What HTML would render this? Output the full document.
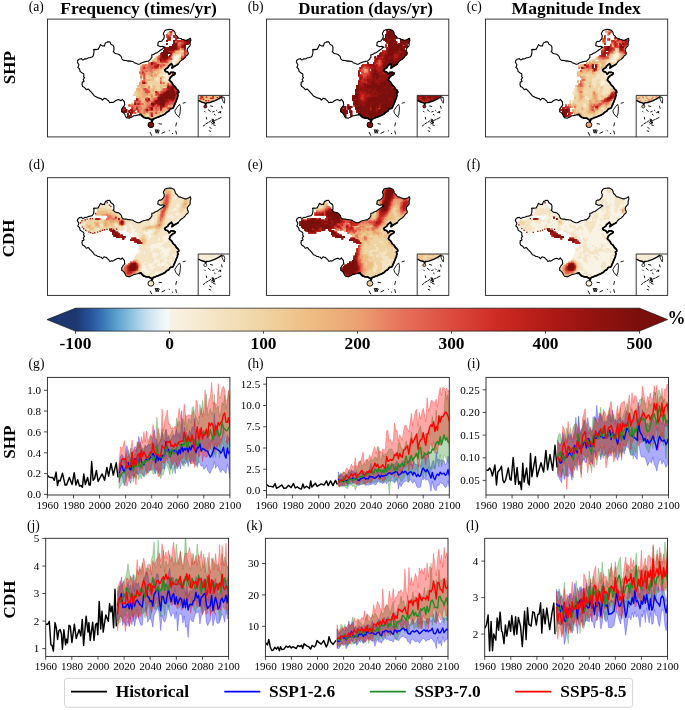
<!DOCTYPE html>
<html lang="en"><head><meta charset="utf-8"><title>Figure</title>
<style>
html,body{margin:0;padding:0;background:#fff;}
body{width:685px;height:710px;overflow:hidden;}
svg{display:block;}
text{font-family:"Liberation Serif", serif;fill:#000;}
.b{font-weight:bold;}
.pl{font-size:13.6px;}
.tt{font-size:17px;font-weight:bold;}
.tk{font-size:11.1px;}
.fr{fill:none;stroke:#222;stroke-width:0.9;}
.tm{stroke:#222;stroke-width:0.8;fill:none;}
</style></head><body>
<svg width="685" height="710" viewBox="0 0 685 710">
<rect x="0" y="0" width="685" height="710" fill="#ffffff"/>
<defs>
<linearGradient id="cb" x1="0" y1="0" x2="1" y2="0">
<stop offset="0.0000" stop-color="#1d3770"/>
<stop offset="0.0250" stop-color="#27509a"/>
<stop offset="0.0500" stop-color="#3b78b8"/>
<stop offset="0.0750" stop-color="#5fa3cf"/>
<stop offset="0.1000" stop-color="#8fc4df"/>
<stop offset="0.1250" stop-color="#c3deed"/>
<stop offset="0.1500" stop-color="#e9f2f7"/>
<stop offset="0.1658" stop-color="#f7fafb"/>
<stop offset="0.1675" stop-color="#f9f3e6"/>
<stop offset="0.2500" stop-color="#f4e4c4"/>
<stop offset="0.3333" stop-color="#efd4a3"/>
<stop offset="0.4167" stop-color="#eebd83"/>
<stop offset="0.5000" stop-color="#eba273"/>
<stop offset="0.5833" stop-color="#e5705a"/>
<stop offset="0.6667" stop-color="#dc4b3f"/>
<stop offset="0.7500" stop-color="#cd2a22"/>
<stop offset="0.8333" stop-color="#b31b17"/>
<stop offset="0.9167" stop-color="#941310"/>
<stop offset="1.0000" stop-color="#7b0f0c"/>
</linearGradient>
</defs>
<text class="tt" x="60.3" y="13.8" textLength="156.6" lengthAdjust="spacingAndGlyphs">Frequency (times/yr)</text>
<text class="tt" x="298.2" y="13.8" textLength="134.8" lengthAdjust="spacingAndGlyphs">Duration (days/yr)</text>
<text class="tt" x="511.6" y="13.8" textLength="129.2" lengthAdjust="spacingAndGlyphs">Magnitude Index</text>
<text class="pl" x="28.7" y="10.5">(a)</text>
<text class="pl" x="247.7" y="10.5">(b)</text>
<text class="pl" x="466.7" y="10.5">(c)</text>
<text class="pl" x="28.7" y="169.2">(d)</text>
<text class="pl" x="247.7" y="169.2">(e)</text>
<text class="pl" x="466.7" y="169.2">(f)</text>
<text class="pl" x="28.6" y="367.9">(g)</text>
<text class="pl" x="247.7" y="367.9">(h)</text>
<text class="pl" x="467.2" y="367.9">(i)</text>
<text class="pl" x="26.9" y="530.0">(j)</text>
<text class="pl" x="246.6" y="530.0">(k)</text>
<text class="pl" x="465.9" y="530.0">(l)</text>
<text class="tt" transform="translate(14.6 67.7) rotate(-90)" text-anchor="middle">SHP</text>
<text class="tt" transform="translate(13.6 238.3) rotate(-90)" text-anchor="middle">CDH</text>
<text class="tt" transform="translate(14.6 442.2) rotate(-90)" text-anchor="middle">SHP</text>
<text class="tt" transform="translate(15.2 599.5) rotate(-90)" text-anchor="middle">CDH</text>
<defs><path id="chn" d="M29.8 43.0L30.3 41.2L31.8 39.9L34.0 39.5L35.4 40.8L37.3 39.7L39.8 39.4L42.4 38.6L44.6 37.9L46.0 35.7L46.4 33.2L46.0 30.6L48.6 30.5L50.8 30.2L51.9 28.0L53.0 25.5L55.2 26.9L57.0 26.9L58.1 23.7L60.3 22.6L62.1 22.7L63.2 24.8L65.4 26.2L66.5 28.4L66.5 30.6L65.6 32.7L67.4 34.1L70.3 34.9L72.5 36.3L74.0 38.2L75.1 40.7L78.0 41.4L81.3 41.8L84.9 42.3L87.9 44.0L91.5 45.1L95.2 43.3L98.1 42.5L101.0 42.2L103.2 40.3L104.5 38.2L104.3 35.6L106.5 35.2L109.0 33.8L111.9 31.9L114.5 30.1L116.0 28.5L117.5 28.2L115.3 27.1L112.7 27.5L110.2 26.4L110.5 23.8L112.0 22.3L114.5 21.8L116.0 20.2L116.7 17.6L116.0 13.9L117.1 11.8L119.3 10.7L122.2 10.3L125.1 11.0L127.0 12.5L127.7 14.7L129.5 16.9L130.6 18.7L133.2 19.4L136.1 20.5L139.0 21.2L141.2 20.2L143.0 19.1L143.4 21.2L142.6 24.2L142.3 27.1L140.5 28.9L139.7 30.7L140.8 33.7L140.1 35.8L138.3 37.3L136.8 39.1L135.3 40.5L132.8 42.3L131.0 44.8L128.4 46.3L125.9 47.8L124.4 48.9L125.1 46.3L124.0 44.5L121.8 46.3L119.7 48.9L117.1 50.7L118.2 52.5L120.4 53.2L121.6 55.1L123.3 53.2L125.9 53.2L127.7 54.0L127.0 55.4L124.8 56.5L122.9 58.3L121.8 60.9L123.3 62.4L124.8 64.2L126.2 66.4L128.0 68.2L129.5 70.4L131.0 71.8L131.3 73.3L129.9 74.0L130.6 76.2L129.9 78.8L128.8 81.3L127.7 83.9L126.6 86.4L125.5 89.0L123.2 89.6L121.0 92.2L118.0 94.4L115.1 96.2L112.2 97.3L109.3 98.4L107.1 99.5L105.3 100.2L104.5 102.4L103.4 100.2L101.3 99.1L98.3 99.1L96.1 98.4L93.5 95.2L91.3 95.6L88.7 96.3L86.2 96.7L84.0 98.1L81.8 99.2L79.3 98.8L77.8 96.7L76.3 94.1L74.1 92.6L74.1 90.1L75.6 87.9L77.3 85.7L76.7 82.4L74.9 80.2L73.4 81.7L70.9 80.5L67.9 81.7L65.4 83.4L62.1 83.5L61.0 81.7L59.2 79.9L56.6 79.1L54.8 81.0L53.7 79.5L50.4 78.8L47.5 77.3L46.0 75.7L44.1 73.5L42.3 71.7L40.5 69.8L38.7 70.6L37.2 68.7L35.0 67.3L34.4 65.1L34.7 62.9L36.6 62.2L35.7 60.3L37.1 58.5L36.1 57.1L36.3 55.2L35.0 54.1L32.5 52.3L32.1 50.1L30.3 48.3L31.4 45.4L29.9 42.8z"/><path id="chj" d="M29.8 43.0L30.1 42.1L30.3 41.2L31.2 40.7L31.8 39.9L32.9 39.9L34.0 39.5L34.5 40.4L35.4 40.8L36.4 40.4L37.3 39.7L38.6 39.8L39.8 39.4L41.0 38.7L42.4 38.6L43.5 38.2L44.6 37.9L45.5 37.0L46.0 35.7L46.3 34.4L46.4 33.2L46.5 31.8L46.0 30.6L47.3 30.3L48.6 30.5L49.7 30.3L50.8 30.2L51.2 29.1L51.9 28.0L52.4 26.8L53.0 25.5L54.0 26.3L55.2 26.9L56.1 26.6L57.0 26.9L57.2 25.8L57.6 24.7L58.1 23.7L59.3 23.4L60.3 22.6L61.2 22.8L62.1 22.7L62.8 23.6L63.2 24.8L64.2 25.6L65.4 26.2L66.1 27.2L66.5 28.4L66.4 29.5L66.5 30.6L66.3 31.7L65.6 32.7L66.7 33.2L67.4 34.1L68.8 34.7L70.3 34.9L71.5 35.4L72.5 36.3L73.4 37.1L74.0 38.2L74.3 39.6L75.1 40.7L76.5 41.3L78.0 41.4L79.1 41.4L80.2 42.0L81.3 41.8L82.5 42.0L83.7 42.3L84.9 42.3L86.0 42.7L86.7 43.7L87.9 44.0L89.0 44.5L90.2 45.0L91.5 45.1L92.8 44.7L93.9 43.8L95.2 43.3L96.6 42.8L98.1 42.5L99.5 42.1L101.0 42.2L101.9 41.1L103.2 40.3L103.6 39.1L104.5 38.2L104.3 36.9L104.3 35.6L105.4 35.5L106.5 35.2L107.6 34.2L109.0 33.8L110.1 33.3L110.9 32.5L111.9 31.9L113.2 30.9L114.5 30.1L115.4 29.5L116.0 28.5L117.5 28.2L116.4 27.6L115.3 27.1L114.0 27.4L112.7 27.5L111.4 26.9L110.2 26.4L110.5 25.1L110.5 23.8L111.1 22.9L112.0 22.3L113.3 22.4L114.5 21.8L115.0 20.8L116.0 20.2L116.5 18.9L116.7 17.6L116.7 16.3L115.9 15.2L116.0 13.9L116.7 12.9L117.1 11.8L118.2 11.1L119.3 10.7L120.8 10.5L122.2 10.3L123.7 10.4L125.1 11.0L126.2 11.5L127.0 12.5L127.5 13.5L127.7 14.7L128.4 16.0L129.5 16.9L130.2 17.7L130.6 18.7L131.8 19.2L133.2 19.4L134.5 20.2L136.1 20.5L137.5 21.2L139.0 21.2L140.0 20.6L141.2 20.2L142.1 19.5L143.0 19.1L143.2 20.2L143.4 21.2L142.8 22.7L142.6 24.2L142.7 25.7L142.3 27.1L141.3 27.9L140.5 28.9L139.9 29.8L139.7 30.7L140.1 32.3L140.8 33.7L140.7 34.8L140.1 35.8L139.0 36.4L138.3 37.3L137.7 38.4L136.8 39.1L136.1 39.9L135.3 40.5L134.0 41.3L132.8 42.3L131.7 43.4L131.0 44.8L129.7 45.7L128.4 46.3L127.0 46.8L125.9 47.8L125.1 48.3L124.4 48.9L124.6 47.5L125.1 46.3L124.5 45.4L124.0 44.5L123.1 45.5L121.8 46.3L121.3 47.3L120.6 48.1L119.7 48.9L118.3 49.7L117.1 50.7L117.4 51.8L118.2 52.5L119.4 52.7L120.4 53.2L121.2 54.0L121.6 55.1L122.7 54.4L123.3 53.2L124.6 53.3L125.9 53.2L126.8 53.5L127.7 54.0L127.5 54.8L127.0 55.4L125.8 55.9L124.8 56.5L123.7 57.3L122.9 58.3L122.4 59.6L121.8 60.9L122.6 61.6L123.3 62.4L124.3 63.1L124.8 64.2L125.3 65.4L126.2 66.4L127.3 67.1L128.0 68.2L128.8 69.3L129.5 70.4L130.1 71.3L131.0 71.8L131.3 73.3L130.7 73.9L129.9 74.0L130.1 75.2L130.6 76.2L130.0 77.4L129.9 78.8L129.2 80.0L128.8 81.3L128.1 82.5L127.7 83.9L127.4 85.3L126.6 86.4L126.1 87.7L125.5 89.0L124.4 89.5L123.2 89.6L122.3 90.3L121.8 91.4L121.0 92.2L120.0 92.9L118.8 93.4L118.0 94.4L117.0 94.8L115.9 95.3L115.1 96.2L113.7 96.8L112.2 97.3L110.8 97.8L109.3 98.4L108.1 98.8L107.1 99.5L106.2 99.8L105.3 100.2L105.0 101.3L104.5 102.4L103.9 101.3L103.4 100.2L102.3 99.9L101.3 99.1L99.8 99.2L98.3 99.1L97.3 98.4L96.1 98.4L95.5 97.1L94.4 96.2L93.5 95.2L92.4 95.4L91.3 95.6L90.0 96.0L88.7 96.3L87.5 96.7L86.2 96.7L85.2 97.5L84.0 98.1L82.8 98.5L81.8 99.2L80.6 98.8L79.3 98.8L78.4 97.8L77.8 96.7L77.2 95.3L76.3 94.1L75.3 93.2L74.1 92.6L74.3 91.4L74.1 90.1L75.0 89.1L75.6 87.9L76.6 86.9L77.3 85.7L77.0 84.6L77.0 83.5L76.7 82.4L75.7 81.4L74.9 80.2L74.1 81.0L73.4 81.7L72.2 80.9L70.9 80.5L69.4 81.0L67.9 81.7L66.7 82.6L65.4 83.4L64.3 83.1L63.2 83.4L62.1 83.5L61.6 82.6L61.0 81.7L59.9 81.0L59.2 79.9L57.9 79.5L56.6 79.1L55.8 80.2L54.8 81.0L54.3 80.2L53.7 79.5L52.6 79.3L51.6 78.8L50.4 78.8L49.5 78.2L48.6 77.6L47.5 77.3L46.7 76.6L46.0 75.7L45.1 74.5L44.1 73.5L43.3 72.5L42.3 71.7L41.6 70.6L40.5 69.8L39.6 70.3L38.7 70.6L38.1 69.5L37.2 68.7L36.2 67.8L35.0 67.3L34.8 66.2L34.4 65.1L34.8 64.0L34.7 62.9L35.7 62.8L36.6 62.2L36.2 61.3L35.7 60.3L36.4 59.4L37.1 58.5L36.4 57.9L36.1 57.1L36.4 56.2L36.3 55.2L35.9 54.5L35.0 54.1L33.7 53.2L32.5 52.3L32.4 51.2L32.1 50.1L31.3 49.1L30.3 48.3L31.0 46.9L31.4 45.4L30.5 44.2L29.9 42.8z"/><path id="cst" d="M131.0 44.8L129.7 45.6L128.4 46.3L127.2 47.1L125.9 47.8L125.3 48.5L124.4 48.9L125.0 47.6L125.1 46.3L124.3 45.5L124.0 44.5L122.9 45.4L121.8 46.3L120.9 47.0L120.6 48.2L119.7 48.9L118.4 49.7L117.1 50.7L117.6 51.6L118.2 52.5L119.4 52.6L120.4 53.2L121.1 54.1L121.6 55.1L122.6 54.2L123.3 53.2L124.6 53.2L125.9 53.2L126.7 53.7L127.7 54.0L127.5 54.8L127.0 55.4L125.9 56.1L124.8 56.5L124.0 57.6L122.9 58.3L122.4 59.6L121.8 60.9L122.4 61.8L123.3 62.4L124.0 63.3L124.8 64.2L125.3 65.4L126.2 66.4L127.2 67.2L128.0 68.2L128.6 69.4L129.5 70.4L130.4 70.9L131.0 71.8L131.3 73.3L130.7 73.8L129.9 74.0L130.1 75.2L130.6 76.2L130.1 77.5L129.9 78.8L129.4 80.1L128.8 81.3L128.5 82.7L127.7 83.9L127.3 85.2L126.6 86.4L126.2 87.8L125.5 89.0L124.4 89.4L123.2 89.6L122.3 90.3L121.8 91.4L121.0 92.2L119.8 92.7L118.9 93.4L118.0 94.4L117.2 95.2L116.1 95.6L115.1 96.2L113.7 96.7L112.2 97.3L110.9 98.1L109.3 98.4L108.2 99.0L107.1 99.5L106.1 99.6L105.3 100.2L105.1 101.4L104.5 102.4L104.1 101.3L103.4 100.2L102.2 99.9L101.3 99.1L99.8 99.1L98.3 99.1L97.3 98.5L96.1 98.4L95.1 97.4L94.1 96.5L93.5 95.2L92.4 95.6L91.3 95.6"/>
<clipPath id="chc"><use href="#chn"/><ellipse cx="103.4" cy="105.7" rx="2.9" ry="2.8"/></clipPath>
<g id="sea"><path d="M132.1 85.2L129.7 88.0L127.3 91.8L128.1 94.4L131.1 97.8L132.4 95.0L132.8 91.0L132.9 87.5z" fill="#fff" stroke="#000" stroke-width="0.9" stroke-linejoin="round"/>
<path d="M135.6 84.1L137.8 83.4M111.5 104.6L114.0 105.0M129.0 103.8L128.3 106.8M107.8 111.0L108.7 113.7M108.7 113.7L109.7 111.3M109.7 111.3L110.6 113.9M110.6 113.9L111.6 111.6M114.4 114.2L117.3 112.8M121.6 111.4L122.0 111.7M124.8 114.3L125.3 114.6M128.3 111.9L129.0 114.8M102.7 113.3L104.2 116.3M131.4 97.9L131.9 98.4M108.2 110.8L111.3 111.0" stroke="#000" stroke-width="0.9" fill="none" stroke-linecap="round"/></g>
</defs>
<g transform="translate(47.5 19.1)">
<g clip-path="url(#chc)"><g transform="scale(1.50)">
<path fill="#f9f3e6" d="M83 7h1.1v1.2h-1.1zM81 8h2.1v1.2h-2.1zM80 9h3.1v1.2h-3.1zM79 10h4.1v1.2h-4.1zM79 11h3.1v1.2h-3.1zM84 11h2.1v1.2h-2.1zM80 12h2.1v1.2h-2.1zM85 12h2.1v1.2h-2.1zM80 13h2.1v1.2h-2.1zM85 13h1.1v1.2h-1.1zM89 13h1.1v1.2h-1.1zM94 13h1.1v1.2h-1.1zM79 14h1.1v1.2h-1.1zM84 14h1.1v1.2h-1.1zM86 14h9.1v1.2h-9.1zM84 15h1.1v1.2h-1.1zM86 15h9.1v1.2h-9.1zM79 16h1.1v1.2h-1.1zM84 16h10.1v1.2h-10.1zM83 17h9.1v1.2h-9.1zM81 18h11.1v1.2h-11.1zM78 19h14.1v1.2h-14.1zM78 20h14.1v1.2h-14.1zM77 21h16.1v1.2h-16.1zM76 22h18.1v1.2h-18.1zM75 23h5.1v1.2h-5.1zM82 23h12.1v1.2h-12.1zM74 24h6.1v1.2h-6.1zM81 24h12.1v1.2h-12.1zM72 25h20.1v1.2h-20.1zM71 26h20.1v1.2h-20.1zM70 27h19.1v1.2h-19.1zM70 28h18.1v1.2h-18.1zM67 29h21.1v1.2h-21.1zM63 30h19.1v1.2h-19.1zM83 30h3.1v1.2h-3.1zM62 31h19.1v1.2h-19.1zM83 31h1.1v1.2h-1.1zM62 32h18.1v1.2h-18.1zM62 33h16.1v1.2h-16.1zM62 34h16.1v1.2h-16.1zM61 35h19.1v1.2h-19.1zM82 35h2.1v1.2h-2.1zM62 36h7.1v1.2h-7.1zM71 36h14.1v1.2h-14.1zM62 37h22.1v1.2h-22.1zM62 38h1.1v1.2h-1.1zM64 38h18.1v1.2h-18.1zM62 39h1.1v1.2h-1.1zM64 39h18.1v1.2h-18.1zM64 40h17.1v1.2h-17.1zM62 41h20.1v1.2h-20.1zM61 42h22.1v1.2h-22.1zM61 43h23.1v1.2h-23.1zM60 44h24.1v1.2h-24.1zM60 45h25.1v1.2h-25.1zM59 46h27.1v1.2h-27.1zM59 47h28.1v1.2h-28.1zM58 48h29.1v1.2h-29.1zM58 49h29.1v1.2h-29.1zM57 50h30.1v1.2h-30.1zM59 51h28.1v1.2h-28.1zM59 52h28.1v1.2h-28.1zM59 53h27.1v1.2h-27.1zM58 54h28.1v1.2h-28.1zM58 55h27.1v1.2h-27.1zM56 56h1.1v1.2h-1.1zM58 56h27.1v1.2h-27.1zM54 57h30.1v1.2h-30.1zM50 58h1.1v1.2h-1.1zM56 58h28.1v1.2h-28.1zM50 59h2.1v1.2h-2.1zM56 59h27.1v1.2h-27.1zM49 60h1.1v1.2h-1.1zM52 60h1.1v1.2h-1.1zM55 60h2.1v1.2h-2.1zM58 60h1.1v1.2h-1.1zM60 60h21.1v1.2h-21.1zM50 61h3.1v1.2h-3.1zM54 61h1.1v1.2h-1.1zM56 61h2.1v1.2h-2.1zM60 61h21.1v1.2h-21.1zM55 62h2.1v1.2h-2.1zM58 62h1.1v1.2h-1.1zM61 62h18.1v1.2h-18.1zM53 63h1.1v1.2h-1.1zM55 63h1.1v1.2h-1.1zM61 63h17.1v1.2h-17.1zM53 64h3.1v1.2h-3.1zM63 64h13.1v1.2h-13.1zM54 65h1.1v1.2h-1.1zM64 65h9.1v1.2h-9.1zM68 66h3.1v1.2h-3.1zM69 67h1.1v1.2h-1.1zM67 69h4.1v1.2h-4.1zM67 70h4.1v1.2h-4.1zM67 71h4.1v1.2h-4.1z"/>
<path fill="#f4e4c4" d="M83 7h1.1v1.2h-1.1zM81 8h2.1v1.2h-2.1zM80 9h3.1v1.2h-3.1zM79 10h4.1v1.2h-4.1zM79 11h3.1v1.2h-3.1zM84 11h2.1v1.2h-2.1zM80 12h2.1v1.2h-2.1zM85 12h2.1v1.2h-2.1zM80 13h2.1v1.2h-2.1zM85 13h1.1v1.2h-1.1zM89 13h1.1v1.2h-1.1zM94 13h1.1v1.2h-1.1zM79 14h1.1v1.2h-1.1zM84 14h1.1v1.2h-1.1zM86 14h9.1v1.2h-9.1zM84 15h1.1v1.2h-1.1zM86 15h9.1v1.2h-9.1zM79 16h1.1v1.2h-1.1zM84 16h10.1v1.2h-10.1zM83 17h9.1v1.2h-9.1zM81 18h11.1v1.2h-11.1zM78 19h14.1v1.2h-14.1zM78 20h14.1v1.2h-14.1zM77 21h16.1v1.2h-16.1zM76 22h18.1v1.2h-18.1zM75 23h5.1v1.2h-5.1zM82 23h12.1v1.2h-12.1zM74 24h6.1v1.2h-6.1zM81 24h3.1v1.2h-3.1zM88 24h5.1v1.2h-5.1zM72 25h12.1v1.2h-12.1zM88 25h4.1v1.2h-4.1zM71 26h13.1v1.2h-13.1zM87 26h4.1v1.2h-4.1zM70 27h13.1v1.2h-13.1zM87 27h2.1v1.2h-2.1zM70 28h13.1v1.2h-13.1zM85 28h3.1v1.2h-3.1zM67 29h16.1v1.2h-16.1zM85 29h3.1v1.2h-3.1zM63 30h19.1v1.2h-19.1zM62 31h19.1v1.2h-19.1zM62 32h18.1v1.2h-18.1zM62 33h16.1v1.2h-16.1zM62 34h16.1v1.2h-16.1zM61 35h19.1v1.2h-19.1zM82 35h2.1v1.2h-2.1zM62 36h7.1v1.2h-7.1zM71 36h8.1v1.2h-8.1zM80 36h5.1v1.2h-5.1zM62 37h15.1v1.2h-15.1zM80 37h4.1v1.2h-4.1zM62 38h1.1v1.2h-1.1zM64 38h15.1v1.2h-15.1zM80 38h2.1v1.2h-2.1zM62 39h1.1v1.2h-1.1zM64 39h15.1v1.2h-15.1zM80 39h2.1v1.2h-2.1zM64 40h13.1v1.2h-13.1zM78 40h3.1v1.2h-3.1zM62 41h20.1v1.2h-20.1zM61 42h22.1v1.2h-22.1zM61 43h23.1v1.2h-23.1zM60 44h24.1v1.2h-24.1zM60 45h25.1v1.2h-25.1zM59 46h27.1v1.2h-27.1zM59 47h28.1v1.2h-28.1zM58 48h29.1v1.2h-29.1zM58 49h29.1v1.2h-29.1zM57 50h30.1v1.2h-30.1zM59 51h28.1v1.2h-28.1zM59 52h28.1v1.2h-28.1zM59 53h27.1v1.2h-27.1zM58 54h28.1v1.2h-28.1zM58 55h27.1v1.2h-27.1zM56 56h1.1v1.2h-1.1zM58 56h27.1v1.2h-27.1zM54 57h30.1v1.2h-30.1zM50 58h1.1v1.2h-1.1zM56 58h28.1v1.2h-28.1zM50 59h2.1v1.2h-2.1zM56 59h27.1v1.2h-27.1zM49 60h1.1v1.2h-1.1zM52 60h1.1v1.2h-1.1zM55 60h2.1v1.2h-2.1zM58 60h1.1v1.2h-1.1zM60 60h21.1v1.2h-21.1zM50 61h3.1v1.2h-3.1zM54 61h1.1v1.2h-1.1zM56 61h2.1v1.2h-2.1zM60 61h21.1v1.2h-21.1zM55 62h2.1v1.2h-2.1zM58 62h1.1v1.2h-1.1zM61 62h18.1v1.2h-18.1zM53 63h1.1v1.2h-1.1zM55 63h1.1v1.2h-1.1zM61 63h17.1v1.2h-17.1zM53 64h3.1v1.2h-3.1zM63 64h13.1v1.2h-13.1zM54 65h1.1v1.2h-1.1zM64 65h9.1v1.2h-9.1zM68 66h3.1v1.2h-3.1zM69 67h1.1v1.2h-1.1zM67 69h4.1v1.2h-4.1zM67 70h4.1v1.2h-4.1zM67 71h4.1v1.2h-4.1z"/>
<path fill="#efd4a3" d="M83 7h1.1v1.2h-1.1zM81 8h2.1v1.2h-2.1zM80 9h3.1v1.2h-3.1zM79 10h4.1v1.2h-4.1zM79 11h3.1v1.2h-3.1zM84 11h2.1v1.2h-2.1zM80 12h2.1v1.2h-2.1zM85 12h2.1v1.2h-2.1zM80 13h2.1v1.2h-2.1zM85 13h1.1v1.2h-1.1zM89 13h1.1v1.2h-1.1zM94 13h1.1v1.2h-1.1zM79 14h1.1v1.2h-1.1zM84 14h1.1v1.2h-1.1zM86 14h9.1v1.2h-9.1zM84 15h1.1v1.2h-1.1zM86 15h9.1v1.2h-9.1zM79 16h1.1v1.2h-1.1zM84 16h10.1v1.2h-10.1zM83 17h9.1v1.2h-9.1zM81 18h11.1v1.2h-11.1zM78 19h14.1v1.2h-14.1zM78 20h14.1v1.2h-14.1zM77 21h12.1v1.2h-12.1zM90 21h3.1v1.2h-3.1zM76 22h18.1v1.2h-18.1zM75 23h5.1v1.2h-5.1zM82 23h4.1v1.2h-4.1zM89 23h5.1v1.2h-5.1zM74 24h6.1v1.2h-6.1zM81 24h3.1v1.2h-3.1zM89 24h4.1v1.2h-4.1zM72 25h11.1v1.2h-11.1zM88 25h4.1v1.2h-4.1zM71 26h12.1v1.2h-12.1zM88 26h3.1v1.2h-3.1zM70 27h13.1v1.2h-13.1zM88 27h1.1v1.2h-1.1zM70 28h13.1v1.2h-13.1zM87 28h1.1v1.2h-1.1zM67 29h15.1v1.2h-15.1zM86 29h2.1v1.2h-2.1zM63 30h18.1v1.2h-18.1zM62 31h18.1v1.2h-18.1zM62 32h15.1v1.2h-15.1zM62 33h16.1v1.2h-16.1zM62 34h14.1v1.2h-14.1zM61 35h16.1v1.2h-16.1zM82 35h2.1v1.2h-2.1zM62 36h7.1v1.2h-7.1zM71 36h3.1v1.2h-3.1zM82 36h3.1v1.2h-3.1zM62 37h12.1v1.2h-12.1zM81 37h3.1v1.2h-3.1zM62 38h1.1v1.2h-1.1zM64 38h9.1v1.2h-9.1zM74 38h4.1v1.2h-4.1zM62 39h1.1v1.2h-1.1zM64 39h8.1v1.2h-8.1zM75 39h2.1v1.2h-2.1zM81 39h1.1v1.2h-1.1zM64 40h7.1v1.2h-7.1zM74 40h3.1v1.2h-3.1zM80 40h1.1v1.2h-1.1zM62 41h11.1v1.2h-11.1zM74 41h4.1v1.2h-4.1zM81 41h1.1v1.2h-1.1zM61 42h22.1v1.2h-22.1zM61 43h8.1v1.2h-8.1zM70 43h14.1v1.2h-14.1zM60 44h9.1v1.2h-9.1zM70 44h14.1v1.2h-14.1zM60 45h9.1v1.2h-9.1zM70 45h7.1v1.2h-7.1zM78 45h7.1v1.2h-7.1zM59 46h27.1v1.2h-27.1zM59 47h28.1v1.2h-28.1zM58 48h29.1v1.2h-29.1zM58 49h29.1v1.2h-29.1zM57 50h30.1v1.2h-30.1zM59 51h28.1v1.2h-28.1zM59 52h28.1v1.2h-28.1zM59 53h27.1v1.2h-27.1zM58 54h28.1v1.2h-28.1zM58 55h27.1v1.2h-27.1zM56 56h1.1v1.2h-1.1zM58 56h27.1v1.2h-27.1zM54 57h30.1v1.2h-30.1zM50 58h1.1v1.2h-1.1zM56 58h28.1v1.2h-28.1zM50 59h2.1v1.2h-2.1zM56 59h27.1v1.2h-27.1zM49 60h1.1v1.2h-1.1zM52 60h1.1v1.2h-1.1zM55 60h2.1v1.2h-2.1zM58 60h1.1v1.2h-1.1zM60 60h21.1v1.2h-21.1zM50 61h3.1v1.2h-3.1zM54 61h1.1v1.2h-1.1zM56 61h2.1v1.2h-2.1zM60 61h21.1v1.2h-21.1zM55 62h2.1v1.2h-2.1zM58 62h1.1v1.2h-1.1zM61 62h14.1v1.2h-14.1zM76 62h1.1v1.2h-1.1zM78 62h1.1v1.2h-1.1zM53 63h1.1v1.2h-1.1zM55 63h1.1v1.2h-1.1zM61 63h15.1v1.2h-15.1zM53 64h3.1v1.2h-3.1zM63 64h13.1v1.2h-13.1zM54 65h1.1v1.2h-1.1zM64 65h2.1v1.2h-2.1zM67 65h6.1v1.2h-6.1zM68 66h3.1v1.2h-3.1zM69 67h1.1v1.2h-1.1zM67 69h4.1v1.2h-4.1zM67 70h4.1v1.2h-4.1zM67 71h4.1v1.2h-4.1z"/>
<path fill="#eebd83" d="M83 7h1.1v1.2h-1.1zM81 8h2.1v1.2h-2.1zM80 9h3.1v1.2h-3.1zM79 10h4.1v1.2h-4.1zM79 11h3.1v1.2h-3.1zM84 11h2.1v1.2h-2.1zM80 12h2.1v1.2h-2.1zM85 12h2.1v1.2h-2.1zM80 13h2.1v1.2h-2.1zM85 13h1.1v1.2h-1.1zM89 13h1.1v1.2h-1.1zM94 13h1.1v1.2h-1.1zM79 14h1.1v1.2h-1.1zM84 14h1.1v1.2h-1.1zM86 14h9.1v1.2h-9.1zM84 15h1.1v1.2h-1.1zM86 15h9.1v1.2h-9.1zM79 16h1.1v1.2h-1.1zM84 16h10.1v1.2h-10.1zM83 17h9.1v1.2h-9.1zM81 18h11.1v1.2h-11.1zM78 19h14.1v1.2h-14.1zM78 20h11.1v1.2h-11.1zM90 20h2.1v1.2h-2.1zM77 21h9.1v1.2h-9.1zM87 21h1.1v1.2h-1.1zM91 21h2.1v1.2h-2.1zM76 22h12.1v1.2h-12.1zM89 22h5.1v1.2h-5.1zM75 23h5.1v1.2h-5.1zM82 23h2.1v1.2h-2.1zM89 23h5.1v1.2h-5.1zM74 24h6.1v1.2h-6.1zM81 24h3.1v1.2h-3.1zM89 24h4.1v1.2h-4.1zM72 25h11.1v1.2h-11.1zM89 25h3.1v1.2h-3.1zM71 26h12.1v1.2h-12.1zM88 26h3.1v1.2h-3.1zM70 27h12.1v1.2h-12.1zM88 27h1.1v1.2h-1.1zM70 28h12.1v1.2h-12.1zM67 29h15.1v1.2h-15.1zM86 29h2.1v1.2h-2.1zM63 30h17.1v1.2h-17.1zM62 31h17.1v1.2h-17.1zM62 32h15.1v1.2h-15.1zM62 33h14.1v1.2h-14.1zM62 34h12.1v1.2h-12.1zM61 35h11.1v1.2h-11.1zM73 35h2.1v1.2h-2.1zM82 35h2.1v1.2h-2.1zM62 36h7.1v1.2h-7.1zM71 36h3.1v1.2h-3.1zM82 36h3.1v1.2h-3.1zM62 37h4.1v1.2h-4.1zM67 37h6.1v1.2h-6.1zM83 37h1.1v1.2h-1.1zM62 38h1.1v1.2h-1.1zM64 38h2.1v1.2h-2.1zM67 38h1.1v1.2h-1.1zM70 38h1.1v1.2h-1.1zM76 38h1.1v1.2h-1.1zM62 39h1.1v1.2h-1.1zM64 39h2.1v1.2h-2.1zM69 39h2.1v1.2h-2.1zM75 39h1.1v1.2h-1.1zM64 40h7.1v1.2h-7.1zM75 40h1.1v1.2h-1.1zM62 41h5.1v1.2h-5.1zM75 41h1.1v1.2h-1.1zM61 42h6.1v1.2h-6.1zM75 42h3.1v1.2h-3.1zM80 42h1.1v1.2h-1.1zM61 43h6.1v1.2h-6.1zM76 43h1.1v1.2h-1.1zM79 43h5.1v1.2h-5.1zM60 44h6.1v1.2h-6.1zM67 44h1.1v1.2h-1.1zM70 44h2.1v1.2h-2.1zM75 44h1.1v1.2h-1.1zM77 44h7.1v1.2h-7.1zM61 45h7.1v1.2h-7.1zM70 45h2.1v1.2h-2.1zM75 45h2.1v1.2h-2.1zM79 45h6.1v1.2h-6.1zM59 46h9.1v1.2h-9.1zM69 46h3.1v1.2h-3.1zM76 46h10.1v1.2h-10.1zM59 47h12.1v1.2h-12.1zM72 47h1.1v1.2h-1.1zM75 47h12.1v1.2h-12.1zM60 48h10.1v1.2h-10.1zM71 48h16.1v1.2h-16.1zM60 49h27.1v1.2h-27.1zM61 50h26.1v1.2h-26.1zM59 51h8.1v1.2h-8.1zM68 51h19.1v1.2h-19.1zM59 52h28.1v1.2h-28.1zM59 53h27.1v1.2h-27.1zM58 54h28.1v1.2h-28.1zM58 55h27.1v1.2h-27.1zM56 56h1.1v1.2h-1.1zM58 56h27.1v1.2h-27.1zM54 57h30.1v1.2h-30.1zM50 58h1.1v1.2h-1.1zM56 58h28.1v1.2h-28.1zM50 59h2.1v1.2h-2.1zM56 59h27.1v1.2h-27.1zM49 60h1.1v1.2h-1.1zM52 60h1.1v1.2h-1.1zM55 60h2.1v1.2h-2.1zM58 60h1.1v1.2h-1.1zM60 60h21.1v1.2h-21.1zM50 61h3.1v1.2h-3.1zM54 61h1.1v1.2h-1.1zM56 61h2.1v1.2h-2.1zM60 61h18.1v1.2h-18.1zM55 62h2.1v1.2h-2.1zM58 62h1.1v1.2h-1.1zM61 62h5.1v1.2h-5.1zM67 62h8.1v1.2h-8.1zM53 63h1.1v1.2h-1.1zM55 63h1.1v1.2h-1.1zM61 63h4.1v1.2h-4.1zM68 63h7.1v1.2h-7.1zM53 64h3.1v1.2h-3.1zM64 64h1.1v1.2h-1.1zM68 64h3.1v1.2h-3.1zM75 64h1.1v1.2h-1.1zM54 65h1.1v1.2h-1.1zM64 65h1.1v1.2h-1.1zM68 65h2.1v1.2h-2.1zM68 66h3.1v1.2h-3.1zM69 67h1.1v1.2h-1.1zM67 69h4.1v1.2h-4.1zM67 70h4.1v1.2h-4.1zM67 71h4.1v1.2h-4.1z"/>
<path fill="#eba273" d="M83 7h1.1v1.2h-1.1zM81 8h2.1v1.2h-2.1zM80 9h1.1v1.2h-1.1zM82 9h1.1v1.2h-1.1zM79 10h1.1v1.2h-1.1zM81 10h2.1v1.2h-2.1zM79 11h3.1v1.2h-3.1zM84 11h2.1v1.2h-2.1zM80 12h2.1v1.2h-2.1zM85 12h2.1v1.2h-2.1zM80 13h2.1v1.2h-2.1zM85 13h1.1v1.2h-1.1zM89 13h1.1v1.2h-1.1zM94 13h1.1v1.2h-1.1zM79 14h1.1v1.2h-1.1zM84 14h1.1v1.2h-1.1zM86 14h9.1v1.2h-9.1zM84 15h1.1v1.2h-1.1zM86 15h9.1v1.2h-9.1zM79 16h1.1v1.2h-1.1zM84 16h10.1v1.2h-10.1zM83 17h9.1v1.2h-9.1zM81 18h11.1v1.2h-11.1zM78 19h14.1v1.2h-14.1zM78 20h10.1v1.2h-10.1zM90 20h2.1v1.2h-2.1zM77 21h8.1v1.2h-8.1zM91 21h2.1v1.2h-2.1zM76 22h9.1v1.2h-9.1zM90 22h4.1v1.2h-4.1zM75 23h5.1v1.2h-5.1zM82 23h1.1v1.2h-1.1zM90 23h3.1v1.2h-3.1zM74 24h6.1v1.2h-6.1zM81 24h2.1v1.2h-2.1zM89 24h4.1v1.2h-4.1zM73 25h10.1v1.2h-10.1zM89 25h3.1v1.2h-3.1zM73 26h10.1v1.2h-10.1zM89 26h2.1v1.2h-2.1zM73 27h9.1v1.2h-9.1zM70 28h11.1v1.2h-11.1zM67 29h13.1v1.2h-13.1zM63 30h16.1v1.2h-16.1zM62 31h16.1v1.2h-16.1zM62 32h14.1v1.2h-14.1zM62 33h12.1v1.2h-12.1zM62 34h9.1v1.2h-9.1zM61 35h10.1v1.2h-10.1zM83 35h1.1v1.2h-1.1zM62 36h4.1v1.2h-4.1zM67 36h2.1v1.2h-2.1zM71 36h1.1v1.2h-1.1zM83 36h2.1v1.2h-2.1zM62 37h3.1v1.2h-3.1zM69 37h1.1v1.2h-1.1zM71 37h2.1v1.2h-2.1zM83 37h1.1v1.2h-1.1zM62 38h1.1v1.2h-1.1zM64 38h1.1v1.2h-1.1zM62 39h1.1v1.2h-1.1zM64 39h1.1v1.2h-1.1zM75 39h1.1v1.2h-1.1zM64 40h2.1v1.2h-2.1zM67 40h1.1v1.2h-1.1zM75 40h1.1v1.2h-1.1zM62 41h4.1v1.2h-4.1zM75 41h1.1v1.2h-1.1zM61 42h5.1v1.2h-5.1zM75 42h3.1v1.2h-3.1zM61 43h3.1v1.2h-3.1zM80 43h4.1v1.2h-4.1zM62 44h3.1v1.2h-3.1zM79 44h5.1v1.2h-5.1zM62 45h2.1v1.2h-2.1zM67 45h1.1v1.2h-1.1zM79 45h6.1v1.2h-6.1zM60 46h1.1v1.2h-1.1zM63 46h4.1v1.2h-4.1zM76 46h10.1v1.2h-10.1zM61 47h1.1v1.2h-1.1zM63 47h5.1v1.2h-5.1zM70 47h1.1v1.2h-1.1zM76 47h11.1v1.2h-11.1zM64 48h5.1v1.2h-5.1zM72 48h15.1v1.2h-15.1zM63 49h4.1v1.2h-4.1zM72 49h15.1v1.2h-15.1zM64 50h3.1v1.2h-3.1zM68 50h2.1v1.2h-2.1zM72 50h15.1v1.2h-15.1zM63 51h2.1v1.2h-2.1zM69 51h1.1v1.2h-1.1zM73 51h14.1v1.2h-14.1zM61 52h1.1v1.2h-1.1zM65 52h3.1v1.2h-3.1zM69 52h18.1v1.2h-18.1zM59 53h3.1v1.2h-3.1zM65 53h21.1v1.2h-21.1zM58 54h5.1v1.2h-5.1zM65 54h4.1v1.2h-4.1zM70 54h16.1v1.2h-16.1zM58 55h5.1v1.2h-5.1zM64 55h21.1v1.2h-21.1zM58 56h6.1v1.2h-6.1zM65 56h20.1v1.2h-20.1zM54 57h29.1v1.2h-29.1zM50 58h1.1v1.2h-1.1zM56 58h24.1v1.2h-24.1zM82 58h1.1v1.2h-1.1zM50 59h2.1v1.2h-2.1zM56 59h27.1v1.2h-27.1zM49 60h1.1v1.2h-1.1zM52 60h1.1v1.2h-1.1zM55 60h2.1v1.2h-2.1zM58 60h1.1v1.2h-1.1zM60 60h18.1v1.2h-18.1zM80 60h1.1v1.2h-1.1zM50 61h3.1v1.2h-3.1zM54 61h1.1v1.2h-1.1zM56 61h2.1v1.2h-2.1zM60 61h14.1v1.2h-14.1zM75 61h2.1v1.2h-2.1zM55 62h2.1v1.2h-2.1zM58 62h1.1v1.2h-1.1zM61 62h4.1v1.2h-4.1zM68 62h5.1v1.2h-5.1zM74 62h1.1v1.2h-1.1zM53 63h1.1v1.2h-1.1zM55 63h1.1v1.2h-1.1zM61 63h1.1v1.2h-1.1zM68 63h2.1v1.2h-2.1zM53 64h3.1v1.2h-3.1zM64 64h1.1v1.2h-1.1zM68 64h2.1v1.2h-2.1zM54 65h1.1v1.2h-1.1zM64 65h1.1v1.2h-1.1zM68 66h2.1v1.2h-2.1zM69 67h1.1v1.2h-1.1zM67 69h4.1v1.2h-4.1zM67 70h4.1v1.2h-4.1zM67 71h4.1v1.2h-4.1z"/>
<path fill="#e5705a" d="M83 7h1.1v1.2h-1.1zM81 8h2.1v1.2h-2.1zM82 9h1.1v1.2h-1.1zM79 10h1.1v1.2h-1.1zM81 10h2.1v1.2h-2.1zM79 11h3.1v1.2h-3.1zM84 11h2.1v1.2h-2.1zM80 12h2.1v1.2h-2.1zM85 12h2.1v1.2h-2.1zM80 13h2.1v1.2h-2.1zM85 13h1.1v1.2h-1.1zM89 13h1.1v1.2h-1.1zM94 13h1.1v1.2h-1.1zM79 14h1.1v1.2h-1.1zM84 14h1.1v1.2h-1.1zM86 14h9.1v1.2h-9.1zM84 15h1.1v1.2h-1.1zM86 15h9.1v1.2h-9.1zM79 16h1.1v1.2h-1.1zM84 16h3.1v1.2h-3.1zM88 16h6.1v1.2h-6.1zM83 17h9.1v1.2h-9.1zM81 18h11.1v1.2h-11.1zM78 19h10.1v1.2h-10.1zM89 19h3.1v1.2h-3.1zM78 20h9.1v1.2h-9.1zM91 20h1.1v1.2h-1.1zM77 21h8.1v1.2h-8.1zM91 21h2.1v1.2h-2.1zM76 22h7.1v1.2h-7.1zM91 22h2.1v1.2h-2.1zM75 23h5.1v1.2h-5.1zM82 23h1.1v1.2h-1.1zM91 23h1.1v1.2h-1.1zM74 24h6.1v1.2h-6.1zM81 24h2.1v1.2h-2.1zM91 24h1.1v1.2h-1.1zM73 25h10.1v1.2h-10.1zM89 25h3.1v1.2h-3.1zM73 26h10.1v1.2h-10.1zM89 26h2.1v1.2h-2.1zM73 27h8.1v1.2h-8.1zM70 28h1.1v1.2h-1.1zM74 28h6.1v1.2h-6.1zM67 29h7.1v1.2h-7.1zM76 29h1.1v1.2h-1.1zM65 30h1.1v1.2h-1.1zM67 30h11.1v1.2h-11.1zM63 31h2.1v1.2h-2.1zM66 31h8.1v1.2h-8.1zM75 31h2.1v1.2h-2.1zM63 32h11.1v1.2h-11.1zM62 33h4.1v1.2h-4.1zM67 33h3.1v1.2h-3.1zM71 33h1.1v1.2h-1.1zM63 34h1.1v1.2h-1.1zM65 34h2.1v1.2h-2.1zM68 34h2.1v1.2h-2.1zM61 35h4.1v1.2h-4.1zM69 35h1.1v1.2h-1.1zM62 36h3.1v1.2h-3.1zM83 36h2.1v1.2h-2.1zM64 37h1.1v1.2h-1.1zM69 37h1.1v1.2h-1.1zM62 38h1.1v1.2h-1.1zM64 38h1.1v1.2h-1.1zM64 39h1.1v1.2h-1.1zM75 39h1.1v1.2h-1.1zM63 41h2.1v1.2h-2.1zM75 41h1.1v1.2h-1.1zM63 42h3.1v1.2h-3.1zM75 42h1.1v1.2h-1.1zM77 42h1.1v1.2h-1.1zM80 43h1.1v1.2h-1.1zM82 43h1.1v1.2h-1.1zM80 44h4.1v1.2h-4.1zM67 45h1.1v1.2h-1.1zM80 45h5.1v1.2h-5.1zM64 46h2.1v1.2h-2.1zM77 46h9.1v1.2h-9.1zM64 47h4.1v1.2h-4.1zM76 47h11.1v1.2h-11.1zM65 48h3.1v1.2h-3.1zM72 48h1.1v1.2h-1.1zM75 48h12.1v1.2h-12.1zM66 49h1.1v1.2h-1.1zM72 49h15.1v1.2h-15.1zM72 50h15.1v1.2h-15.1zM69 51h1.1v1.2h-1.1zM73 51h13.1v1.2h-13.1zM66 52h1.1v1.2h-1.1zM72 52h15.1v1.2h-15.1zM59 53h2.1v1.2h-2.1zM65 53h3.1v1.2h-3.1zM70 53h16.1v1.2h-16.1zM58 54h4.1v1.2h-4.1zM66 54h3.1v1.2h-3.1zM70 54h15.1v1.2h-15.1zM58 55h4.1v1.2h-4.1zM66 55h2.1v1.2h-2.1zM69 55h16.1v1.2h-16.1zM58 56h6.1v1.2h-6.1zM68 56h17.1v1.2h-17.1zM54 57h8.1v1.2h-8.1zM66 57h14.1v1.2h-14.1zM50 58h1.1v1.2h-1.1zM56 58h2.1v1.2h-2.1zM59 58h3.1v1.2h-3.1zM66 58h14.1v1.2h-14.1zM50 59h2.1v1.2h-2.1zM56 59h5.1v1.2h-5.1zM62 59h1.1v1.2h-1.1zM65 59h2.1v1.2h-2.1zM68 59h9.1v1.2h-9.1zM80 59h3.1v1.2h-3.1zM49 60h1.1v1.2h-1.1zM52 60h1.1v1.2h-1.1zM55 60h2.1v1.2h-2.1zM58 60h1.1v1.2h-1.1zM60 60h2.1v1.2h-2.1zM64 60h7.1v1.2h-7.1zM72 60h2.1v1.2h-2.1zM75 60h1.1v1.2h-1.1zM50 61h3.1v1.2h-3.1zM54 61h1.1v1.2h-1.1zM56 61h2.1v1.2h-2.1zM60 61h2.1v1.2h-2.1zM64 61h3.1v1.2h-3.1zM72 61h1.1v1.2h-1.1zM55 62h2.1v1.2h-2.1zM58 62h1.1v1.2h-1.1zM61 62h1.1v1.2h-1.1zM64 62h1.1v1.2h-1.1zM68 62h2.1v1.2h-2.1zM72 62h1.1v1.2h-1.1zM53 63h1.1v1.2h-1.1zM55 63h1.1v1.2h-1.1zM68 63h2.1v1.2h-2.1zM53 64h3.1v1.2h-3.1zM69 64h1.1v1.2h-1.1zM54 65h1.1v1.2h-1.1zM69 67h1.1v1.2h-1.1zM67 69h4.1v1.2h-4.1zM67 70h4.1v1.2h-4.1zM67 71h4.1v1.2h-4.1z"/>
<path fill="#dc4b3f" d="M83 7h1.1v1.2h-1.1zM82 8h1.1v1.2h-1.1zM82 9h1.1v1.2h-1.1zM79 10h1.1v1.2h-1.1zM79 11h3.1v1.2h-3.1zM84 11h2.1v1.2h-2.1zM80 12h2.1v1.2h-2.1zM85 12h2.1v1.2h-2.1zM80 13h2.1v1.2h-2.1zM85 13h1.1v1.2h-1.1zM89 13h1.1v1.2h-1.1zM94 13h1.1v1.2h-1.1zM79 14h1.1v1.2h-1.1zM84 14h1.1v1.2h-1.1zM86 14h9.1v1.2h-9.1zM84 15h1.1v1.2h-1.1zM86 15h1.1v1.2h-1.1zM89 15h6.1v1.2h-6.1zM79 16h1.1v1.2h-1.1zM84 16h3.1v1.2h-3.1zM89 16h5.1v1.2h-5.1zM83 17h4.1v1.2h-4.1zM88 17h4.1v1.2h-4.1zM81 18h11.1v1.2h-11.1zM78 19h10.1v1.2h-10.1zM90 19h2.1v1.2h-2.1zM78 20h8.1v1.2h-8.1zM91 20h1.1v1.2h-1.1zM77 21h8.1v1.2h-8.1zM91 21h2.1v1.2h-2.1zM76 22h7.1v1.2h-7.1zM75 23h5.1v1.2h-5.1zM82 23h1.1v1.2h-1.1zM91 23h1.1v1.2h-1.1zM75 24h5.1v1.2h-5.1zM81 24h1.1v1.2h-1.1zM91 24h1.1v1.2h-1.1zM74 25h8.1v1.2h-8.1zM89 25h3.1v1.2h-3.1zM74 26h9.1v1.2h-9.1zM89 26h2.1v1.2h-2.1zM75 27h5.1v1.2h-5.1zM75 28h5.1v1.2h-5.1zM68 29h5.1v1.2h-5.1zM68 30h2.1v1.2h-2.1zM72 30h3.1v1.2h-3.1zM77 30h1.1v1.2h-1.1zM64 31h1.1v1.2h-1.1zM68 31h6.1v1.2h-6.1zM75 31h1.1v1.2h-1.1zM64 32h1.1v1.2h-1.1zM69 32h2.1v1.2h-2.1zM72 32h1.1v1.2h-1.1zM63 35h1.1v1.2h-1.1zM64 36h1.1v1.2h-1.1zM83 36h1.1v1.2h-1.1zM64 37h1.1v1.2h-1.1zM64 38h1.1v1.2h-1.1zM64 39h1.1v1.2h-1.1zM63 41h2.1v1.2h-2.1zM63 42h2.1v1.2h-2.1zM75 42h1.1v1.2h-1.1zM80 43h1.1v1.2h-1.1zM80 44h4.1v1.2h-4.1zM80 45h5.1v1.2h-5.1zM64 46h2.1v1.2h-2.1zM78 46h8.1v1.2h-8.1zM65 47h2.1v1.2h-2.1zM77 47h10.1v1.2h-10.1zM65 48h3.1v1.2h-3.1zM72 48h1.1v1.2h-1.1zM76 48h11.1v1.2h-11.1zM72 49h2.1v1.2h-2.1zM75 49h11.1v1.2h-11.1zM72 50h1.1v1.2h-1.1zM74 50h12.1v1.2h-12.1zM74 51h12.1v1.2h-12.1zM73 52h13.1v1.2h-13.1zM59 53h2.1v1.2h-2.1zM65 53h3.1v1.2h-3.1zM71 53h15.1v1.2h-15.1zM58 54h1.1v1.2h-1.1zM60 54h1.1v1.2h-1.1zM66 54h1.1v1.2h-1.1zM71 54h14.1v1.2h-14.1zM58 55h1.1v1.2h-1.1zM61 55h1.1v1.2h-1.1zM69 55h15.1v1.2h-15.1zM58 56h1.1v1.2h-1.1zM60 56h2.1v1.2h-2.1zM69 56h13.1v1.2h-13.1zM54 57h1.1v1.2h-1.1zM68 57h12.1v1.2h-12.1zM50 58h1.1v1.2h-1.1zM56 58h1.1v1.2h-1.1zM59 58h1.1v1.2h-1.1zM67 58h1.1v1.2h-1.1zM69 58h1.1v1.2h-1.1zM72 58h1.1v1.2h-1.1zM75 58h3.1v1.2h-3.1zM50 59h2.1v1.2h-2.1zM56 59h1.1v1.2h-1.1zM59 59h1.1v1.2h-1.1zM66 59h1.1v1.2h-1.1zM68 59h2.1v1.2h-2.1zM72 59h1.1v1.2h-1.1zM75 59h1.1v1.2h-1.1zM80 59h2.1v1.2h-2.1zM49 60h1.1v1.2h-1.1zM52 60h1.1v1.2h-1.1zM55 60h2.1v1.2h-2.1zM58 60h1.1v1.2h-1.1zM60 60h1.1v1.2h-1.1zM65 60h2.1v1.2h-2.1zM68 60h2.1v1.2h-2.1zM75 60h1.1v1.2h-1.1zM50 61h3.1v1.2h-3.1zM54 61h1.1v1.2h-1.1zM56 61h2.1v1.2h-2.1zM60 61h1.1v1.2h-1.1zM66 61h1.1v1.2h-1.1zM55 62h2.1v1.2h-2.1zM58 62h1.1v1.2h-1.1zM69 62h1.1v1.2h-1.1zM72 62h1.1v1.2h-1.1zM53 63h1.1v1.2h-1.1zM55 63h1.1v1.2h-1.1zM69 63h1.1v1.2h-1.1zM53 64h3.1v1.2h-3.1zM69 64h1.1v1.2h-1.1zM54 65h1.1v1.2h-1.1zM67 69h4.1v1.2h-4.1zM67 70h4.1v1.2h-4.1zM67 71h4.1v1.2h-4.1z"/>
<path fill="#cd2a22" d="M82 8h1.1v1.2h-1.1zM80 11h1.1v1.2h-1.1zM84 11h1.1v1.2h-1.1zM80 12h2.1v1.2h-2.1zM86 12h1.1v1.2h-1.1zM80 13h2.1v1.2h-2.1zM85 13h1.1v1.2h-1.1zM89 13h1.1v1.2h-1.1zM94 13h1.1v1.2h-1.1zM79 14h1.1v1.2h-1.1zM84 14h1.1v1.2h-1.1zM86 14h9.1v1.2h-9.1zM84 15h1.1v1.2h-1.1zM86 15h1.1v1.2h-1.1zM90 15h5.1v1.2h-5.1zM79 16h1.1v1.2h-1.1zM84 16h2.1v1.2h-2.1zM91 16h3.1v1.2h-3.1zM83 17h4.1v1.2h-4.1zM89 17h3.1v1.2h-3.1zM81 18h6.1v1.2h-6.1zM89 18h3.1v1.2h-3.1zM78 19h10.1v1.2h-10.1zM91 19h1.1v1.2h-1.1zM78 20h7.1v1.2h-7.1zM91 20h1.1v1.2h-1.1zM77 21h7.1v1.2h-7.1zM91 21h1.1v1.2h-1.1zM76 22h7.1v1.2h-7.1zM75 23h5.1v1.2h-5.1zM82 23h1.1v1.2h-1.1zM91 23h1.1v1.2h-1.1zM75 24h5.1v1.2h-5.1zM81 24h1.1v1.2h-1.1zM75 25h7.1v1.2h-7.1zM91 25h1.1v1.2h-1.1zM74 26h6.1v1.2h-6.1zM89 26h2.1v1.2h-2.1zM75 27h4.1v1.2h-4.1zM69 29h3.1v1.2h-3.1zM72 30h2.1v1.2h-2.1zM71 31h3.1v1.2h-3.1zM64 32h1.1v1.2h-1.1zM72 32h1.1v1.2h-1.1zM63 35h1.1v1.2h-1.1zM83 36h1.1v1.2h-1.1zM63 42h2.1v1.2h-2.1zM80 44h1.1v1.2h-1.1zM83 44h1.1v1.2h-1.1zM80 45h5.1v1.2h-5.1zM80 46h6.1v1.2h-6.1zM79 47h6.1v1.2h-6.1zM72 48h1.1v1.2h-1.1zM78 48h9.1v1.2h-9.1zM73 49h1.1v1.2h-1.1zM76 49h10.1v1.2h-10.1zM74 50h12.1v1.2h-12.1zM74 51h12.1v1.2h-12.1zM73 52h12.1v1.2h-12.1zM59 53h1.1v1.2h-1.1zM65 53h3.1v1.2h-3.1zM73 53h12.1v1.2h-12.1zM66 54h1.1v1.2h-1.1zM71 54h11.1v1.2h-11.1zM83 54h1.1v1.2h-1.1zM58 55h1.1v1.2h-1.1zM70 55h11.1v1.2h-11.1zM58 56h1.1v1.2h-1.1zM60 56h1.1v1.2h-1.1zM69 56h3.1v1.2h-3.1zM73 56h5.1v1.2h-5.1zM79 56h1.1v1.2h-1.1zM69 57h2.1v1.2h-2.1zM73 57h6.1v1.2h-6.1zM75 58h2.1v1.2h-2.1zM50 59h2.1v1.2h-2.1zM56 59h1.1v1.2h-1.1zM59 59h1.1v1.2h-1.1zM68 59h2.1v1.2h-2.1zM75 59h1.1v1.2h-1.1zM81 59h1.1v1.2h-1.1zM49 60h1.1v1.2h-1.1zM52 60h1.1v1.2h-1.1zM55 60h2.1v1.2h-2.1zM66 60h1.1v1.2h-1.1zM69 60h1.1v1.2h-1.1zM75 60h1.1v1.2h-1.1zM50 61h3.1v1.2h-3.1zM54 61h1.1v1.2h-1.1zM56 61h2.1v1.2h-2.1zM60 61h1.1v1.2h-1.1zM55 62h2.1v1.2h-2.1zM53 63h1.1v1.2h-1.1zM55 63h1.1v1.2h-1.1zM69 63h1.1v1.2h-1.1zM53 64h3.1v1.2h-3.1zM69 64h1.1v1.2h-1.1zM54 65h1.1v1.2h-1.1zM67 69h4.1v1.2h-4.1zM67 70h4.1v1.2h-4.1zM67 71h4.1v1.2h-4.1z"/>
<path fill="#b31b17" d="M84 11h1.1v1.2h-1.1zM81 12h1.1v1.2h-1.1zM86 12h1.1v1.2h-1.1zM80 13h2.1v1.2h-2.1zM85 13h1.1v1.2h-1.1zM79 14h1.1v1.2h-1.1zM84 14h1.1v1.2h-1.1zM91 14h4.1v1.2h-4.1zM84 15h1.1v1.2h-1.1zM91 15h4.1v1.2h-4.1zM79 16h1.1v1.2h-1.1zM84 16h2.1v1.2h-2.1zM91 16h3.1v1.2h-3.1zM83 17h3.1v1.2h-3.1zM90 17h2.1v1.2h-2.1zM81 18h5.1v1.2h-5.1zM89 18h3.1v1.2h-3.1zM78 19h9.1v1.2h-9.1zM91 19h1.1v1.2h-1.1zM78 20h6.1v1.2h-6.1zM77 21h4.1v1.2h-4.1zM76 22h7.1v1.2h-7.1zM75 23h5.1v1.2h-5.1zM82 23h1.1v1.2h-1.1zM76 24h4.1v1.2h-4.1zM81 24h1.1v1.2h-1.1zM75 25h6.1v1.2h-6.1zM91 25h1.1v1.2h-1.1zM75 26h5.1v1.2h-5.1zM90 26h1.1v1.2h-1.1zM75 27h4.1v1.2h-4.1zM69 29h1.1v1.2h-1.1zM73 30h1.1v1.2h-1.1zM71 31h3.1v1.2h-3.1zM83 36h1.1v1.2h-1.1zM64 42h1.1v1.2h-1.1zM80 45h5.1v1.2h-5.1zM81 46h3.1v1.2h-3.1zM80 47h5.1v1.2h-5.1zM72 48h1.1v1.2h-1.1zM79 48h6.1v1.2h-6.1zM86 48h1.1v1.2h-1.1zM77 49h9.1v1.2h-9.1zM75 50h11.1v1.2h-11.1zM74 51h11.1v1.2h-11.1zM74 52h11.1v1.2h-11.1zM59 53h1.1v1.2h-1.1zM67 53h1.1v1.2h-1.1zM73 53h11.1v1.2h-11.1zM72 54h9.1v1.2h-9.1zM71 55h8.1v1.2h-8.1zM58 56h1.1v1.2h-1.1zM60 56h1.1v1.2h-1.1zM69 56h3.1v1.2h-3.1zM73 56h5.1v1.2h-5.1zM70 57h1.1v1.2h-1.1zM75 57h3.1v1.2h-3.1zM75 58h1.1v1.2h-1.1zM50 59h2.1v1.2h-2.1zM59 59h1.1v1.2h-1.1zM68 59h2.1v1.2h-2.1zM75 59h1.1v1.2h-1.1zM52 60h1.1v1.2h-1.1zM55 60h2.1v1.2h-2.1zM66 60h1.1v1.2h-1.1zM50 61h3.1v1.2h-3.1zM54 61h1.1v1.2h-1.1zM56 61h1.1v1.2h-1.1zM55 62h2.1v1.2h-2.1zM53 63h1.1v1.2h-1.1zM55 63h1.1v1.2h-1.1zM69 63h1.1v1.2h-1.1zM53 64h3.1v1.2h-3.1zM69 64h1.1v1.2h-1.1zM67 69h4.1v1.2h-4.1zM67 70h4.1v1.2h-4.1zM67 71h4.1v1.2h-4.1z"/>
<path fill="#941310" d="M84 11h1.1v1.2h-1.1zM86 12h1.1v1.2h-1.1zM79 14h1.1v1.2h-1.1zM84 14h1.1v1.2h-1.1zM92 14h3.1v1.2h-3.1zM84 15h1.1v1.2h-1.1zM92 15h3.1v1.2h-3.1zM79 16h1.1v1.2h-1.1zM84 16h2.1v1.2h-2.1zM92 16h2.1v1.2h-2.1zM83 17h3.1v1.2h-3.1zM90 17h2.1v1.2h-2.1zM81 18h5.1v1.2h-5.1zM90 18h2.1v1.2h-2.1zM78 19h8.1v1.2h-8.1zM91 19h1.1v1.2h-1.1zM78 20h6.1v1.2h-6.1zM77 21h3.1v1.2h-3.1zM76 22h7.1v1.2h-7.1zM76 23h4.1v1.2h-4.1zM76 24h4.1v1.2h-4.1zM81 24h1.1v1.2h-1.1zM76 25h4.1v1.2h-4.1zM75 26h1.1v1.2h-1.1zM77 26h2.1v1.2h-2.1zM75 27h1.1v1.2h-1.1zM69 29h1.1v1.2h-1.1zM64 42h1.1v1.2h-1.1zM80 45h1.1v1.2h-1.1zM82 45h2.1v1.2h-2.1zM82 46h2.1v1.2h-2.1zM80 47h4.1v1.2h-4.1zM79 48h6.1v1.2h-6.1zM86 48h1.1v1.2h-1.1zM77 49h8.1v1.2h-8.1zM75 50h10.1v1.2h-10.1zM75 51h10.1v1.2h-10.1zM74 52h11.1v1.2h-11.1zM59 53h1.1v1.2h-1.1zM67 53h1.1v1.2h-1.1zM74 53h6.1v1.2h-6.1zM82 53h2.1v1.2h-2.1zM72 54h8.1v1.2h-8.1zM72 55h6.1v1.2h-6.1zM58 56h1.1v1.2h-1.1zM69 56h2.1v1.2h-2.1zM74 56h4.1v1.2h-4.1zM70 57h1.1v1.2h-1.1zM75 57h3.1v1.2h-3.1zM75 58h1.1v1.2h-1.1zM51 59h1.1v1.2h-1.1zM69 59h1.1v1.2h-1.1zM75 59h1.1v1.2h-1.1zM52 60h1.1v1.2h-1.1zM55 60h1.1v1.2h-1.1zM66 60h1.1v1.2h-1.1zM50 61h3.1v1.2h-3.1zM54 61h1.1v1.2h-1.1zM56 61h1.1v1.2h-1.1zM55 62h1.1v1.2h-1.1zM53 63h1.1v1.2h-1.1zM55 63h1.1v1.2h-1.1zM53 64h1.1v1.2h-1.1zM67 69h4.1v1.2h-4.1zM67 70h4.1v1.2h-4.1zM68 71h2.1v1.2h-2.1z"/>
<path fill="#7b0f0c" d="M79 14h1.1v1.2h-1.1zM84 14h1.1v1.2h-1.1zM92 14h3.1v1.2h-3.1zM84 15h1.1v1.2h-1.1zM93 15h2.1v1.2h-2.1zM84 16h2.1v1.2h-2.1zM83 17h3.1v1.2h-3.1zM91 17h1.1v1.2h-1.1zM81 18h5.1v1.2h-5.1zM91 18h1.1v1.2h-1.1zM78 19h1.1v1.2h-1.1zM80 19h6.1v1.2h-6.1zM78 20h4.1v1.2h-4.1zM83 20h1.1v1.2h-1.1zM77 21h3.1v1.2h-3.1zM76 22h6.1v1.2h-6.1zM76 23h4.1v1.2h-4.1zM76 24h4.1v1.2h-4.1zM77 25h3.1v1.2h-3.1zM69 29h1.1v1.2h-1.1zM80 45h1.1v1.2h-1.1zM83 45h1.1v1.2h-1.1zM83 46h1.1v1.2h-1.1zM82 47h2.1v1.2h-2.1zM79 48h5.1v1.2h-5.1zM78 49h6.1v1.2h-6.1zM77 50h8.1v1.2h-8.1zM76 51h1.1v1.2h-1.1zM78 51h7.1v1.2h-7.1zM74 52h10.1v1.2h-10.1zM74 53h4.1v1.2h-4.1zM75 54h3.1v1.2h-3.1zM72 55h1.1v1.2h-1.1zM75 55h3.1v1.2h-3.1zM69 56h2.1v1.2h-2.1zM75 56h3.1v1.2h-3.1zM76 57h1.1v1.2h-1.1zM69 59h1.1v1.2h-1.1zM52 60h1.1v1.2h-1.1zM50 61h3.1v1.2h-3.1zM54 61h1.1v1.2h-1.1zM55 62h1.1v1.2h-1.1zM53 63h1.1v1.2h-1.1zM53 64h1.1v1.2h-1.1zM68 69h2.1v1.2h-2.1zM67 70h3.1v1.2h-3.1zM68 71h2.1v1.2h-2.1z"/>
</g>
</g>
<use href="#chj" fill="none" stroke="#000" stroke-width="1.1" stroke-linejoin="round"/>
<use href="#cst" fill="none" stroke="#000" stroke-width="1.7" stroke-linejoin="round"/>
<ellipse cx="103.4" cy="105.7" rx="2.9" ry="2.8" fill="none" stroke="#000" stroke-width="0.9"/>
<use href="#sea"/>
</g>
<rect x="198.2" y="95.4" width="31.3" height="41.7" fill="#fff"/>
<path d="M198.3 95.5L198.3 100.4L201.8 102.2L204.8 102.9L205.8 104.7L206.4 102.9L209.7 102.5L214.6 100.8L218.6 98.8L222.5 96.3L222.5 95.5z" fill="#eebd83"/>
<path d="M205.6 96.5h1.6v1.4h-1.6zM212.3 96.0h1.6v1.4h-1.6zM210.0 97.6h1.6v1.4h-1.6zM200.1 98.1h1.6v1.4h-1.6zM199.6 97.7h1.6v1.4h-1.6zM200.3 96.1h1.6v1.4h-1.6zM207.7 100.2h1.6v1.4h-1.6zM201.4 96.8h1.6v1.4h-1.6zM211.8 100.4h1.6v1.4h-1.6zM210.8 97.7h1.6v1.4h-1.6zM219.1 95.9h1.6v1.4h-1.6zM216.6 96.9h1.6v1.4h-1.6zM201.9 96.3h1.6v1.4h-1.6zM205.2 100.1h1.6v1.4h-1.6zM202.6 98.6h1.6v1.4h-1.6zM212.1 97.5h1.6v1.4h-1.6z" fill="#c0221c"/>
<path d="M198.3 100.4L201.8 102.2L204.8 102.9L205.8 104.7L206.4 102.9L209.7 102.5L214.6 100.8L218.6 98.8L222.5 96.3" fill="none" stroke="#000" stroke-width="1.4" stroke-linejoin="round"/>
<ellipse cx="205.3" cy="106.5" rx="1.5" ry="1.5" fill="#a41714" stroke="#000" stroke-width="0.7"/>
<path d="M221.7 98.0L224.0 97.0L224.7 99.8L224.3 103.3L223.0 101.3z" fill="#fff" stroke="#000" stroke-width="0.8" stroke-linejoin="round"/>
<path d="M210.5 105.9L212.7 106.5M221.5 106.2L222.1 108.3M204.6 111.4L205.2 112.0M208.2 109.7L210.3 111.4M212.7 111.9L214.2 111.4M216.4 110.2L217.0 110.8M218.6 112.6L220.9 111.8M214.4 114.4L215.2 115.0M206.3 117.3L206.7 119.1M220.1 111.4L220.7 113.0M203.3 126.0L204.8 124.9M205.8 123.9L208.2 122.5M209.2 122.0L211.2 120.5M214.6 120.5L217.1 119.5M218.1 119.0L221.0 117.5M209.7 127.4L211.2 128.4M209.2 130.8L210.7 131.4M213.6 124.9L215.2 125.4M212.2 119.0L212.9 121.5M212.9 121.5L213.8 123.4M213.3 119.3L214.4 122.7M211.2 122.5L213.6 121.0M211.9 123.9L214.6 122.7" stroke="#000" stroke-width="0.9" fill="none" stroke-linecap="round"/>
<path class="fr" d="M198.2 137.1V95.4H229.5"/>
<rect class="fr" x="47.5" y="19.1" width="182.2" height="117.8"/>
<g transform="translate(266.5 19.1)">
<g clip-path="url(#chc)"><g transform="scale(1.50)">
<path fill="#eba273" d="M80 7h1.1v1.2h-1.1zM82 7h2.1v1.2h-2.1zM81 8h4.1v1.2h-4.1zM80 9h5.1v1.2h-5.1zM79 10h7.1v1.2h-7.1zM79 11h7.1v1.2h-7.1zM79 12h1.1v1.2h-1.1zM81 12h6.1v1.2h-6.1zM78 13h8.1v1.2h-8.1zM89 13h1.1v1.2h-1.1zM94 13h1.1v1.2h-1.1zM79 14h7.1v1.2h-7.1zM89 14h6.1v1.2h-6.1zM80 15h7.1v1.2h-7.1zM89 15h6.1v1.2h-6.1zM81 16h6.1v1.2h-6.1zM88 16h2.1v1.2h-2.1zM91 16h1.1v1.2h-1.1zM79 17h1.1v1.2h-1.1zM81 17h10.1v1.2h-10.1zM92 17h2.1v1.2h-2.1zM79 18h1.1v1.2h-1.1zM81 18h13.1v1.2h-13.1zM80 19h12.1v1.2h-12.1zM80 20h12.1v1.2h-12.1zM77 21h16.1v1.2h-16.1zM76 22h18.1v1.2h-18.1zM75 23h19.1v1.2h-19.1zM74 24h19.1v1.2h-19.1zM72 25h1.1v1.2h-1.1zM74 25h18.1v1.2h-18.1zM73 26h18.1v1.2h-18.1zM72 27h17.1v1.2h-17.1zM72 28h16.1v1.2h-16.1zM67 29h1.1v1.2h-1.1zM71 29h17.1v1.2h-17.1zM64 30h8.1v1.2h-8.1zM73 30h9.1v1.2h-9.1zM83 30h3.1v1.2h-3.1zM63 31h18.1v1.2h-18.1zM83 31h1.1v1.2h-1.1zM62 32h8.1v1.2h-8.1zM71 32h9.1v1.2h-9.1zM62 33h7.1v1.2h-7.1zM70 33h8.1v1.2h-8.1zM61 34h8.1v1.2h-8.1zM70 34h8.1v1.2h-8.1zM61 35h1.1v1.2h-1.1zM63 35h17.1v1.2h-17.1zM82 35h2.1v1.2h-2.1zM61 36h1.1v1.2h-1.1zM64 36h11.1v1.2h-11.1zM76 36h9.1v1.2h-9.1zM61 37h23.1v1.2h-23.1zM62 38h20.1v1.2h-20.1zM62 39h20.1v1.2h-20.1zM62 40h19.1v1.2h-19.1zM61 41h21.1v1.2h-21.1zM61 42h22.1v1.2h-22.1zM61 43h23.1v1.2h-23.1zM60 44h24.1v1.2h-24.1zM60 45h25.1v1.2h-25.1zM60 46h26.1v1.2h-26.1zM59 47h28.1v1.2h-28.1zM59 48h28.1v1.2h-28.1zM59 49h28.1v1.2h-28.1zM59 50h28.1v1.2h-28.1zM57 51h30.1v1.2h-30.1zM57 52h30.1v1.2h-30.1zM57 53h29.1v1.2h-29.1zM58 54h28.1v1.2h-28.1zM58 55h27.1v1.2h-27.1zM58 56h27.1v1.2h-27.1zM54 57h1.1v1.2h-1.1zM58 57h26.1v1.2h-26.1zM50 58h3.1v1.2h-3.1zM54 58h3.1v1.2h-3.1zM59 58h25.1v1.2h-25.1zM50 59h1.1v1.2h-1.1zM52 59h1.1v1.2h-1.1zM54 59h2.1v1.2h-2.1zM59 59h24.1v1.2h-24.1zM50 60h3.1v1.2h-3.1zM60 60h21.1v1.2h-21.1zM49 61h5.1v1.2h-5.1zM55 61h2.1v1.2h-2.1zM60 61h21.1v1.2h-21.1zM51 62h3.1v1.2h-3.1zM56 62h1.1v1.2h-1.1zM61 62h18.1v1.2h-18.1zM51 63h2.1v1.2h-2.1zM56 63h1.1v1.2h-1.1zM61 63h17.1v1.2h-17.1zM52 64h1.1v1.2h-1.1zM56 64h1.1v1.2h-1.1zM63 64h13.1v1.2h-13.1zM64 65h9.1v1.2h-9.1zM68 66h3.1v1.2h-3.1zM69 67h1.1v1.2h-1.1zM67 69h4.1v1.2h-4.1zM67 70h4.1v1.2h-4.1zM67 71h4.1v1.2h-4.1z"/>
<path fill="#e5705a" d="M80 7h1.1v1.2h-1.1zM82 7h2.1v1.2h-2.1zM81 8h4.1v1.2h-4.1zM80 9h5.1v1.2h-5.1zM79 10h7.1v1.2h-7.1zM79 11h7.1v1.2h-7.1zM79 12h1.1v1.2h-1.1zM81 12h6.1v1.2h-6.1zM78 13h8.1v1.2h-8.1zM89 13h1.1v1.2h-1.1zM94 13h1.1v1.2h-1.1zM79 14h7.1v1.2h-7.1zM89 14h6.1v1.2h-6.1zM80 15h7.1v1.2h-7.1zM89 15h6.1v1.2h-6.1zM81 16h6.1v1.2h-6.1zM88 16h2.1v1.2h-2.1zM91 16h1.1v1.2h-1.1zM79 17h1.1v1.2h-1.1zM81 17h10.1v1.2h-10.1zM92 17h2.1v1.2h-2.1zM79 18h1.1v1.2h-1.1zM81 18h13.1v1.2h-13.1zM80 19h12.1v1.2h-12.1zM80 20h12.1v1.2h-12.1zM77 21h16.1v1.2h-16.1zM76 22h18.1v1.2h-18.1zM75 23h19.1v1.2h-19.1zM74 24h19.1v1.2h-19.1zM72 25h1.1v1.2h-1.1zM74 25h18.1v1.2h-18.1zM73 26h18.1v1.2h-18.1zM72 27h17.1v1.2h-17.1zM72 28h16.1v1.2h-16.1zM67 29h1.1v1.2h-1.1zM71 29h17.1v1.2h-17.1zM64 30h8.1v1.2h-8.1zM73 30h9.1v1.2h-9.1zM83 30h3.1v1.2h-3.1zM63 31h18.1v1.2h-18.1zM83 31h1.1v1.2h-1.1zM62 32h8.1v1.2h-8.1zM71 32h9.1v1.2h-9.1zM62 33h3.1v1.2h-3.1zM67 33h2.1v1.2h-2.1zM70 33h8.1v1.2h-8.1zM61 34h4.1v1.2h-4.1zM68 34h1.1v1.2h-1.1zM70 34h8.1v1.2h-8.1zM61 35h1.1v1.2h-1.1zM63 35h2.1v1.2h-2.1zM66 35h14.1v1.2h-14.1zM82 35h2.1v1.2h-2.1zM61 36h1.1v1.2h-1.1zM64 36h11.1v1.2h-11.1zM76 36h9.1v1.2h-9.1zM61 37h23.1v1.2h-23.1zM62 38h20.1v1.2h-20.1zM62 39h20.1v1.2h-20.1zM62 40h19.1v1.2h-19.1zM61 41h21.1v1.2h-21.1zM61 42h4.1v1.2h-4.1zM66 42h17.1v1.2h-17.1zM61 43h23.1v1.2h-23.1zM60 44h24.1v1.2h-24.1zM60 45h25.1v1.2h-25.1zM60 46h26.1v1.2h-26.1zM59 47h28.1v1.2h-28.1zM59 48h28.1v1.2h-28.1zM59 49h28.1v1.2h-28.1zM59 50h28.1v1.2h-28.1zM57 51h30.1v1.2h-30.1zM57 52h30.1v1.2h-30.1zM57 53h29.1v1.2h-29.1zM58 54h28.1v1.2h-28.1zM58 55h27.1v1.2h-27.1zM58 56h27.1v1.2h-27.1zM54 57h1.1v1.2h-1.1zM58 57h26.1v1.2h-26.1zM50 58h3.1v1.2h-3.1zM54 58h3.1v1.2h-3.1zM59 58h25.1v1.2h-25.1zM50 59h1.1v1.2h-1.1zM52 59h1.1v1.2h-1.1zM54 59h2.1v1.2h-2.1zM59 59h24.1v1.2h-24.1zM50 60h3.1v1.2h-3.1zM60 60h21.1v1.2h-21.1zM49 61h5.1v1.2h-5.1zM55 61h2.1v1.2h-2.1zM60 61h21.1v1.2h-21.1zM51 62h3.1v1.2h-3.1zM56 62h1.1v1.2h-1.1zM61 62h18.1v1.2h-18.1zM51 63h2.1v1.2h-2.1zM56 63h1.1v1.2h-1.1zM61 63h17.1v1.2h-17.1zM52 64h1.1v1.2h-1.1zM56 64h1.1v1.2h-1.1zM63 64h13.1v1.2h-13.1zM64 65h9.1v1.2h-9.1zM68 66h3.1v1.2h-3.1zM69 67h1.1v1.2h-1.1zM67 69h4.1v1.2h-4.1zM67 70h4.1v1.2h-4.1zM67 71h4.1v1.2h-4.1z"/>
<path fill="#dc4b3f" d="M80 7h1.1v1.2h-1.1zM82 7h2.1v1.2h-2.1zM81 8h4.1v1.2h-4.1zM80 9h5.1v1.2h-5.1zM79 10h7.1v1.2h-7.1zM79 11h7.1v1.2h-7.1zM79 12h1.1v1.2h-1.1zM81 12h6.1v1.2h-6.1zM78 13h8.1v1.2h-8.1zM89 13h1.1v1.2h-1.1zM94 13h1.1v1.2h-1.1zM79 14h7.1v1.2h-7.1zM89 14h6.1v1.2h-6.1zM80 15h7.1v1.2h-7.1zM89 15h6.1v1.2h-6.1zM81 16h6.1v1.2h-6.1zM88 16h2.1v1.2h-2.1zM91 16h1.1v1.2h-1.1zM79 17h1.1v1.2h-1.1zM81 17h10.1v1.2h-10.1zM92 17h2.1v1.2h-2.1zM79 18h1.1v1.2h-1.1zM81 18h13.1v1.2h-13.1zM80 19h12.1v1.2h-12.1zM80 20h12.1v1.2h-12.1zM77 21h16.1v1.2h-16.1zM76 22h18.1v1.2h-18.1zM75 23h19.1v1.2h-19.1zM74 24h19.1v1.2h-19.1zM72 25h1.1v1.2h-1.1zM74 25h18.1v1.2h-18.1zM73 26h18.1v1.2h-18.1zM72 27h17.1v1.2h-17.1zM72 28h3.1v1.2h-3.1zM76 28h12.1v1.2h-12.1zM67 29h1.1v1.2h-1.1zM71 29h4.1v1.2h-4.1zM76 29h12.1v1.2h-12.1zM64 30h8.1v1.2h-8.1zM73 30h9.1v1.2h-9.1zM83 30h3.1v1.2h-3.1zM63 31h18.1v1.2h-18.1zM83 31h1.1v1.2h-1.1zM62 32h2.1v1.2h-2.1zM66 32h4.1v1.2h-4.1zM71 32h9.1v1.2h-9.1zM62 33h2.1v1.2h-2.1zM68 33h1.1v1.2h-1.1zM70 33h8.1v1.2h-8.1zM61 34h3.1v1.2h-3.1zM68 34h1.1v1.2h-1.1zM70 34h8.1v1.2h-8.1zM61 35h1.1v1.2h-1.1zM63 35h2.1v1.2h-2.1zM68 35h12.1v1.2h-12.1zM82 35h2.1v1.2h-2.1zM61 36h1.1v1.2h-1.1zM64 36h11.1v1.2h-11.1zM76 36h9.1v1.2h-9.1zM61 37h23.1v1.2h-23.1zM62 38h20.1v1.2h-20.1zM62 39h20.1v1.2h-20.1zM62 40h19.1v1.2h-19.1zM61 41h21.1v1.2h-21.1zM61 42h4.1v1.2h-4.1zM66 42h17.1v1.2h-17.1zM61 43h23.1v1.2h-23.1zM60 44h24.1v1.2h-24.1zM60 45h25.1v1.2h-25.1zM60 46h26.1v1.2h-26.1zM59 47h28.1v1.2h-28.1zM59 48h28.1v1.2h-28.1zM59 49h28.1v1.2h-28.1zM59 50h28.1v1.2h-28.1zM57 51h30.1v1.2h-30.1zM57 52h30.1v1.2h-30.1zM57 53h29.1v1.2h-29.1zM58 54h28.1v1.2h-28.1zM58 55h27.1v1.2h-27.1zM58 56h27.1v1.2h-27.1zM54 57h1.1v1.2h-1.1zM58 57h26.1v1.2h-26.1zM50 58h3.1v1.2h-3.1zM54 58h3.1v1.2h-3.1zM59 58h25.1v1.2h-25.1zM50 59h1.1v1.2h-1.1zM52 59h1.1v1.2h-1.1zM54 59h2.1v1.2h-2.1zM59 59h24.1v1.2h-24.1zM50 60h3.1v1.2h-3.1zM60 60h21.1v1.2h-21.1zM49 61h5.1v1.2h-5.1zM55 61h2.1v1.2h-2.1zM60 61h21.1v1.2h-21.1zM51 62h3.1v1.2h-3.1zM56 62h1.1v1.2h-1.1zM61 62h18.1v1.2h-18.1zM51 63h2.1v1.2h-2.1zM56 63h1.1v1.2h-1.1zM61 63h17.1v1.2h-17.1zM52 64h1.1v1.2h-1.1zM56 64h1.1v1.2h-1.1zM63 64h13.1v1.2h-13.1zM64 65h9.1v1.2h-9.1zM68 66h3.1v1.2h-3.1zM69 67h1.1v1.2h-1.1zM67 69h4.1v1.2h-4.1zM67 70h4.1v1.2h-4.1zM67 71h4.1v1.2h-4.1z"/>
<path fill="#cd2a22" d="M80 7h1.1v1.2h-1.1zM82 7h2.1v1.2h-2.1zM81 8h4.1v1.2h-4.1zM80 9h5.1v1.2h-5.1zM79 10h7.1v1.2h-7.1zM79 11h7.1v1.2h-7.1zM79 12h1.1v1.2h-1.1zM81 12h6.1v1.2h-6.1zM78 13h8.1v1.2h-8.1zM89 13h1.1v1.2h-1.1zM94 13h1.1v1.2h-1.1zM79 14h7.1v1.2h-7.1zM89 14h6.1v1.2h-6.1zM80 15h7.1v1.2h-7.1zM89 15h6.1v1.2h-6.1zM81 16h6.1v1.2h-6.1zM88 16h2.1v1.2h-2.1zM91 16h1.1v1.2h-1.1zM79 17h1.1v1.2h-1.1zM81 17h10.1v1.2h-10.1zM92 17h2.1v1.2h-2.1zM79 18h1.1v1.2h-1.1zM81 18h13.1v1.2h-13.1zM80 19h12.1v1.2h-12.1zM80 20h12.1v1.2h-12.1zM77 21h16.1v1.2h-16.1zM76 22h18.1v1.2h-18.1zM75 23h19.1v1.2h-19.1zM74 24h19.1v1.2h-19.1zM72 25h1.1v1.2h-1.1zM74 25h3.1v1.2h-3.1zM78 25h14.1v1.2h-14.1zM73 26h18.1v1.2h-18.1zM72 27h2.1v1.2h-2.1zM76 27h13.1v1.2h-13.1zM72 28h2.1v1.2h-2.1zM76 28h12.1v1.2h-12.1zM67 29h1.1v1.2h-1.1zM71 29h2.1v1.2h-2.1zM76 29h12.1v1.2h-12.1zM64 30h8.1v1.2h-8.1zM73 30h1.1v1.2h-1.1zM76 30h6.1v1.2h-6.1zM83 30h3.1v1.2h-3.1zM63 31h2.1v1.2h-2.1zM66 31h15.1v1.2h-15.1zM83 31h1.1v1.2h-1.1zM62 32h2.1v1.2h-2.1zM68 32h2.1v1.2h-2.1zM71 32h9.1v1.2h-9.1zM62 33h1.1v1.2h-1.1zM68 33h1.1v1.2h-1.1zM70 33h8.1v1.2h-8.1zM61 34h2.1v1.2h-2.1zM68 34h1.1v1.2h-1.1zM70 34h8.1v1.2h-8.1zM61 35h1.1v1.2h-1.1zM68 35h12.1v1.2h-12.1zM82 35h2.1v1.2h-2.1zM61 36h1.1v1.2h-1.1zM68 36h7.1v1.2h-7.1zM76 36h9.1v1.2h-9.1zM61 37h3.1v1.2h-3.1zM67 37h17.1v1.2h-17.1zM62 38h2.1v1.2h-2.1zM66 38h16.1v1.2h-16.1zM62 39h20.1v1.2h-20.1zM62 40h19.1v1.2h-19.1zM61 41h21.1v1.2h-21.1zM61 42h4.1v1.2h-4.1zM66 42h17.1v1.2h-17.1zM61 43h23.1v1.2h-23.1zM60 44h24.1v1.2h-24.1zM60 45h25.1v1.2h-25.1zM60 46h26.1v1.2h-26.1zM59 47h28.1v1.2h-28.1zM59 48h28.1v1.2h-28.1zM59 49h28.1v1.2h-28.1zM59 50h28.1v1.2h-28.1zM57 51h30.1v1.2h-30.1zM57 52h6.1v1.2h-6.1zM64 52h23.1v1.2h-23.1zM57 53h29.1v1.2h-29.1zM58 54h28.1v1.2h-28.1zM58 55h27.1v1.2h-27.1zM58 56h27.1v1.2h-27.1zM54 57h1.1v1.2h-1.1zM58 57h26.1v1.2h-26.1zM50 58h3.1v1.2h-3.1zM54 58h3.1v1.2h-3.1zM59 58h25.1v1.2h-25.1zM50 59h1.1v1.2h-1.1zM52 59h1.1v1.2h-1.1zM54 59h2.1v1.2h-2.1zM59 59h10.1v1.2h-10.1zM70 59h5.1v1.2h-5.1zM76 59h7.1v1.2h-7.1zM50 60h3.1v1.2h-3.1zM60 60h9.1v1.2h-9.1zM70 60h11.1v1.2h-11.1zM49 61h5.1v1.2h-5.1zM55 61h2.1v1.2h-2.1zM60 61h21.1v1.2h-21.1zM51 62h3.1v1.2h-3.1zM56 62h1.1v1.2h-1.1zM61 62h18.1v1.2h-18.1zM51 63h2.1v1.2h-2.1zM56 63h1.1v1.2h-1.1zM61 63h17.1v1.2h-17.1zM52 64h1.1v1.2h-1.1zM56 64h1.1v1.2h-1.1zM63 64h13.1v1.2h-13.1zM64 65h9.1v1.2h-9.1zM68 66h3.1v1.2h-3.1zM69 67h1.1v1.2h-1.1zM67 69h4.1v1.2h-4.1zM67 70h4.1v1.2h-4.1zM67 71h4.1v1.2h-4.1z"/>
<path fill="#b31b17" d="M80 7h1.1v1.2h-1.1zM82 7h2.1v1.2h-2.1zM81 8h4.1v1.2h-4.1zM80 9h5.1v1.2h-5.1zM79 10h7.1v1.2h-7.1zM79 11h7.1v1.2h-7.1zM79 12h1.1v1.2h-1.1zM81 12h6.1v1.2h-6.1zM78 13h8.1v1.2h-8.1zM89 13h1.1v1.2h-1.1zM94 13h1.1v1.2h-1.1zM79 14h7.1v1.2h-7.1zM89 14h6.1v1.2h-6.1zM80 15h7.1v1.2h-7.1zM89 15h6.1v1.2h-6.1zM81 16h6.1v1.2h-6.1zM88 16h2.1v1.2h-2.1zM91 16h1.1v1.2h-1.1zM79 17h1.1v1.2h-1.1zM81 17h10.1v1.2h-10.1zM92 17h2.1v1.2h-2.1zM81 18h9.1v1.2h-9.1zM91 18h3.1v1.2h-3.1zM80 19h12.1v1.2h-12.1zM80 20h12.1v1.2h-12.1zM77 21h1.1v1.2h-1.1zM79 21h14.1v1.2h-14.1zM76 22h18.1v1.2h-18.1zM75 23h19.1v1.2h-19.1zM74 24h3.1v1.2h-3.1zM78 24h7.1v1.2h-7.1zM86 24h4.1v1.2h-4.1zM92 24h1.1v1.2h-1.1zM72 25h1.1v1.2h-1.1zM74 25h3.1v1.2h-3.1zM78 25h14.1v1.2h-14.1zM73 26h2.1v1.2h-2.1zM76 26h15.1v1.2h-15.1zM72 27h2.1v1.2h-2.1zM77 27h12.1v1.2h-12.1zM72 28h1.1v1.2h-1.1zM77 28h11.1v1.2h-11.1zM67 29h1.1v1.2h-1.1zM71 29h2.1v1.2h-2.1zM78 29h10.1v1.2h-10.1zM64 30h1.1v1.2h-1.1zM66 30h6.1v1.2h-6.1zM73 30h1.1v1.2h-1.1zM77 30h5.1v1.2h-5.1zM83 30h3.1v1.2h-3.1zM63 31h1.1v1.2h-1.1zM68 31h6.1v1.2h-6.1zM76 31h5.1v1.2h-5.1zM83 31h1.1v1.2h-1.1zM62 32h1.1v1.2h-1.1zM69 32h1.1v1.2h-1.1zM71 32h9.1v1.2h-9.1zM70 33h8.1v1.2h-8.1zM61 34h1.1v1.2h-1.1zM70 34h8.1v1.2h-8.1zM61 35h1.1v1.2h-1.1zM69 35h11.1v1.2h-11.1zM82 35h2.1v1.2h-2.1zM61 36h1.1v1.2h-1.1zM69 36h6.1v1.2h-6.1zM76 36h9.1v1.2h-9.1zM61 37h2.1v1.2h-2.1zM69 37h15.1v1.2h-15.1zM62 38h2.1v1.2h-2.1zM67 38h15.1v1.2h-15.1zM62 39h2.1v1.2h-2.1zM67 39h15.1v1.2h-15.1zM62 40h1.1v1.2h-1.1zM65 40h16.1v1.2h-16.1zM61 41h2.1v1.2h-2.1zM65 41h1.1v1.2h-1.1zM67 41h15.1v1.2h-15.1zM61 42h4.1v1.2h-4.1zM67 42h16.1v1.2h-16.1zM61 43h23.1v1.2h-23.1zM60 44h24.1v1.2h-24.1zM60 45h24.1v1.2h-24.1zM60 46h26.1v1.2h-26.1zM59 47h28.1v1.2h-28.1zM59 48h21.1v1.2h-21.1zM81 48h6.1v1.2h-6.1zM59 49h28.1v1.2h-28.1zM59 50h4.1v1.2h-4.1zM65 50h22.1v1.2h-22.1zM57 51h6.1v1.2h-6.1zM65 51h22.1v1.2h-22.1zM57 52h5.1v1.2h-5.1zM65 52h22.1v1.2h-22.1zM57 53h2.1v1.2h-2.1zM60 53h3.1v1.2h-3.1zM65 53h21.1v1.2h-21.1zM58 54h28.1v1.2h-28.1zM58 55h27.1v1.2h-27.1zM58 56h27.1v1.2h-27.1zM54 57h1.1v1.2h-1.1zM59 57h25.1v1.2h-25.1zM50 58h3.1v1.2h-3.1zM54 58h3.1v1.2h-3.1zM59 58h16.1v1.2h-16.1zM76 58h8.1v1.2h-8.1zM50 59h1.1v1.2h-1.1zM52 59h1.1v1.2h-1.1zM54 59h2.1v1.2h-2.1zM59 59h10.1v1.2h-10.1zM70 59h4.1v1.2h-4.1zM76 59h7.1v1.2h-7.1zM50 60h3.1v1.2h-3.1zM60 60h9.1v1.2h-9.1zM70 60h3.1v1.2h-3.1zM74 60h7.1v1.2h-7.1zM49 61h5.1v1.2h-5.1zM55 61h2.1v1.2h-2.1zM60 61h21.1v1.2h-21.1zM51 62h3.1v1.2h-3.1zM56 62h1.1v1.2h-1.1zM61 62h18.1v1.2h-18.1zM51 63h2.1v1.2h-2.1zM56 63h1.1v1.2h-1.1zM61 63h17.1v1.2h-17.1zM52 64h1.1v1.2h-1.1zM56 64h1.1v1.2h-1.1zM63 64h13.1v1.2h-13.1zM64 65h9.1v1.2h-9.1zM68 66h3.1v1.2h-3.1zM69 67h1.1v1.2h-1.1zM67 69h4.1v1.2h-4.1zM67 70h4.1v1.2h-4.1zM67 71h4.1v1.2h-4.1z"/>
<path fill="#941310" d="M80 7h1.1v1.2h-1.1zM82 7h2.1v1.2h-2.1zM81 8h4.1v1.2h-4.1zM80 9h5.1v1.2h-5.1zM79 10h7.1v1.2h-7.1zM79 11h7.1v1.2h-7.1zM79 12h1.1v1.2h-1.1zM81 12h6.1v1.2h-6.1zM78 13h7.1v1.2h-7.1zM89 13h1.1v1.2h-1.1zM94 13h1.1v1.2h-1.1zM79 14h7.1v1.2h-7.1zM89 14h6.1v1.2h-6.1zM80 15h7.1v1.2h-7.1zM89 15h6.1v1.2h-6.1zM81 16h6.1v1.2h-6.1zM88 16h2.1v1.2h-2.1zM91 16h1.1v1.2h-1.1zM81 17h10.1v1.2h-10.1zM92 17h2.1v1.2h-2.1zM81 18h9.1v1.2h-9.1zM91 18h3.1v1.2h-3.1zM80 19h12.1v1.2h-12.1zM81 20h11.1v1.2h-11.1zM80 21h8.1v1.2h-8.1zM90 21h3.1v1.2h-3.1zM76 22h1.1v1.2h-1.1zM81 22h13.1v1.2h-13.1zM75 23h2.1v1.2h-2.1zM79 23h6.1v1.2h-6.1zM88 23h6.1v1.2h-6.1zM74 24h3.1v1.2h-3.1zM78 24h7.1v1.2h-7.1zM88 24h2.1v1.2h-2.1zM72 25h1.1v1.2h-1.1zM74 25h1.1v1.2h-1.1zM78 25h7.1v1.2h-7.1zM87 25h5.1v1.2h-5.1zM73 26h1.1v1.2h-1.1zM77 26h14.1v1.2h-14.1zM72 27h1.1v1.2h-1.1zM78 27h7.1v1.2h-7.1zM86 27h3.1v1.2h-3.1zM77 28h11.1v1.2h-11.1zM67 29h1.1v1.2h-1.1zM71 29h1.1v1.2h-1.1zM78 29h10.1v1.2h-10.1zM68 30h4.1v1.2h-4.1zM78 30h4.1v1.2h-4.1zM83 30h3.1v1.2h-3.1zM70 31h3.1v1.2h-3.1zM77 31h4.1v1.2h-4.1zM83 31h1.1v1.2h-1.1zM71 32h1.1v1.2h-1.1zM78 32h2.1v1.2h-2.1zM70 33h3.1v1.2h-3.1zM77 33h1.1v1.2h-1.1zM70 34h4.1v1.2h-4.1zM77 34h1.1v1.2h-1.1zM61 35h1.1v1.2h-1.1zM70 35h7.1v1.2h-7.1zM82 35h2.1v1.2h-2.1zM61 36h1.1v1.2h-1.1zM70 36h5.1v1.2h-5.1zM76 36h1.1v1.2h-1.1zM80 36h5.1v1.2h-5.1zM70 37h14.1v1.2h-14.1zM70 38h12.1v1.2h-12.1zM62 39h1.1v1.2h-1.1zM70 39h5.1v1.2h-5.1zM76 39h6.1v1.2h-6.1zM67 40h14.1v1.2h-14.1zM61 41h1.1v1.2h-1.1zM67 41h6.1v1.2h-6.1zM74 41h8.1v1.2h-8.1zM61 42h1.1v1.2h-1.1zM68 42h15.1v1.2h-15.1zM61 43h1.1v1.2h-1.1zM64 43h10.1v1.2h-10.1zM75 43h9.1v1.2h-9.1zM60 44h3.1v1.2h-3.1zM65 44h19.1v1.2h-19.1zM60 45h23.1v1.2h-23.1zM60 46h23.1v1.2h-23.1zM84 46h2.1v1.2h-2.1zM59 47h28.1v1.2h-28.1zM59 48h3.1v1.2h-3.1zM64 48h1.1v1.2h-1.1zM67 48h10.1v1.2h-10.1zM78 48h2.1v1.2h-2.1zM81 48h6.1v1.2h-6.1zM59 49h3.1v1.2h-3.1zM66 49h21.1v1.2h-21.1zM59 50h3.1v1.2h-3.1zM69 50h18.1v1.2h-18.1zM57 51h4.1v1.2h-4.1zM69 51h18.1v1.2h-18.1zM57 52h5.1v1.2h-5.1zM66 52h21.1v1.2h-21.1zM57 53h2.1v1.2h-2.1zM60 53h2.1v1.2h-2.1zM66 53h20.1v1.2h-20.1zM58 54h5.1v1.2h-5.1zM66 54h20.1v1.2h-20.1zM58 55h27.1v1.2h-27.1zM58 56h18.1v1.2h-18.1zM77 56h6.1v1.2h-6.1zM84 56h1.1v1.2h-1.1zM54 57h1.1v1.2h-1.1zM59 57h16.1v1.2h-16.1zM76 57h8.1v1.2h-8.1zM50 58h3.1v1.2h-3.1zM54 58h3.1v1.2h-3.1zM59 58h10.1v1.2h-10.1zM70 58h5.1v1.2h-5.1zM76 58h8.1v1.2h-8.1zM50 59h1.1v1.2h-1.1zM52 59h1.1v1.2h-1.1zM54 59h2.1v1.2h-2.1zM59 59h10.1v1.2h-10.1zM70 59h4.1v1.2h-4.1zM76 59h7.1v1.2h-7.1zM50 60h3.1v1.2h-3.1zM60 60h9.1v1.2h-9.1zM70 60h3.1v1.2h-3.1zM74 60h7.1v1.2h-7.1zM49 61h5.1v1.2h-5.1zM55 61h2.1v1.2h-2.1zM60 61h21.1v1.2h-21.1zM51 62h3.1v1.2h-3.1zM56 62h1.1v1.2h-1.1zM61 62h18.1v1.2h-18.1zM51 63h2.1v1.2h-2.1zM56 63h1.1v1.2h-1.1zM61 63h5.1v1.2h-5.1zM67 63h11.1v1.2h-11.1zM52 64h1.1v1.2h-1.1zM56 64h1.1v1.2h-1.1zM63 64h13.1v1.2h-13.1zM64 65h9.1v1.2h-9.1zM68 66h3.1v1.2h-3.1zM69 67h1.1v1.2h-1.1zM67 69h4.1v1.2h-4.1zM67 70h4.1v1.2h-4.1zM67 71h4.1v1.2h-4.1z"/>
<path fill="#7b0f0c" d="M80 7h1.1v1.2h-1.1zM82 7h2.1v1.2h-2.1zM81 8h4.1v1.2h-4.1zM80 9h5.1v1.2h-5.1zM79 10h6.1v1.2h-6.1zM79 11h7.1v1.2h-7.1zM79 12h1.1v1.2h-1.1zM81 12h6.1v1.2h-6.1zM78 13h3.1v1.2h-3.1zM83 13h2.1v1.2h-2.1zM94 13h1.1v1.2h-1.1zM79 14h1.1v1.2h-1.1zM82 14h4.1v1.2h-4.1zM89 14h2.1v1.2h-2.1zM92 14h1.1v1.2h-1.1zM94 14h1.1v1.2h-1.1zM82 15h2.1v1.2h-2.1zM85 15h2.1v1.2h-2.1zM89 15h6.1v1.2h-6.1zM81 16h6.1v1.2h-6.1zM88 16h2.1v1.2h-2.1zM91 16h1.1v1.2h-1.1zM81 17h10.1v1.2h-10.1zM92 17h2.1v1.2h-2.1zM82 18h8.1v1.2h-8.1zM91 18h3.1v1.2h-3.1zM82 19h6.1v1.2h-6.1zM89 19h3.1v1.2h-3.1zM81 20h7.1v1.2h-7.1zM89 20h3.1v1.2h-3.1zM81 21h4.1v1.2h-4.1zM86 21h1.1v1.2h-1.1zM91 21h2.1v1.2h-2.1zM81 22h4.1v1.2h-4.1zM91 22h3.1v1.2h-3.1zM81 23h3.1v1.2h-3.1zM89 23h5.1v1.2h-5.1zM74 24h1.1v1.2h-1.1zM80 24h1.1v1.2h-1.1zM83 24h1.1v1.2h-1.1zM89 24h1.1v1.2h-1.1zM72 25h1.1v1.2h-1.1zM79 25h2.1v1.2h-2.1zM83 25h1.1v1.2h-1.1zM89 25h3.1v1.2h-3.1zM79 26h2.1v1.2h-2.1zM83 26h1.1v1.2h-1.1zM88 26h3.1v1.2h-3.1zM79 27h1.1v1.2h-1.1zM81 27h4.1v1.2h-4.1zM88 27h1.1v1.2h-1.1zM80 28h8.1v1.2h-8.1zM78 29h2.1v1.2h-2.1zM81 29h7.1v1.2h-7.1zM78 30h4.1v1.2h-4.1zM83 30h3.1v1.2h-3.1zM78 31h3.1v1.2h-3.1zM83 31h1.1v1.2h-1.1zM78 32h2.1v1.2h-2.1zM72 34h1.1v1.2h-1.1zM72 35h1.1v1.2h-1.1zM71 36h4.1v1.2h-4.1zM81 36h4.1v1.2h-4.1zM71 37h1.1v1.2h-1.1zM73 37h2.1v1.2h-2.1zM82 37h2.1v1.2h-2.1zM71 38h1.1v1.2h-1.1zM73 38h2.1v1.2h-2.1zM81 38h1.1v1.2h-1.1zM73 39h1.1v1.2h-1.1zM79 40h2.1v1.2h-2.1zM71 41h1.1v1.2h-1.1zM78 41h2.1v1.2h-2.1zM81 41h1.1v1.2h-1.1zM70 42h2.1v1.2h-2.1zM76 42h4.1v1.2h-4.1zM81 42h2.1v1.2h-2.1zM65 43h1.1v1.2h-1.1zM70 43h4.1v1.2h-4.1zM75 43h9.1v1.2h-9.1zM60 44h1.1v1.2h-1.1zM67 44h17.1v1.2h-17.1zM60 45h1.1v1.2h-1.1zM66 45h12.1v1.2h-12.1zM80 45h3.1v1.2h-3.1zM60 46h1.1v1.2h-1.1zM62 46h1.1v1.2h-1.1zM70 46h2.1v1.2h-2.1zM73 46h10.1v1.2h-10.1zM84 46h2.1v1.2h-2.1zM59 47h2.1v1.2h-2.1zM66 47h1.1v1.2h-1.1zM71 47h1.1v1.2h-1.1zM73 47h14.1v1.2h-14.1zM69 48h1.1v1.2h-1.1zM74 48h3.1v1.2h-3.1zM78 48h2.1v1.2h-2.1zM81 48h6.1v1.2h-6.1zM59 49h1.1v1.2h-1.1zM72 49h1.1v1.2h-1.1zM77 49h2.1v1.2h-2.1zM80 49h7.1v1.2h-7.1zM59 50h2.1v1.2h-2.1zM74 50h1.1v1.2h-1.1zM76 50h11.1v1.2h-11.1zM57 51h4.1v1.2h-4.1zM74 51h13.1v1.2h-13.1zM57 52h2.1v1.2h-2.1zM60 52h1.1v1.2h-1.1zM68 52h1.1v1.2h-1.1zM70 52h12.1v1.2h-12.1zM83 52h4.1v1.2h-4.1zM57 53h2.1v1.2h-2.1zM60 53h1.1v1.2h-1.1zM68 53h13.1v1.2h-13.1zM83 53h3.1v1.2h-3.1zM58 54h3.1v1.2h-3.1zM67 54h15.1v1.2h-15.1zM83 54h3.1v1.2h-3.1zM59 55h2.1v1.2h-2.1zM66 55h1.1v1.2h-1.1zM68 55h2.1v1.2h-2.1zM71 55h7.1v1.2h-7.1zM79 55h6.1v1.2h-6.1zM58 56h1.1v1.2h-1.1zM60 56h1.1v1.2h-1.1zM67 56h2.1v1.2h-2.1zM70 56h1.1v1.2h-1.1zM72 56h3.1v1.2h-3.1zM77 56h3.1v1.2h-3.1zM81 56h2.1v1.2h-2.1zM84 56h1.1v1.2h-1.1zM54 57h1.1v1.2h-1.1zM59 57h2.1v1.2h-2.1zM62 57h1.1v1.2h-1.1zM66 57h3.1v1.2h-3.1zM70 57h3.1v1.2h-3.1zM74 57h1.1v1.2h-1.1zM76 57h8.1v1.2h-8.1zM50 58h3.1v1.2h-3.1zM54 58h3.1v1.2h-3.1zM59 58h5.1v1.2h-5.1zM65 58h1.1v1.2h-1.1zM67 58h2.1v1.2h-2.1zM70 58h3.1v1.2h-3.1zM74 58h1.1v1.2h-1.1zM76 58h8.1v1.2h-8.1zM50 59h1.1v1.2h-1.1zM52 59h1.1v1.2h-1.1zM54 59h2.1v1.2h-2.1zM59 59h8.1v1.2h-8.1zM68 59h1.1v1.2h-1.1zM70 59h3.1v1.2h-3.1zM76 59h7.1v1.2h-7.1zM50 60h3.1v1.2h-3.1zM60 60h9.1v1.2h-9.1zM70 60h2.1v1.2h-2.1zM75 60h6.1v1.2h-6.1zM49 61h5.1v1.2h-5.1zM55 61h2.1v1.2h-2.1zM60 61h13.1v1.2h-13.1zM74 61h7.1v1.2h-7.1zM51 62h3.1v1.2h-3.1zM56 62h1.1v1.2h-1.1zM61 62h2.1v1.2h-2.1zM64 62h15.1v1.2h-15.1zM51 63h2.1v1.2h-2.1zM56 63h1.1v1.2h-1.1zM61 63h5.1v1.2h-5.1zM67 63h8.1v1.2h-8.1zM76 63h2.1v1.2h-2.1zM52 64h1.1v1.2h-1.1zM56 64h1.1v1.2h-1.1zM63 64h11.1v1.2h-11.1zM75 64h1.1v1.2h-1.1zM64 65h9.1v1.2h-9.1zM68 66h3.1v1.2h-3.1zM69 67h1.1v1.2h-1.1zM67 69h4.1v1.2h-4.1zM68 70h3.1v1.2h-3.1zM67 71h1.1v1.2h-1.1zM70 71h1.1v1.2h-1.1z"/>
</g>
</g>
<use href="#chj" fill="none" stroke="#000" stroke-width="1.1" stroke-linejoin="round"/>
<use href="#cst" fill="none" stroke="#000" stroke-width="1.7" stroke-linejoin="round"/>
<ellipse cx="103.4" cy="105.7" rx="2.9" ry="2.8" fill="none" stroke="#000" stroke-width="0.9"/>
<use href="#sea"/>
</g>
<rect x="417.2" y="95.4" width="31.3" height="41.7" fill="#fff"/>
<path d="M417.3 95.5L417.3 100.4L420.8 102.2L423.8 102.9L424.8 104.7L425.4 102.9L428.7 102.5L433.6 100.8L437.6 98.8L441.5 96.3L441.5 95.5z" fill="#88110e"/>
<path d="M422.6 100.7h1.6v1.4h-1.6zM420.5 99.2h1.6v1.4h-1.6zM419.6 96.9h1.6v1.4h-1.6zM438.5 96.5h1.6v1.4h-1.6zM431.1 97.9h1.6v1.4h-1.6zM427.2 98.4h1.6v1.4h-1.6zM421.8 99.9h1.6v1.4h-1.6zM419.7 96.8h1.6v1.4h-1.6zM418.3 96.9h1.6v1.4h-1.6zM426.3 100.7h1.6v1.4h-1.6zM425.7 96.3h1.6v1.4h-1.6zM423.2 100.9h1.6v1.4h-1.6zM419.2 98.7h1.6v1.4h-1.6zM425.7 99.4h1.6v1.4h-1.6zM424.9 99.5h1.6v1.4h-1.6zM428.2 99.1h1.6v1.4h-1.6z" fill="#cd2a22"/>
<path d="M417.3 100.4L420.8 102.2L423.8 102.9L424.8 104.7L425.4 102.9L428.7 102.5L433.6 100.8L437.6 98.8L441.5 96.3" fill="none" stroke="#000" stroke-width="1.4" stroke-linejoin="round"/>
<ellipse cx="424.3" cy="106.5" rx="1.5" ry="1.5" fill="#b31b17" stroke="#000" stroke-width="0.7"/>
<path d="M440.7 98.0L443.0 97.0L443.7 99.8L443.3 103.3L442.0 101.3z" fill="#fff" stroke="#000" stroke-width="0.8" stroke-linejoin="round"/>
<path d="M429.5 105.9L431.7 106.5M440.5 106.2L441.1 108.3M423.6 111.4L424.2 112.0M427.2 109.7L429.3 111.4M431.7 111.9L433.2 111.4M435.4 110.2L436.0 110.8M437.6 112.6L439.9 111.8M433.4 114.4L434.2 115.0M425.3 117.3L425.7 119.1M439.1 111.4L439.7 113.0M422.3 126.0L423.8 124.9M424.8 123.9L427.2 122.5M428.2 122.0L430.2 120.5M433.6 120.5L436.1 119.5M437.1 119.0L440.0 117.5M428.7 127.4L430.2 128.4M428.2 130.8L429.7 131.4M432.6 124.9L434.2 125.4M431.2 119.0L431.9 121.5M431.9 121.5L432.8 123.4M432.3 119.3L433.4 122.7M430.2 122.5L432.6 121.0M430.9 123.9L433.6 122.7" stroke="#000" stroke-width="0.9" fill="none" stroke-linecap="round"/>
<path class="fr" d="M417.2 137.1V95.4H448.5"/>
<rect class="fr" x="266.5" y="19.1" width="182.3" height="117.8"/>
<g transform="translate(485.5 19.1)">
<g clip-path="url(#chc)"><g transform="scale(1.50)">
<path fill="#f9f3e6" d="M82 7h2.1v1.2h-2.1zM80 8h4.1v1.2h-4.1zM81 9h2.1v1.2h-2.1zM81 10h1.1v1.2h-1.1zM79 11h1.1v1.2h-1.1zM79 12h1.1v1.2h-1.1zM86 12h1.1v1.2h-1.1zM78 13h2.1v1.2h-2.1zM81 13h2.1v1.2h-2.1zM86 13h4.1v1.2h-4.1zM94 13h1.1v1.2h-1.1zM78 14h2.1v1.2h-2.1zM84 14h2.1v1.2h-2.1zM87 14h9.1v1.2h-9.1zM78 15h2.1v1.2h-2.1zM84 15h11.1v1.2h-11.1zM79 16h1.1v1.2h-1.1zM83 16h7.1v1.2h-7.1zM91 16h4.1v1.2h-4.1zM83 17h8.1v1.2h-8.1zM92 17h2.1v1.2h-2.1zM79 18h15.1v1.2h-15.1zM78 19h16.1v1.2h-16.1zM78 20h14.1v1.2h-14.1zM77 21h3.1v1.2h-3.1zM82 21h11.1v1.2h-11.1zM77 22h17.1v1.2h-17.1zM77 23h3.1v1.2h-3.1zM81 23h13.1v1.2h-13.1zM76 24h4.1v1.2h-4.1zM83 24h10.1v1.2h-10.1zM74 25h18.1v1.2h-18.1zM73 26h18.1v1.2h-18.1zM70 27h3.1v1.2h-3.1zM76 27h13.1v1.2h-13.1zM69 28h19.1v1.2h-19.1zM67 29h21.1v1.2h-21.1zM63 30h4.1v1.2h-4.1zM68 30h4.1v1.2h-4.1zM73 30h9.1v1.2h-9.1zM83 30h3.1v1.2h-3.1zM62 31h10.1v1.2h-10.1zM73 31h8.1v1.2h-8.1zM83 31h1.1v1.2h-1.1zM62 32h1.1v1.2h-1.1zM64 32h8.1v1.2h-8.1zM73 32h7.1v1.2h-7.1zM64 33h14.1v1.2h-14.1zM63 34h15.1v1.2h-15.1zM61 35h19.1v1.2h-19.1zM82 35h2.1v1.2h-2.1zM61 36h24.1v1.2h-24.1zM61 37h23.1v1.2h-23.1zM63 38h19.1v1.2h-19.1zM64 39h18.1v1.2h-18.1zM64 40h17.1v1.2h-17.1zM61 41h1.1v1.2h-1.1zM63 41h19.1v1.2h-19.1zM63 42h20.1v1.2h-20.1zM62 43h22.1v1.2h-22.1zM60 44h24.1v1.2h-24.1zM60 45h25.1v1.2h-25.1zM59 46h27.1v1.2h-27.1zM59 47h28.1v1.2h-28.1zM58 48h29.1v1.2h-29.1zM58 49h29.1v1.2h-29.1zM59 50h28.1v1.2h-28.1zM59 51h28.1v1.2h-28.1zM59 52h28.1v1.2h-28.1zM59 53h27.1v1.2h-27.1zM56 54h1.1v1.2h-1.1zM58 54h28.1v1.2h-28.1zM56 55h1.1v1.2h-1.1zM58 55h27.1v1.2h-27.1zM56 56h1.1v1.2h-1.1zM58 56h27.1v1.2h-27.1zM53 57h1.1v1.2h-1.1zM55 57h29.1v1.2h-29.1zM53 58h5.1v1.2h-5.1zM59 58h25.1v1.2h-25.1zM51 59h2.1v1.2h-2.1zM54 59h2.1v1.2h-2.1zM59 59h24.1v1.2h-24.1zM50 60h2.1v1.2h-2.1zM53 60h3.1v1.2h-3.1zM58 60h23.1v1.2h-23.1zM51 61h5.1v1.2h-5.1zM58 61h23.1v1.2h-23.1zM52 62h2.1v1.2h-2.1zM56 62h2.1v1.2h-2.1zM59 62h20.1v1.2h-20.1zM51 63h3.1v1.2h-3.1zM55 63h2.1v1.2h-2.1zM59 63h19.1v1.2h-19.1zM52 64h5.1v1.2h-5.1zM63 64h13.1v1.2h-13.1zM64 65h9.1v1.2h-9.1zM68 66h3.1v1.2h-3.1zM69 67h1.1v1.2h-1.1zM67 69h4.1v1.2h-4.1zM67 70h4.1v1.2h-4.1zM67 71h4.1v1.2h-4.1z"/>
<path fill="#f4e4c4" d="M82 7h2.1v1.2h-2.1zM80 8h4.1v1.2h-4.1zM81 9h2.1v1.2h-2.1zM81 10h1.1v1.2h-1.1zM79 11h1.1v1.2h-1.1zM79 12h1.1v1.2h-1.1zM86 12h1.1v1.2h-1.1zM78 13h2.1v1.2h-2.1zM81 13h2.1v1.2h-2.1zM86 13h4.1v1.2h-4.1zM94 13h1.1v1.2h-1.1zM78 14h2.1v1.2h-2.1zM84 14h2.1v1.2h-2.1zM87 14h9.1v1.2h-9.1zM78 15h2.1v1.2h-2.1zM84 15h11.1v1.2h-11.1zM79 16h1.1v1.2h-1.1zM83 16h7.1v1.2h-7.1zM91 16h4.1v1.2h-4.1zM83 17h8.1v1.2h-8.1zM92 17h2.1v1.2h-2.1zM79 18h15.1v1.2h-15.1zM78 19h16.1v1.2h-16.1zM78 20h14.1v1.2h-14.1zM77 21h3.1v1.2h-3.1zM82 21h11.1v1.2h-11.1zM77 22h10.1v1.2h-10.1zM88 22h6.1v1.2h-6.1zM77 23h3.1v1.2h-3.1zM81 23h5.1v1.2h-5.1zM88 23h6.1v1.2h-6.1zM76 24h4.1v1.2h-4.1zM83 24h2.1v1.2h-2.1zM89 24h4.1v1.2h-4.1zM74 25h11.1v1.2h-11.1zM88 25h4.1v1.2h-4.1zM73 26h11.1v1.2h-11.1zM85 26h1.1v1.2h-1.1zM87 26h4.1v1.2h-4.1zM70 27h3.1v1.2h-3.1zM76 27h8.1v1.2h-8.1zM87 27h2.1v1.2h-2.1zM69 28h15.1v1.2h-15.1zM87 28h1.1v1.2h-1.1zM67 29h14.1v1.2h-14.1zM83 29h3.1v1.2h-3.1zM87 29h1.1v1.2h-1.1zM63 30h4.1v1.2h-4.1zM68 30h4.1v1.2h-4.1zM73 30h9.1v1.2h-9.1zM84 30h2.1v1.2h-2.1zM62 31h10.1v1.2h-10.1zM73 31h8.1v1.2h-8.1zM83 31h1.1v1.2h-1.1zM62 32h1.1v1.2h-1.1zM64 32h8.1v1.2h-8.1zM73 32h7.1v1.2h-7.1zM64 33h14.1v1.2h-14.1zM63 34h15.1v1.2h-15.1zM61 35h19.1v1.2h-19.1zM82 35h2.1v1.2h-2.1zM61 36h24.1v1.2h-24.1zM61 37h18.1v1.2h-18.1zM81 37h3.1v1.2h-3.1zM63 38h19.1v1.2h-19.1zM64 39h18.1v1.2h-18.1zM64 40h17.1v1.2h-17.1zM61 41h1.1v1.2h-1.1zM63 41h14.1v1.2h-14.1zM79 41h3.1v1.2h-3.1zM63 42h14.1v1.2h-14.1zM80 42h3.1v1.2h-3.1zM62 43h15.1v1.2h-15.1zM79 43h5.1v1.2h-5.1zM60 44h24.1v1.2h-24.1zM60 45h25.1v1.2h-25.1zM59 46h27.1v1.2h-27.1zM59 47h28.1v1.2h-28.1zM58 48h29.1v1.2h-29.1zM58 49h29.1v1.2h-29.1zM59 50h28.1v1.2h-28.1zM59 51h28.1v1.2h-28.1zM59 52h28.1v1.2h-28.1zM59 53h27.1v1.2h-27.1zM56 54h1.1v1.2h-1.1zM58 54h28.1v1.2h-28.1zM56 55h1.1v1.2h-1.1zM58 55h27.1v1.2h-27.1zM56 56h1.1v1.2h-1.1zM58 56h27.1v1.2h-27.1zM53 57h1.1v1.2h-1.1zM55 57h29.1v1.2h-29.1zM53 58h5.1v1.2h-5.1zM59 58h25.1v1.2h-25.1zM51 59h2.1v1.2h-2.1zM54 59h2.1v1.2h-2.1zM59 59h24.1v1.2h-24.1zM50 60h2.1v1.2h-2.1zM53 60h3.1v1.2h-3.1zM58 60h23.1v1.2h-23.1zM51 61h5.1v1.2h-5.1zM58 61h23.1v1.2h-23.1zM52 62h2.1v1.2h-2.1zM56 62h2.1v1.2h-2.1zM59 62h20.1v1.2h-20.1zM51 63h3.1v1.2h-3.1zM55 63h2.1v1.2h-2.1zM59 63h19.1v1.2h-19.1zM52 64h5.1v1.2h-5.1zM63 64h13.1v1.2h-13.1zM64 65h9.1v1.2h-9.1zM68 66h3.1v1.2h-3.1zM69 67h1.1v1.2h-1.1zM67 69h4.1v1.2h-4.1zM67 70h4.1v1.2h-4.1zM67 71h4.1v1.2h-4.1z"/>
<path fill="#efd4a3" d="M82 7h2.1v1.2h-2.1zM80 8h4.1v1.2h-4.1zM81 9h2.1v1.2h-2.1zM81 10h1.1v1.2h-1.1zM79 11h1.1v1.2h-1.1zM79 12h1.1v1.2h-1.1zM86 12h1.1v1.2h-1.1zM78 13h2.1v1.2h-2.1zM81 13h2.1v1.2h-2.1zM86 13h4.1v1.2h-4.1zM94 13h1.1v1.2h-1.1zM78 14h2.1v1.2h-2.1zM84 14h2.1v1.2h-2.1zM87 14h9.1v1.2h-9.1zM78 15h2.1v1.2h-2.1zM84 15h11.1v1.2h-11.1zM79 16h1.1v1.2h-1.1zM83 16h7.1v1.2h-7.1zM91 16h4.1v1.2h-4.1zM83 17h8.1v1.2h-8.1zM92 17h2.1v1.2h-2.1zM79 18h15.1v1.2h-15.1zM78 19h16.1v1.2h-16.1zM78 20h9.1v1.2h-9.1zM88 20h4.1v1.2h-4.1zM77 21h3.1v1.2h-3.1zM82 21h5.1v1.2h-5.1zM88 21h5.1v1.2h-5.1zM77 22h9.1v1.2h-9.1zM89 22h5.1v1.2h-5.1zM77 23h3.1v1.2h-3.1zM81 23h4.1v1.2h-4.1zM89 23h5.1v1.2h-5.1zM76 24h4.1v1.2h-4.1zM83 24h1.1v1.2h-1.1zM89 24h4.1v1.2h-4.1zM74 25h10.1v1.2h-10.1zM89 25h3.1v1.2h-3.1zM73 26h10.1v1.2h-10.1zM89 26h2.1v1.2h-2.1zM70 27h3.1v1.2h-3.1zM76 27h6.1v1.2h-6.1zM88 27h1.1v1.2h-1.1zM69 28h12.1v1.2h-12.1zM67 29h13.1v1.2h-13.1zM83 29h3.1v1.2h-3.1zM63 30h4.1v1.2h-4.1zM68 30h4.1v1.2h-4.1zM73 30h7.1v1.2h-7.1zM62 31h10.1v1.2h-10.1zM73 31h7.1v1.2h-7.1zM62 32h1.1v1.2h-1.1zM64 32h8.1v1.2h-8.1zM73 32h7.1v1.2h-7.1zM64 33h13.1v1.2h-13.1zM63 34h13.1v1.2h-13.1zM61 35h15.1v1.2h-15.1zM79 35h1.1v1.2h-1.1zM61 36h13.1v1.2h-13.1zM61 37h6.1v1.2h-6.1zM69 37h5.1v1.2h-5.1zM63 38h10.1v1.2h-10.1zM64 39h7.1v1.2h-7.1zM64 40h7.1v1.2h-7.1zM75 40h1.1v1.2h-1.1zM61 41h1.1v1.2h-1.1zM63 41h8.1v1.2h-8.1zM74 41h1.1v1.2h-1.1zM81 41h1.1v1.2h-1.1zM63 42h8.1v1.2h-8.1zM74 42h1.1v1.2h-1.1zM82 42h1.1v1.2h-1.1zM62 43h9.1v1.2h-9.1zM74 43h2.1v1.2h-2.1zM83 43h1.1v1.2h-1.1zM60 44h12.1v1.2h-12.1zM74 44h2.1v1.2h-2.1zM60 45h12.1v1.2h-12.1zM73 45h2.1v1.2h-2.1zM76 45h3.1v1.2h-3.1zM60 46h15.1v1.2h-15.1zM76 46h2.1v1.2h-2.1zM83 46h3.1v1.2h-3.1zM60 47h15.1v1.2h-15.1zM76 47h2.1v1.2h-2.1zM83 47h4.1v1.2h-4.1zM60 48h6.1v1.2h-6.1zM68 48h7.1v1.2h-7.1zM76 48h2.1v1.2h-2.1zM83 48h4.1v1.2h-4.1zM61 49h16.1v1.2h-16.1zM82 49h5.1v1.2h-5.1zM59 50h16.1v1.2h-16.1zM76 50h2.1v1.2h-2.1zM80 50h7.1v1.2h-7.1zM59 51h7.1v1.2h-7.1zM68 51h19.1v1.2h-19.1zM59 52h7.1v1.2h-7.1zM69 52h7.1v1.2h-7.1zM77 52h10.1v1.2h-10.1zM59 53h8.1v1.2h-8.1zM69 53h17.1v1.2h-17.1zM56 54h1.1v1.2h-1.1zM58 54h1.1v1.2h-1.1zM60 54h26.1v1.2h-26.1zM56 55h1.1v1.2h-1.1zM58 55h27.1v1.2h-27.1zM56 56h1.1v1.2h-1.1zM58 56h3.1v1.2h-3.1zM62 56h3.1v1.2h-3.1zM67 56h18.1v1.2h-18.1zM53 57h1.1v1.2h-1.1zM55 57h10.1v1.2h-10.1zM68 57h16.1v1.2h-16.1zM53 58h5.1v1.2h-5.1zM59 58h6.1v1.2h-6.1zM67 58h17.1v1.2h-17.1zM51 59h2.1v1.2h-2.1zM54 59h2.1v1.2h-2.1zM59 59h18.1v1.2h-18.1zM79 59h4.1v1.2h-4.1zM50 60h2.1v1.2h-2.1zM53 60h3.1v1.2h-3.1zM58 60h20.1v1.2h-20.1zM80 60h1.1v1.2h-1.1zM51 61h5.1v1.2h-5.1zM58 61h20.1v1.2h-20.1zM80 61h1.1v1.2h-1.1zM52 62h2.1v1.2h-2.1zM56 62h2.1v1.2h-2.1zM59 62h16.1v1.2h-16.1zM77 62h1.1v1.2h-1.1zM51 63h3.1v1.2h-3.1zM55 63h2.1v1.2h-2.1zM59 63h15.1v1.2h-15.1zM77 63h1.1v1.2h-1.1zM52 64h5.1v1.2h-5.1zM63 64h7.1v1.2h-7.1zM71 64h2.1v1.2h-2.1zM64 65h5.1v1.2h-5.1zM68 66h1.1v1.2h-1.1zM70 66h1.1v1.2h-1.1zM69 67h1.1v1.2h-1.1zM67 69h4.1v1.2h-4.1zM67 70h4.1v1.2h-4.1zM67 71h4.1v1.2h-4.1z"/>
<path fill="#eebd83" d="M82 7h2.1v1.2h-2.1zM80 8h4.1v1.2h-4.1zM81 9h2.1v1.2h-2.1zM81 10h1.1v1.2h-1.1zM79 11h1.1v1.2h-1.1zM79 12h1.1v1.2h-1.1zM86 12h1.1v1.2h-1.1zM78 13h2.1v1.2h-2.1zM81 13h2.1v1.2h-2.1zM86 13h4.1v1.2h-4.1zM94 13h1.1v1.2h-1.1zM78 14h2.1v1.2h-2.1zM84 14h2.1v1.2h-2.1zM87 14h9.1v1.2h-9.1zM78 15h2.1v1.2h-2.1zM84 15h11.1v1.2h-11.1zM79 16h1.1v1.2h-1.1zM83 16h7.1v1.2h-7.1zM91 16h4.1v1.2h-4.1zM83 17h8.1v1.2h-8.1zM92 17h2.1v1.2h-2.1zM79 18h15.1v1.2h-15.1zM78 19h9.1v1.2h-9.1zM88 19h6.1v1.2h-6.1zM78 20h8.1v1.2h-8.1zM89 20h3.1v1.2h-3.1zM77 21h3.1v1.2h-3.1zM82 21h4.1v1.2h-4.1zM88 21h5.1v1.2h-5.1zM77 22h9.1v1.2h-9.1zM90 22h4.1v1.2h-4.1zM77 23h3.1v1.2h-3.1zM81 23h3.1v1.2h-3.1zM90 23h3.1v1.2h-3.1zM76 24h4.1v1.2h-4.1zM90 24h2.1v1.2h-2.1zM74 25h9.1v1.2h-9.1zM90 25h2.1v1.2h-2.1zM74 26h8.1v1.2h-8.1zM89 26h2.1v1.2h-2.1zM72 27h1.1v1.2h-1.1zM76 27h4.1v1.2h-4.1zM88 27h1.1v1.2h-1.1zM69 28h1.1v1.2h-1.1zM71 28h9.1v1.2h-9.1zM67 29h8.1v1.2h-8.1zM77 29h3.1v1.2h-3.1zM83 29h1.1v1.2h-1.1zM64 30h3.1v1.2h-3.1zM68 30h4.1v1.2h-4.1zM73 30h3.1v1.2h-3.1zM78 30h1.1v1.2h-1.1zM62 31h10.1v1.2h-10.1zM73 31h3.1v1.2h-3.1zM77 31h2.1v1.2h-2.1zM62 32h1.1v1.2h-1.1zM64 32h8.1v1.2h-8.1zM73 32h2.1v1.2h-2.1zM77 32h2.1v1.2h-2.1zM64 33h12.1v1.2h-12.1zM63 34h11.1v1.2h-11.1zM61 35h7.1v1.2h-7.1zM69 35h4.1v1.2h-4.1zM61 36h3.1v1.2h-3.1zM71 36h2.1v1.2h-2.1zM61 37h3.1v1.2h-3.1zM65 37h1.1v1.2h-1.1zM63 38h4.1v1.2h-4.1zM64 39h3.1v1.2h-3.1zM64 40h3.1v1.2h-3.1zM61 41h1.1v1.2h-1.1zM63 41h3.1v1.2h-3.1zM63 42h3.1v1.2h-3.1zM69 42h1.1v1.2h-1.1zM62 43h5.1v1.2h-5.1zM60 44h6.1v1.2h-6.1zM69 44h1.1v1.2h-1.1zM61 45h5.1v1.2h-5.1zM69 45h1.1v1.2h-1.1zM77 45h1.1v1.2h-1.1zM61 46h4.1v1.2h-4.1zM61 47h4.1v1.2h-4.1zM84 47h3.1v1.2h-3.1zM62 48h3.1v1.2h-3.1zM71 48h2.1v1.2h-2.1zM84 48h3.1v1.2h-3.1zM62 49h3.1v1.2h-3.1zM71 49h4.1v1.2h-4.1zM83 49h4.1v1.2h-4.1zM62 50h3.1v1.2h-3.1zM71 50h4.1v1.2h-4.1zM82 50h5.1v1.2h-5.1zM62 51h4.1v1.2h-4.1zM71 51h4.1v1.2h-4.1zM77 51h1.1v1.2h-1.1zM81 51h6.1v1.2h-6.1zM59 52h1.1v1.2h-1.1zM62 52h3.1v1.2h-3.1zM71 52h4.1v1.2h-4.1zM79 52h7.1v1.2h-7.1zM62 53h3.1v1.2h-3.1zM70 53h5.1v1.2h-5.1zM78 53h7.1v1.2h-7.1zM62 54h1.1v1.2h-1.1zM69 54h15.1v1.2h-15.1zM69 55h14.1v1.2h-14.1zM56 56h1.1v1.2h-1.1zM58 56h1.1v1.2h-1.1zM69 56h14.1v1.2h-14.1zM53 57h1.1v1.2h-1.1zM55 57h6.1v1.2h-6.1zM68 57h10.1v1.2h-10.1zM79 57h3.1v1.2h-3.1zM53 58h5.1v1.2h-5.1zM59 58h2.1v1.2h-2.1zM69 58h8.1v1.2h-8.1zM80 58h1.1v1.2h-1.1zM51 59h2.1v1.2h-2.1zM54 59h2.1v1.2h-2.1zM59 59h1.1v1.2h-1.1zM64 59h1.1v1.2h-1.1zM68 59h8.1v1.2h-8.1zM50 60h2.1v1.2h-2.1zM53 60h3.1v1.2h-3.1zM58 60h2.1v1.2h-2.1zM64 60h1.1v1.2h-1.1zM68 60h7.1v1.2h-7.1zM51 61h5.1v1.2h-5.1zM58 61h2.1v1.2h-2.1zM61 61h1.1v1.2h-1.1zM67 61h6.1v1.2h-6.1zM52 62h2.1v1.2h-2.1zM56 62h2.1v1.2h-2.1zM59 62h2.1v1.2h-2.1zM62 62h2.1v1.2h-2.1zM68 62h4.1v1.2h-4.1zM51 63h3.1v1.2h-3.1zM55 63h2.1v1.2h-2.1zM59 63h2.1v1.2h-2.1zM62 63h2.1v1.2h-2.1zM72 63h1.1v1.2h-1.1zM52 64h5.1v1.2h-5.1zM69 67h1.1v1.2h-1.1zM67 69h4.1v1.2h-4.1zM67 70h4.1v1.2h-4.1zM67 71h4.1v1.2h-4.1z"/>
<path fill="#eba273" d="M82 7h2.1v1.2h-2.1zM80 8h4.1v1.2h-4.1zM82 9h1.1v1.2h-1.1zM81 10h1.1v1.2h-1.1zM79 11h1.1v1.2h-1.1zM79 12h1.1v1.2h-1.1zM86 12h1.1v1.2h-1.1zM78 13h2.1v1.2h-2.1zM81 13h2.1v1.2h-2.1zM86 13h4.1v1.2h-4.1zM94 13h1.1v1.2h-1.1zM78 14h2.1v1.2h-2.1zM84 14h2.1v1.2h-2.1zM87 14h9.1v1.2h-9.1zM78 15h2.1v1.2h-2.1zM84 15h11.1v1.2h-11.1zM79 16h1.1v1.2h-1.1zM85 16h5.1v1.2h-5.1zM91 16h4.1v1.2h-4.1zM83 17h1.1v1.2h-1.1zM85 17h6.1v1.2h-6.1zM92 17h2.1v1.2h-2.1zM79 18h15.1v1.2h-15.1zM78 19h8.1v1.2h-8.1zM88 19h6.1v1.2h-6.1zM78 20h8.1v1.2h-8.1zM89 20h3.1v1.2h-3.1zM77 21h3.1v1.2h-3.1zM82 21h3.1v1.2h-3.1zM89 21h4.1v1.2h-4.1zM77 22h8.1v1.2h-8.1zM90 22h4.1v1.2h-4.1zM77 23h3.1v1.2h-3.1zM81 23h2.1v1.2h-2.1zM91 23h1.1v1.2h-1.1zM76 24h4.1v1.2h-4.1zM91 24h1.1v1.2h-1.1zM75 25h7.1v1.2h-7.1zM91 25h1.1v1.2h-1.1zM75 26h6.1v1.2h-6.1zM76 27h1.1v1.2h-1.1zM88 27h1.1v1.2h-1.1zM67 29h1.1v1.2h-1.1zM69 29h4.1v1.2h-4.1zM78 29h1.1v1.2h-1.1zM65 30h2.1v1.2h-2.1zM68 30h4.1v1.2h-4.1zM73 30h2.1v1.2h-2.1zM64 31h8.1v1.2h-8.1zM73 31h2.1v1.2h-2.1zM62 32h1.1v1.2h-1.1zM64 32h8.1v1.2h-8.1zM73 32h1.1v1.2h-1.1zM77 32h1.1v1.2h-1.1zM64 33h10.1v1.2h-10.1zM63 34h1.1v1.2h-1.1zM67 34h1.1v1.2h-1.1zM71 34h3.1v1.2h-3.1zM64 35h1.1v1.2h-1.1zM71 35h1.1v1.2h-1.1zM63 38h2.1v1.2h-2.1zM64 39h2.1v1.2h-2.1zM64 40h3.1v1.2h-3.1zM61 41h1.1v1.2h-1.1zM63 41h2.1v1.2h-2.1zM63 42h2.1v1.2h-2.1zM62 43h3.1v1.2h-3.1zM61 44h4.1v1.2h-4.1zM69 44h1.1v1.2h-1.1zM62 45h3.1v1.2h-3.1zM62 46h2.1v1.2h-2.1zM62 47h2.1v1.2h-2.1zM86 47h1.1v1.2h-1.1zM62 48h3.1v1.2h-3.1zM72 48h1.1v1.2h-1.1zM84 48h3.1v1.2h-3.1zM63 49h1.1v1.2h-1.1zM72 49h1.1v1.2h-1.1zM83 49h4.1v1.2h-4.1zM63 50h1.1v1.2h-1.1zM72 50h2.1v1.2h-2.1zM83 50h4.1v1.2h-4.1zM63 51h2.1v1.2h-2.1zM72 51h2.1v1.2h-2.1zM82 51h4.1v1.2h-4.1zM63 52h1.1v1.2h-1.1zM72 52h2.1v1.2h-2.1zM80 52h6.1v1.2h-6.1zM73 53h1.1v1.2h-1.1zM78 53h7.1v1.2h-7.1zM69 54h1.1v1.2h-1.1zM73 54h2.1v1.2h-2.1zM76 54h7.1v1.2h-7.1zM70 55h1.1v1.2h-1.1zM73 55h10.1v1.2h-10.1zM69 56h10.1v1.2h-10.1zM80 56h2.1v1.2h-2.1zM53 57h1.1v1.2h-1.1zM55 57h2.1v1.2h-2.1zM59 57h1.1v1.2h-1.1zM69 57h8.1v1.2h-8.1zM80 57h1.1v1.2h-1.1zM53 58h5.1v1.2h-5.1zM59 58h1.1v1.2h-1.1zM69 58h7.1v1.2h-7.1zM51 59h2.1v1.2h-2.1zM54 59h2.1v1.2h-2.1zM64 59h1.1v1.2h-1.1zM69 59h6.1v1.2h-6.1zM50 60h2.1v1.2h-2.1zM53 60h3.1v1.2h-3.1zM58 60h1.1v1.2h-1.1zM69 60h4.1v1.2h-4.1zM51 61h5.1v1.2h-5.1zM58 61h1.1v1.2h-1.1zM69 61h4.1v1.2h-4.1zM52 62h2.1v1.2h-2.1zM56 62h2.1v1.2h-2.1zM51 63h3.1v1.2h-3.1zM55 63h2.1v1.2h-2.1zM63 63h1.1v1.2h-1.1zM52 64h5.1v1.2h-5.1zM68 69h3.1v1.2h-3.1zM67 70h4.1v1.2h-4.1zM67 71h3.1v1.2h-3.1z"/>
<path fill="#e5705a" d="M82 7h2.1v1.2h-2.1zM83 8h1.1v1.2h-1.1zM82 9h1.1v1.2h-1.1zM79 11h1.1v1.2h-1.1zM79 12h1.1v1.2h-1.1zM86 12h1.1v1.2h-1.1zM78 13h2.1v1.2h-2.1zM81 13h2.1v1.2h-2.1zM86 13h1.1v1.2h-1.1zM88 13h2.1v1.2h-2.1zM94 13h1.1v1.2h-1.1zM78 14h2.1v1.2h-2.1zM84 14h2.1v1.2h-2.1zM87 14h9.1v1.2h-9.1zM79 15h1.1v1.2h-1.1zM84 15h11.1v1.2h-11.1zM79 16h1.1v1.2h-1.1zM85 16h3.1v1.2h-3.1zM89 16h1.1v1.2h-1.1zM91 16h4.1v1.2h-4.1zM83 17h1.1v1.2h-1.1zM86 17h5.1v1.2h-5.1zM92 17h2.1v1.2h-2.1zM79 18h5.1v1.2h-5.1zM86 18h8.1v1.2h-8.1zM78 19h8.1v1.2h-8.1zM89 19h5.1v1.2h-5.1zM78 20h8.1v1.2h-8.1zM89 20h3.1v1.2h-3.1zM77 21h3.1v1.2h-3.1zM82 21h3.1v1.2h-3.1zM89 21h4.1v1.2h-4.1zM77 22h6.1v1.2h-6.1zM92 22h2.1v1.2h-2.1zM77 23h3.1v1.2h-3.1zM81 23h2.1v1.2h-2.1zM76 24h4.1v1.2h-4.1zM75 25h7.1v1.2h-7.1zM78 26h1.1v1.2h-1.1zM66 30h1.1v1.2h-1.1zM68 30h1.1v1.2h-1.1zM70 30h2.1v1.2h-2.1zM73 30h2.1v1.2h-2.1zM66 31h6.1v1.2h-6.1zM73 31h2.1v1.2h-2.1zM62 32h1.1v1.2h-1.1zM64 32h8.1v1.2h-8.1zM73 32h1.1v1.2h-1.1zM68 33h1.1v1.2h-1.1zM72 33h2.1v1.2h-2.1zM63 34h1.1v1.2h-1.1zM71 34h2.1v1.2h-2.1zM64 40h2.1v1.2h-2.1zM63 41h1.1v1.2h-1.1zM63 42h1.1v1.2h-1.1zM62 43h3.1v1.2h-3.1zM62 44h3.1v1.2h-3.1zM63 48h1.1v1.2h-1.1zM85 48h2.1v1.2h-2.1zM72 49h1.1v1.2h-1.1zM84 49h3.1v1.2h-3.1zM83 50h3.1v1.2h-3.1zM82 51h4.1v1.2h-4.1zM81 52h4.1v1.2h-4.1zM79 53h5.1v1.2h-5.1zM77 54h6.1v1.2h-6.1zM77 55h5.1v1.2h-5.1zM75 56h3.1v1.2h-3.1zM80 56h1.1v1.2h-1.1zM53 57h1.1v1.2h-1.1zM55 57h1.1v1.2h-1.1zM70 57h1.1v1.2h-1.1zM72 57h5.1v1.2h-5.1zM53 58h4.1v1.2h-4.1zM59 58h1.1v1.2h-1.1zM70 58h2.1v1.2h-2.1zM73 58h2.1v1.2h-2.1zM51 59h2.1v1.2h-2.1zM54 59h2.1v1.2h-2.1zM70 59h2.1v1.2h-2.1zM73 59h2.1v1.2h-2.1zM50 60h2.1v1.2h-2.1zM53 60h3.1v1.2h-3.1zM70 60h2.1v1.2h-2.1zM51 61h5.1v1.2h-5.1zM72 61h1.1v1.2h-1.1zM52 62h2.1v1.2h-2.1zM56 62h2.1v1.2h-2.1zM51 63h3.1v1.2h-3.1zM55 63h2.1v1.2h-2.1zM52 64h5.1v1.2h-5.1zM67 71h1.1v1.2h-1.1z"/>
<path fill="#dc4b3f" d="M83 8h1.1v1.2h-1.1zM82 9h1.1v1.2h-1.1zM79 11h1.1v1.2h-1.1zM79 12h1.1v1.2h-1.1zM86 12h1.1v1.2h-1.1zM78 13h2.1v1.2h-2.1zM81 13h2.1v1.2h-2.1zM88 13h2.1v1.2h-2.1zM78 14h1.1v1.2h-1.1zM84 14h2.1v1.2h-2.1zM87 14h2.1v1.2h-2.1zM90 14h5.1v1.2h-5.1zM79 15h1.1v1.2h-1.1zM84 15h3.1v1.2h-3.1zM90 15h5.1v1.2h-5.1zM79 16h1.1v1.2h-1.1zM85 16h3.1v1.2h-3.1zM89 16h1.1v1.2h-1.1zM91 16h4.1v1.2h-4.1zM83 17h1.1v1.2h-1.1zM86 17h2.1v1.2h-2.1zM89 17h2.1v1.2h-2.1zM92 17h2.1v1.2h-2.1zM79 18h5.1v1.2h-5.1zM86 18h8.1v1.2h-8.1zM79 19h7.1v1.2h-7.1zM89 19h3.1v1.2h-3.1zM78 20h6.1v1.2h-6.1zM85 20h1.1v1.2h-1.1zM89 20h3.1v1.2h-3.1zM77 21h3.1v1.2h-3.1zM82 21h3.1v1.2h-3.1zM90 21h3.1v1.2h-3.1zM77 22h6.1v1.2h-6.1zM92 22h2.1v1.2h-2.1zM77 23h3.1v1.2h-3.1zM81 23h1.1v1.2h-1.1zM76 24h4.1v1.2h-4.1zM77 25h5.1v1.2h-5.1zM66 30h1.1v1.2h-1.1zM68 30h1.1v1.2h-1.1zM71 30h1.1v1.2h-1.1zM73 30h1.1v1.2h-1.1zM67 31h2.1v1.2h-2.1zM70 31h2.1v1.2h-2.1zM73 31h1.1v1.2h-1.1zM64 32h2.1v1.2h-2.1zM71 32h1.1v1.2h-1.1zM73 32h1.1v1.2h-1.1zM72 33h2.1v1.2h-2.1zM63 34h1.1v1.2h-1.1zM72 34h1.1v1.2h-1.1zM63 43h1.1v1.2h-1.1zM86 48h1.1v1.2h-1.1zM84 49h2.1v1.2h-2.1zM83 50h3.1v1.2h-3.1zM82 51h4.1v1.2h-4.1zM81 52h4.1v1.2h-4.1zM79 53h5.1v1.2h-5.1zM78 54h5.1v1.2h-5.1zM78 55h1.1v1.2h-1.1zM76 56h1.1v1.2h-1.1zM53 57h1.1v1.2h-1.1zM72 57h1.1v1.2h-1.1zM74 57h2.1v1.2h-2.1zM53 58h3.1v1.2h-3.1zM71 58h1.1v1.2h-1.1zM73 58h2.1v1.2h-2.1zM51 59h2.1v1.2h-2.1zM54 59h2.1v1.2h-2.1zM74 59h1.1v1.2h-1.1zM50 60h2.1v1.2h-2.1zM53 60h3.1v1.2h-3.1zM71 60h1.1v1.2h-1.1zM51 61h5.1v1.2h-5.1zM52 62h2.1v1.2h-2.1zM56 62h2.1v1.2h-2.1zM51 63h3.1v1.2h-3.1zM55 63h2.1v1.2h-2.1zM52 64h5.1v1.2h-5.1z"/>
<path fill="#cd2a22" d="M82 9h1.1v1.2h-1.1zM79 11h1.1v1.2h-1.1zM79 12h1.1v1.2h-1.1zM86 12h1.1v1.2h-1.1zM82 13h1.1v1.2h-1.1zM88 13h2.1v1.2h-2.1zM84 14h2.1v1.2h-2.1zM91 14h4.1v1.2h-4.1zM86 15h1.1v1.2h-1.1zM91 15h3.1v1.2h-3.1zM79 16h1.1v1.2h-1.1zM86 16h2.1v1.2h-2.1zM89 16h1.1v1.2h-1.1zM91 16h4.1v1.2h-4.1zM83 17h1.1v1.2h-1.1zM86 17h2.1v1.2h-2.1zM89 17h2.1v1.2h-2.1zM92 17h2.1v1.2h-2.1zM79 18h4.1v1.2h-4.1zM89 18h3.1v1.2h-3.1zM79 19h6.1v1.2h-6.1zM89 19h3.1v1.2h-3.1zM79 20h5.1v1.2h-5.1zM90 20h2.1v1.2h-2.1zM77 21h3.1v1.2h-3.1zM82 21h1.1v1.2h-1.1zM92 21h1.1v1.2h-1.1zM77 22h5.1v1.2h-5.1zM93 22h1.1v1.2h-1.1zM77 23h3.1v1.2h-3.1zM81 23h1.1v1.2h-1.1zM76 24h4.1v1.2h-4.1zM66 30h1.1v1.2h-1.1zM71 30h1.1v1.2h-1.1zM73 30h1.1v1.2h-1.1zM67 31h2.1v1.2h-2.1zM71 31h1.1v1.2h-1.1zM73 31h1.1v1.2h-1.1zM64 32h1.1v1.2h-1.1zM71 32h1.1v1.2h-1.1zM73 32h1.1v1.2h-1.1zM72 33h2.1v1.2h-2.1zM84 49h1.1v1.2h-1.1zM84 50h2.1v1.2h-2.1zM83 51h3.1v1.2h-3.1zM81 52h4.1v1.2h-4.1zM80 53h4.1v1.2h-4.1zM79 54h3.1v1.2h-3.1zM53 58h1.1v1.2h-1.1zM73 58h2.1v1.2h-2.1zM51 59h2.1v1.2h-2.1zM54 59h2.1v1.2h-2.1zM50 60h2.1v1.2h-2.1zM53 60h3.1v1.2h-3.1zM51 61h5.1v1.2h-5.1zM52 62h2.1v1.2h-2.1zM56 62h1.1v1.2h-1.1zM51 63h3.1v1.2h-3.1zM55 63h2.1v1.2h-2.1zM52 64h4.1v1.2h-4.1z"/>
<path fill="#b31b17" d="M88 13h1.1v1.2h-1.1zM93 14h1.1v1.2h-1.1zM86 15h1.1v1.2h-1.1zM93 15h1.1v1.2h-1.1zM89 16h1.1v1.2h-1.1zM91 16h3.1v1.2h-3.1zM86 17h1.1v1.2h-1.1zM90 17h1.1v1.2h-1.1zM92 17h1.1v1.2h-1.1zM79 18h4.1v1.2h-4.1zM89 18h3.1v1.2h-3.1zM80 19h3.1v1.2h-3.1zM84 19h1.1v1.2h-1.1zM90 19h2.1v1.2h-2.1zM80 20h4.1v1.2h-4.1zM90 20h2.1v1.2h-2.1zM79 21h1.1v1.2h-1.1zM82 21h1.1v1.2h-1.1zM78 22h4.1v1.2h-4.1zM77 23h3.1v1.2h-3.1zM78 24h2.1v1.2h-2.1zM66 30h1.1v1.2h-1.1zM71 30h1.1v1.2h-1.1zM73 30h1.1v1.2h-1.1zM67 31h1.1v1.2h-1.1zM71 31h1.1v1.2h-1.1zM73 31h1.1v1.2h-1.1zM64 32h1.1v1.2h-1.1zM71 32h1.1v1.2h-1.1zM73 32h1.1v1.2h-1.1zM72 33h2.1v1.2h-2.1zM84 49h1.1v1.2h-1.1zM84 50h2.1v1.2h-2.1zM83 51h3.1v1.2h-3.1zM82 52h2.1v1.2h-2.1zM80 53h3.1v1.2h-3.1zM74 58h1.1v1.2h-1.1zM51 59h2.1v1.2h-2.1zM54 59h1.1v1.2h-1.1zM50 60h2.1v1.2h-2.1zM53 60h3.1v1.2h-3.1zM51 61h5.1v1.2h-5.1zM52 62h2.1v1.2h-2.1zM51 63h3.1v1.2h-3.1zM55 63h1.1v1.2h-1.1zM52 64h3.1v1.2h-3.1z"/>
<path fill="#941310" d="M93 14h1.1v1.2h-1.1zM91 16h1.1v1.2h-1.1zM90 17h1.1v1.2h-1.1zM81 18h2.1v1.2h-2.1zM90 18h2.1v1.2h-2.1zM80 19h3.1v1.2h-3.1zM90 19h1.1v1.2h-1.1zM80 20h2.1v1.2h-2.1zM79 22h1.1v1.2h-1.1zM79 23h1.1v1.2h-1.1zM66 30h1.1v1.2h-1.1zM71 30h1.1v1.2h-1.1zM71 31h1.1v1.2h-1.1zM73 31h1.1v1.2h-1.1zM64 32h1.1v1.2h-1.1zM72 33h1.1v1.2h-1.1zM83 51h2.1v1.2h-2.1zM82 52h2.1v1.2h-2.1zM81 53h1.1v1.2h-1.1zM52 59h1.1v1.2h-1.1zM51 60h1.1v1.2h-1.1zM53 60h2.1v1.2h-2.1zM51 61h5.1v1.2h-5.1zM52 62h2.1v1.2h-2.1zM51 63h3.1v1.2h-3.1zM55 63h1.1v1.2h-1.1zM52 64h2.1v1.2h-2.1z"/>
<path fill="#7b0f0c" d="M90 17h1.1v1.2h-1.1zM81 18h2.1v1.2h-2.1zM90 18h2.1v1.2h-2.1zM81 19h1.1v1.2h-1.1zM80 20h2.1v1.2h-2.1zM71 31h1.1v1.2h-1.1zM73 31h1.1v1.2h-1.1zM83 52h1.1v1.2h-1.1zM51 60h1.1v1.2h-1.1zM53 60h2.1v1.2h-2.1zM51 61h4.1v1.2h-4.1zM52 62h2.1v1.2h-2.1zM51 63h3.1v1.2h-3.1z"/>
</g>
</g>
<use href="#chj" fill="none" stroke="#000" stroke-width="1.1" stroke-linejoin="round"/>
<use href="#cst" fill="none" stroke="#000" stroke-width="1.7" stroke-linejoin="round"/>
<ellipse cx="103.4" cy="105.7" rx="2.9" ry="2.8" fill="none" stroke="#000" stroke-width="0.9"/>
<use href="#sea"/>
</g>
<rect x="636.2" y="95.4" width="31.3" height="41.7" fill="#fff"/>
<path d="M636.3 95.5L636.3 100.4L639.8 102.2L642.8 102.9L643.8 104.7L644.4 102.9L647.7 102.5L652.6 100.8L656.6 98.8L660.5 96.3L660.5 95.5z" fill="#efd4a3"/>
<path d="M646.4 97.7h1.6v1.4h-1.6zM639.7 100.0h1.6v1.4h-1.6zM637.0 98.0h1.6v1.4h-1.6zM655.5 96.0h1.6v1.4h-1.6zM648.3 98.9h1.6v1.4h-1.6zM637.7 97.5h1.6v1.4h-1.6zM651.4 97.8h1.6v1.4h-1.6zM651.9 96.4h1.6v1.4h-1.6zM641.8 96.3h1.6v1.4h-1.6zM647.3 100.6h1.6v1.4h-1.6zM649.1 99.6h1.6v1.4h-1.6zM644.8 99.9h1.6v1.4h-1.6zM639.0 97.1h1.6v1.4h-1.6zM650.8 99.2h1.6v1.4h-1.6zM645.6 96.2h1.6v1.4h-1.6zM642.4 96.8h1.6v1.4h-1.6z" fill="#e88966"/>
<path d="M636.3 100.4L639.8 102.2L642.8 102.9L643.8 104.7L644.4 102.9L647.7 102.5L652.6 100.8L656.6 98.8L660.5 96.3" fill="none" stroke="#000" stroke-width="1.4" stroke-linejoin="round"/>
<ellipse cx="643.3" cy="106.5" rx="1.5" ry="1.5" fill="#ecb07b" stroke="#000" stroke-width="0.7"/>
<path d="M659.7 98.0L662.0 97.0L662.7 99.8L662.3 103.3L661.0 101.3z" fill="#fff" stroke="#000" stroke-width="0.8" stroke-linejoin="round"/>
<path d="M648.5 105.9L650.7 106.5M659.5 106.2L660.1 108.3M642.6 111.4L643.2 112.0M646.2 109.7L648.3 111.4M650.7 111.9L652.2 111.4M654.4 110.2L655.0 110.8M656.6 112.6L658.9 111.8M652.4 114.4L653.2 115.0M644.3 117.3L644.7 119.1M658.1 111.4L658.7 113.0M641.3 126.0L642.8 124.9M643.8 123.9L646.2 122.5M647.2 122.0L649.2 120.5M652.6 120.5L655.1 119.5M656.1 119.0L659.0 117.5M647.7 127.4L649.2 128.4M647.2 130.8L648.7 131.4M651.6 124.9L653.2 125.4M650.2 119.0L650.9 121.5M650.9 121.5L651.8 123.4M651.3 119.3L652.4 122.7M649.2 122.5L651.6 121.0M649.9 123.9L652.6 122.7" stroke="#000" stroke-width="0.9" fill="none" stroke-linecap="round"/>
<path class="fr" d="M636.2 137.1V95.4H667.5"/>
<rect class="fr" x="485.5" y="19.1" width="182.2" height="117.8"/>
<g transform="translate(47.5 177.7)">
<g clip-path="url(#chc)"><g transform="scale(1.50)">
<path fill="#f9f3e6" d="M79 7h5.1v1.2h-5.1zM78 8h7.1v1.2h-7.1zM77 9h8.1v1.2h-8.1zM78 10h8.1v1.2h-8.1zM78 11h8.1v1.2h-8.1zM78 12h9.1v1.2h-9.1zM77 13h13.1v1.2h-13.1zM94 13h1.1v1.2h-1.1zM76 14h20.1v1.2h-20.1zM74 15h21.1v1.2h-21.1zM38 16h2.1v1.2h-2.1zM74 16h21.1v1.2h-21.1zM35 17h1.1v1.2h-1.1zM38 17h3.1v1.2h-3.1zM43 17h1.1v1.2h-1.1zM73 17h22.1v1.2h-22.1zM35 18h6.1v1.2h-6.1zM78 18h16.1v1.2h-16.1zM34 19h8.1v1.2h-8.1zM77 19h17.1v1.2h-17.1zM32 20h11.1v1.2h-11.1zM76 20h17.1v1.2h-17.1zM33 21h11.1v1.2h-11.1zM74 21h20.1v1.2h-20.1zM33 22h12.1v1.2h-12.1zM73 22h21.1v1.2h-21.1zM32 23h15.1v1.2h-15.1zM71 23h23.1v1.2h-23.1zM32 24h17.1v1.2h-17.1zM70 24h23.1v1.2h-23.1zM40 25h9.1v1.2h-9.1zM70 25h22.1v1.2h-22.1zM40 26h10.1v1.2h-10.1zM69 26h22.1v1.2h-22.1zM27 27h9.1v1.2h-9.1zM39 27h13.1v1.2h-13.1zM68 27h21.1v1.2h-21.1zM23 28h34.1v1.2h-34.1zM65 28h23.1v1.2h-23.1zM22 29h37.1v1.2h-37.1zM62 29h26.1v1.2h-26.1zM22 30h60.1v1.2h-60.1zM83 30h3.1v1.2h-3.1zM22 31h59.1v1.2h-59.1zM83 31h1.1v1.2h-1.1zM23 32h57.1v1.2h-57.1zM24 33h54.1v1.2h-54.1zM25 34h14.1v1.2h-14.1zM41 34h2.1v1.2h-2.1zM46 34h32.1v1.2h-32.1zM26 35h10.1v1.2h-10.1zM42 35h3.1v1.2h-3.1zM52 35h28.1v1.2h-28.1zM82 35h2.1v1.2h-2.1zM28 36h5.1v1.2h-5.1zM43 36h4.1v1.2h-4.1zM54 36h31.1v1.2h-31.1zM43 37h5.1v1.2h-5.1zM56 37h28.1v1.2h-28.1zM44 38h6.1v1.2h-6.1zM57 38h25.1v1.2h-25.1zM46 39h6.1v1.2h-6.1zM58 39h24.1v1.2h-24.1zM50 40h1.1v1.2h-1.1zM56 40h25.1v1.2h-25.1zM55 41h27.1v1.2h-27.1zM58 42h25.1v1.2h-25.1zM60 43h24.1v1.2h-24.1zM62 44h22.1v1.2h-22.1zM61 45h24.1v1.2h-24.1zM61 46h25.1v1.2h-25.1zM60 47h27.1v1.2h-27.1zM60 48h27.1v1.2h-27.1zM60 49h27.1v1.2h-27.1zM59 50h28.1v1.2h-28.1zM59 51h28.1v1.2h-28.1zM58 52h29.1v1.2h-29.1zM58 53h28.1v1.2h-28.1zM58 54h28.1v1.2h-28.1zM57 55h28.1v1.2h-28.1zM55 56h30.1v1.2h-30.1zM54 57h30.1v1.2h-30.1zM52 58h32.1v1.2h-32.1zM51 59h32.1v1.2h-32.1zM50 60h31.1v1.2h-31.1zM50 61h31.1v1.2h-31.1zM51 62h28.1v1.2h-28.1zM51 63h27.1v1.2h-27.1zM52 64h5.1v1.2h-5.1zM63 64h13.1v1.2h-13.1zM53 65h3.1v1.2h-3.1zM64 65h9.1v1.2h-9.1zM68 66h3.1v1.2h-3.1zM69 67h1.1v1.2h-1.1zM67 69h4.1v1.2h-4.1zM67 70h4.1v1.2h-4.1zM67 71h4.1v1.2h-4.1z"/>
<path fill="#f4e4c4" d="M79 7h5.1v1.2h-5.1zM78 8h7.1v1.2h-7.1zM77 9h8.1v1.2h-8.1zM78 10h8.1v1.2h-8.1zM78 11h8.1v1.2h-8.1zM78 12h7.1v1.2h-7.1zM86 12h1.1v1.2h-1.1zM77 13h7.1v1.2h-7.1zM86 13h4.1v1.2h-4.1zM94 13h1.1v1.2h-1.1zM76 14h20.1v1.2h-20.1zM74 15h21.1v1.2h-21.1zM38 16h2.1v1.2h-2.1zM74 16h21.1v1.2h-21.1zM35 17h1.1v1.2h-1.1zM38 17h3.1v1.2h-3.1zM43 17h1.1v1.2h-1.1zM73 17h13.1v1.2h-13.1zM87 17h8.1v1.2h-8.1zM35 18h6.1v1.2h-6.1zM78 18h8.1v1.2h-8.1zM88 18h6.1v1.2h-6.1zM34 19h8.1v1.2h-8.1zM77 19h9.1v1.2h-9.1zM87 19h7.1v1.2h-7.1zM32 20h11.1v1.2h-11.1zM76 20h8.1v1.2h-8.1zM86 20h7.1v1.2h-7.1zM33 21h11.1v1.2h-11.1zM74 21h8.1v1.2h-8.1zM86 21h7.1v1.2h-7.1zM33 22h12.1v1.2h-12.1zM73 22h21.1v1.2h-21.1zM32 23h15.1v1.2h-15.1zM71 23h15.1v1.2h-15.1zM87 23h7.1v1.2h-7.1zM32 24h17.1v1.2h-17.1zM70 24h12.1v1.2h-12.1zM83 24h2.1v1.2h-2.1zM88 24h5.1v1.2h-5.1zM40 25h9.1v1.2h-9.1zM70 25h10.1v1.2h-10.1zM84 25h8.1v1.2h-8.1zM40 26h10.1v1.2h-10.1zM69 26h11.1v1.2h-11.1zM85 26h3.1v1.2h-3.1zM89 26h2.1v1.2h-2.1zM27 27h9.1v1.2h-9.1zM39 27h13.1v1.2h-13.1zM68 27h2.1v1.2h-2.1zM71 27h15.1v1.2h-15.1zM23 28h34.1v1.2h-34.1zM65 28h4.1v1.2h-4.1zM71 28h15.1v1.2h-15.1zM22 29h37.1v1.2h-37.1zM62 29h7.1v1.2h-7.1zM70 29h14.1v1.2h-14.1zM22 30h47.1v1.2h-47.1zM70 30h12.1v1.2h-12.1zM83 30h1.1v1.2h-1.1zM22 31h32.1v1.2h-32.1zM56 31h25.1v1.2h-25.1zM83 31h1.1v1.2h-1.1zM23 32h28.1v1.2h-28.1zM53 32h2.1v1.2h-2.1zM57 32h23.1v1.2h-23.1zM24 33h27.1v1.2h-27.1zM53 33h3.1v1.2h-3.1zM57 33h21.1v1.2h-21.1zM25 34h14.1v1.2h-14.1zM41 34h2.1v1.2h-2.1zM46 34h5.1v1.2h-5.1zM53 34h3.1v1.2h-3.1zM59 34h19.1v1.2h-19.1zM26 35h10.1v1.2h-10.1zM42 35h3.1v1.2h-3.1zM53 35h2.1v1.2h-2.1zM58 35h6.1v1.2h-6.1zM65 35h2.1v1.2h-2.1zM70 35h8.1v1.2h-8.1zM28 36h5.1v1.2h-5.1zM43 36h4.1v1.2h-4.1zM54 36h2.1v1.2h-2.1zM60 36h4.1v1.2h-4.1zM70 36h10.1v1.2h-10.1zM83 36h2.1v1.2h-2.1zM43 37h5.1v1.2h-5.1zM61 37h4.1v1.2h-4.1zM69 37h11.1v1.2h-11.1zM83 37h1.1v1.2h-1.1zM44 38h6.1v1.2h-6.1zM60 38h7.1v1.2h-7.1zM70 38h8.1v1.2h-8.1zM46 39h6.1v1.2h-6.1zM61 39h6.1v1.2h-6.1zM69 39h7.1v1.2h-7.1zM81 39h1.1v1.2h-1.1zM50 40h1.1v1.2h-1.1zM56 40h3.1v1.2h-3.1zM61 40h6.1v1.2h-6.1zM68 40h6.1v1.2h-6.1zM75 40h2.1v1.2h-2.1zM55 41h19.1v1.2h-19.1zM75 41h2.1v1.2h-2.1zM80 41h2.1v1.2h-2.1zM58 42h19.1v1.2h-19.1zM80 42h3.1v1.2h-3.1zM60 43h13.1v1.2h-13.1zM78 43h6.1v1.2h-6.1zM62 44h7.1v1.2h-7.1zM77 44h7.1v1.2h-7.1zM61 45h7.1v1.2h-7.1zM76 45h9.1v1.2h-9.1zM61 46h5.1v1.2h-5.1zM67 46h1.1v1.2h-1.1zM78 46h2.1v1.2h-2.1zM82 46h4.1v1.2h-4.1zM61 47h8.1v1.2h-8.1zM71 47h3.1v1.2h-3.1zM82 47h5.1v1.2h-5.1zM62 48h6.1v1.2h-6.1zM70 48h6.1v1.2h-6.1zM82 48h5.1v1.2h-5.1zM62 49h2.1v1.2h-2.1zM65 49h5.1v1.2h-5.1zM71 49h4.1v1.2h-4.1zM81 49h6.1v1.2h-6.1zM61 50h3.1v1.2h-3.1zM65 50h5.1v1.2h-5.1zM74 50h1.1v1.2h-1.1zM76 50h1.1v1.2h-1.1zM81 50h4.1v1.2h-4.1zM86 50h1.1v1.2h-1.1zM59 51h11.1v1.2h-11.1zM74 51h2.1v1.2h-2.1zM81 51h2.1v1.2h-2.1zM85 51h1.1v1.2h-1.1zM58 52h12.1v1.2h-12.1zM73 52h3.1v1.2h-3.1zM80 52h2.1v1.2h-2.1zM83 52h1.1v1.2h-1.1zM58 53h8.1v1.2h-8.1zM67 53h4.1v1.2h-4.1zM72 53h2.1v1.2h-2.1zM77 53h1.1v1.2h-1.1zM79 53h6.1v1.2h-6.1zM58 54h13.1v1.2h-13.1zM74 54h3.1v1.2h-3.1zM80 54h1.1v1.2h-1.1zM83 54h3.1v1.2h-3.1zM57 55h14.1v1.2h-14.1zM75 55h3.1v1.2h-3.1zM80 55h1.1v1.2h-1.1zM83 55h2.1v1.2h-2.1zM55 56h9.1v1.2h-9.1zM66 56h4.1v1.2h-4.1zM73 56h1.1v1.2h-1.1zM75 56h1.1v1.2h-1.1zM79 56h3.1v1.2h-3.1zM83 56h2.1v1.2h-2.1zM54 57h9.1v1.2h-9.1zM64 57h3.1v1.2h-3.1zM71 57h2.1v1.2h-2.1zM80 57h3.1v1.2h-3.1zM52 58h12.1v1.2h-12.1zM65 58h1.1v1.2h-1.1zM70 58h3.1v1.2h-3.1zM80 58h4.1v1.2h-4.1zM51 59h12.1v1.2h-12.1zM66 59h2.1v1.2h-2.1zM72 59h8.1v1.2h-8.1zM50 60h13.1v1.2h-13.1zM66 60h1.1v1.2h-1.1zM71 60h9.1v1.2h-9.1zM50 61h13.1v1.2h-13.1zM67 61h2.1v1.2h-2.1zM70 61h10.1v1.2h-10.1zM51 62h13.1v1.2h-13.1zM69 62h3.1v1.2h-3.1zM73 62h1.1v1.2h-1.1zM75 62h1.1v1.2h-1.1zM77 62h1.1v1.2h-1.1zM51 63h14.1v1.2h-14.1zM68 63h3.1v1.2h-3.1zM77 63h1.1v1.2h-1.1zM52 64h5.1v1.2h-5.1zM63 64h3.1v1.2h-3.1zM67 64h3.1v1.2h-3.1zM75 64h1.1v1.2h-1.1zM53 65h3.1v1.2h-3.1zM64 65h7.1v1.2h-7.1zM68 66h2.1v1.2h-2.1zM67 69h4.1v1.2h-4.1zM67 70h1.1v1.2h-1.1zM69 70h1.1v1.2h-1.1zM68 71h1.1v1.2h-1.1z"/>
<path fill="#efd4a3" d="M79 7h4.1v1.2h-4.1zM78 8h5.1v1.2h-5.1zM77 9h6.1v1.2h-6.1zM78 10h5.1v1.2h-5.1zM78 11h6.1v1.2h-6.1zM78 12h5.1v1.2h-5.1zM77 13h6.1v1.2h-6.1zM94 13h1.1v1.2h-1.1zM76 14h7.1v1.2h-7.1zM91 14h4.1v1.2h-4.1zM75 15h8.1v1.2h-8.1zM90 15h4.1v1.2h-4.1zM76 16h6.1v1.2h-6.1zM90 16h4.1v1.2h-4.1zM75 17h7.1v1.2h-7.1zM89 17h5.1v1.2h-5.1zM78 18h4.1v1.2h-4.1zM89 18h4.1v1.2h-4.1zM77 19h4.1v1.2h-4.1zM89 19h4.1v1.2h-4.1zM32 20h7.1v1.2h-7.1zM76 20h5.1v1.2h-5.1zM88 20h4.1v1.2h-4.1zM33 21h11.1v1.2h-11.1zM75 21h5.1v1.2h-5.1zM88 21h3.1v1.2h-3.1zM33 22h12.1v1.2h-12.1zM74 22h6.1v1.2h-6.1zM88 22h2.1v1.2h-2.1zM32 23h15.1v1.2h-15.1zM74 23h6.1v1.2h-6.1zM32 24h15.1v1.2h-15.1zM74 24h5.1v1.2h-5.1zM40 25h8.1v1.2h-8.1zM73 25h6.1v1.2h-6.1zM40 26h9.1v1.2h-9.1zM73 26h6.1v1.2h-6.1zM29 27h7.1v1.2h-7.1zM39 27h12.1v1.2h-12.1zM73 27h5.1v1.2h-5.1zM23 28h3.1v1.2h-3.1zM27 28h25.1v1.2h-25.1zM73 28h5.1v1.2h-5.1zM22 29h2.1v1.2h-2.1zM25 29h27.1v1.2h-27.1zM73 29h5.1v1.2h-5.1zM26 30h26.1v1.2h-26.1zM72 30h6.1v1.2h-6.1zM25 31h10.1v1.2h-10.1zM37 31h7.1v1.2h-7.1zM47 31h4.1v1.2h-4.1zM71 31h6.1v1.2h-6.1zM24 32h11.1v1.2h-11.1zM37 32h8.1v1.2h-8.1zM49 32h1.1v1.2h-1.1zM65 32h12.1v1.2h-12.1zM26 33h6.1v1.2h-6.1zM36 33h4.1v1.2h-4.1zM41 33h7.1v1.2h-7.1zM63 33h13.1v1.2h-13.1zM28 34h4.1v1.2h-4.1zM35 34h4.1v1.2h-4.1zM41 34h2.1v1.2h-2.1zM46 34h1.1v1.2h-1.1zM63 34h4.1v1.2h-4.1zM72 34h3.1v1.2h-3.1zM26 35h3.1v1.2h-3.1zM30 35h1.1v1.2h-1.1zM35 35h1.1v1.2h-1.1zM42 35h3.1v1.2h-3.1zM72 35h3.1v1.2h-3.1zM43 36h4.1v1.2h-4.1zM71 36h3.1v1.2h-3.1zM43 37h5.1v1.2h-5.1zM71 37h2.1v1.2h-2.1zM44 38h6.1v1.2h-6.1zM63 38h2.1v1.2h-2.1zM46 39h6.1v1.2h-6.1zM62 39h3.1v1.2h-3.1zM50 40h1.1v1.2h-1.1zM56 40h3.1v1.2h-3.1zM62 40h4.1v1.2h-4.1zM55 41h6.1v1.2h-6.1zM62 41h4.1v1.2h-4.1zM58 42h8.1v1.2h-8.1zM60 43h6.1v1.2h-6.1zM63 44h2.1v1.2h-2.1zM58 54h2.1v1.2h-2.1zM57 55h4.1v1.2h-4.1zM55 56h7.1v1.2h-7.1zM54 57h8.1v1.2h-8.1zM52 58h10.1v1.2h-10.1zM51 59h11.1v1.2h-11.1zM50 60h12.1v1.2h-12.1zM50 61h12.1v1.2h-12.1zM51 62h11.1v1.2h-11.1zM51 63h10.1v1.2h-10.1zM52 64h5.1v1.2h-5.1zM53 65h3.1v1.2h-3.1z"/>
<path fill="#eebd83" d="M79 7h1.1v1.2h-1.1zM78 8h3.1v1.2h-3.1zM78 9h4.1v1.2h-4.1zM78 10h4.1v1.2h-4.1zM78 11h4.1v1.2h-4.1zM78 12h4.1v1.2h-4.1zM77 13h5.1v1.2h-5.1zM76 14h6.1v1.2h-6.1zM76 15h6.1v1.2h-6.1zM91 15h2.1v1.2h-2.1zM76 16h6.1v1.2h-6.1zM91 16h2.1v1.2h-2.1zM76 17h5.1v1.2h-5.1zM90 17h3.1v1.2h-3.1zM78 18h3.1v1.2h-3.1zM90 18h2.1v1.2h-2.1zM77 19h4.1v1.2h-4.1zM90 19h2.1v1.2h-2.1zM76 20h4.1v1.2h-4.1zM75 21h5.1v1.2h-5.1zM33 22h7.1v1.2h-7.1zM75 22h4.1v1.2h-4.1zM32 23h11.1v1.2h-11.1zM75 23h4.1v1.2h-4.1zM32 24h13.1v1.2h-13.1zM74 24h5.1v1.2h-5.1zM40 25h6.1v1.2h-6.1zM74 25h4.1v1.2h-4.1zM40 26h7.1v1.2h-7.1zM74 26h4.1v1.2h-4.1zM32 27h3.1v1.2h-3.1zM39 27h12.1v1.2h-12.1zM74 27h4.1v1.2h-4.1zM23 28h1.1v1.2h-1.1zM33 28h1.1v1.2h-1.1zM38 28h13.1v1.2h-13.1zM73 28h4.1v1.2h-4.1zM31 29h1.1v1.2h-1.1zM33 29h1.1v1.2h-1.1zM37 29h15.1v1.2h-15.1zM73 29h4.1v1.2h-4.1zM31 30h3.1v1.2h-3.1zM37 30h3.1v1.2h-3.1zM41 30h3.1v1.2h-3.1zM47 30h5.1v1.2h-5.1zM73 30h4.1v1.2h-4.1zM26 31h1.1v1.2h-1.1zM28 31h1.1v1.2h-1.1zM32 31h2.1v1.2h-2.1zM38 31h3.1v1.2h-3.1zM42 31h1.1v1.2h-1.1zM48 31h3.1v1.2h-3.1zM72 31h4.1v1.2h-4.1zM26 32h3.1v1.2h-3.1zM32 32h3.1v1.2h-3.1zM38 32h3.1v1.2h-3.1zM43 32h1.1v1.2h-1.1zM67 32h9.1v1.2h-9.1zM28 33h3.1v1.2h-3.1zM65 33h4.1v1.2h-4.1zM72 33h3.1v1.2h-3.1zM28 34h2.1v1.2h-2.1zM41 34h2.1v1.2h-2.1zM42 35h3.1v1.2h-3.1zM43 36h4.1v1.2h-4.1zM43 37h5.1v1.2h-5.1zM44 38h6.1v1.2h-6.1zM46 39h6.1v1.2h-6.1zM50 40h1.1v1.2h-1.1zM56 40h3.1v1.2h-3.1zM63 40h1.1v1.2h-1.1zM55 41h6.1v1.2h-6.1zM63 41h2.1v1.2h-2.1zM58 42h4.1v1.2h-4.1zM63 42h2.1v1.2h-2.1zM60 43h4.1v1.2h-4.1zM57 55h3.1v1.2h-3.1zM55 56h6.1v1.2h-6.1zM54 57h7.1v1.2h-7.1zM52 58h10.1v1.2h-10.1zM51 59h10.1v1.2h-10.1zM50 60h11.1v1.2h-11.1zM50 61h11.1v1.2h-11.1zM51 62h9.1v1.2h-9.1zM51 63h8.1v1.2h-8.1zM52 64h5.1v1.2h-5.1zM53 65h3.1v1.2h-3.1z"/>
<path fill="#eba273" d="M80 9h1.1v1.2h-1.1zM79 10h2.1v1.2h-2.1zM78 11h4.1v1.2h-4.1zM78 12h4.1v1.2h-4.1zM77 13h5.1v1.2h-5.1zM77 14h4.1v1.2h-4.1zM77 15h4.1v1.2h-4.1zM77 16h4.1v1.2h-4.1zM77 17h4.1v1.2h-4.1zM91 17h1.1v1.2h-1.1zM78 18h3.1v1.2h-3.1zM77 19h3.1v1.2h-3.1zM76 20h4.1v1.2h-4.1zM76 21h3.1v1.2h-3.1zM75 22h4.1v1.2h-4.1zM75 23h3.1v1.2h-3.1zM36 24h6.1v1.2h-6.1zM75 24h3.1v1.2h-3.1zM40 25h4.1v1.2h-4.1zM75 25h3.1v1.2h-3.1zM40 26h6.1v1.2h-6.1zM74 26h4.1v1.2h-4.1zM32 27h3.1v1.2h-3.1zM39 27h7.1v1.2h-7.1zM47 27h1.1v1.2h-1.1zM74 27h3.1v1.2h-3.1zM38 28h2.1v1.2h-2.1zM41 28h10.1v1.2h-10.1zM74 28h3.1v1.2h-3.1zM42 29h2.1v1.2h-2.1zM47 29h4.1v1.2h-4.1zM74 29h2.1v1.2h-2.1zM32 30h2.1v1.2h-2.1zM38 30h2.1v1.2h-2.1zM48 30h3.1v1.2h-3.1zM74 30h2.1v1.2h-2.1zM32 31h2.1v1.2h-2.1zM38 31h1.1v1.2h-1.1zM48 31h2.1v1.2h-2.1zM73 31h3.1v1.2h-3.1zM27 32h1.1v1.2h-1.1zM72 32h3.1v1.2h-3.1zM41 34h2.1v1.2h-2.1zM42 35h3.1v1.2h-3.1zM43 36h4.1v1.2h-4.1zM43 37h5.1v1.2h-5.1zM44 38h6.1v1.2h-6.1zM46 39h6.1v1.2h-6.1zM50 40h1.1v1.2h-1.1zM56 40h3.1v1.2h-3.1zM55 41h6.1v1.2h-6.1zM58 42h4.1v1.2h-4.1zM60 43h3.1v1.2h-3.1zM57 55h2.1v1.2h-2.1zM55 56h5.1v1.2h-5.1zM54 57h7.1v1.2h-7.1zM52 58h9.1v1.2h-9.1zM51 59h10.1v1.2h-10.1zM50 60h11.1v1.2h-11.1zM50 61h11.1v1.2h-11.1zM51 62h9.1v1.2h-9.1zM51 63h7.1v1.2h-7.1zM52 64h5.1v1.2h-5.1zM53 65h3.1v1.2h-3.1z"/>
<path fill="#e5705a" d="M79 11h2.1v1.2h-2.1zM78 12h3.1v1.2h-3.1zM78 13h3.1v1.2h-3.1zM78 14h3.1v1.2h-3.1zM78 15h3.1v1.2h-3.1zM77 16h4.1v1.2h-4.1zM77 17h3.1v1.2h-3.1zM78 18h2.1v1.2h-2.1zM77 19h3.1v1.2h-3.1zM77 20h2.1v1.2h-2.1zM76 21h3.1v1.2h-3.1zM76 22h2.1v1.2h-2.1zM76 23h2.1v1.2h-2.1zM39 24h1.1v1.2h-1.1zM75 24h3.1v1.2h-3.1zM40 25h2.1v1.2h-2.1zM75 25h2.1v1.2h-2.1zM40 26h3.1v1.2h-3.1zM45 26h1.1v1.2h-1.1zM75 26h2.1v1.2h-2.1zM32 27h3.1v1.2h-3.1zM39 27h2.1v1.2h-2.1zM43 27h2.1v1.2h-2.1zM47 27h1.1v1.2h-1.1zM75 27h1.1v1.2h-1.1zM48 28h3.1v1.2h-3.1zM75 28h1.1v1.2h-1.1zM48 29h3.1v1.2h-3.1zM48 30h3.1v1.2h-3.1zM49 31h1.1v1.2h-1.1zM74 31h1.1v1.2h-1.1zM41 34h2.1v1.2h-2.1zM42 35h3.1v1.2h-3.1zM43 36h4.1v1.2h-4.1zM43 37h5.1v1.2h-5.1zM44 38h6.1v1.2h-6.1zM46 39h6.1v1.2h-6.1zM50 40h1.1v1.2h-1.1zM56 40h3.1v1.2h-3.1zM55 41h6.1v1.2h-6.1zM58 42h4.1v1.2h-4.1zM60 43h3.1v1.2h-3.1zM55 56h4.1v1.2h-4.1zM54 57h6.1v1.2h-6.1zM52 58h9.1v1.2h-9.1zM51 59h10.1v1.2h-10.1zM51 60h9.1v1.2h-9.1zM51 61h9.1v1.2h-9.1zM51 62h8.1v1.2h-8.1zM52 63h5.1v1.2h-5.1zM52 64h4.1v1.2h-4.1z"/>
<path fill="#dc4b3f" d="M79 12h1.1v1.2h-1.1zM79 13h1.1v1.2h-1.1zM79 14h1.1v1.2h-1.1zM78 15h2.1v1.2h-2.1zM78 16h2.1v1.2h-2.1zM78 17h2.1v1.2h-2.1zM78 18h1.1v1.2h-1.1zM77 19h2.1v1.2h-2.1zM77 20h2.1v1.2h-2.1zM77 21h1.1v1.2h-1.1zM76 22h2.1v1.2h-2.1zM76 23h1.1v1.2h-1.1zM76 24h1.1v1.2h-1.1zM76 25h1.1v1.2h-1.1zM45 26h1.1v1.2h-1.1zM32 27h3.1v1.2h-3.1zM47 27h1.1v1.2h-1.1zM49 28h1.1v1.2h-1.1zM48 29h3.1v1.2h-3.1zM48 30h3.1v1.2h-3.1zM41 34h2.1v1.2h-2.1zM42 35h3.1v1.2h-3.1zM43 36h4.1v1.2h-4.1zM43 37h5.1v1.2h-5.1zM44 38h6.1v1.2h-6.1zM46 39h6.1v1.2h-6.1zM50 40h1.1v1.2h-1.1zM56 40h3.1v1.2h-3.1zM55 41h6.1v1.2h-6.1zM58 42h4.1v1.2h-4.1zM60 43h3.1v1.2h-3.1zM55 56h4.1v1.2h-4.1zM54 57h6.1v1.2h-6.1zM53 58h7.1v1.2h-7.1zM52 59h8.1v1.2h-8.1zM52 60h8.1v1.2h-8.1zM52 61h8.1v1.2h-8.1zM52 62h6.1v1.2h-6.1zM52 63h4.1v1.2h-4.1zM53 64h2.1v1.2h-2.1z"/>
<path fill="#cd2a22" d="M45 26h1.1v1.2h-1.1zM32 27h3.1v1.2h-3.1zM47 27h1.1v1.2h-1.1zM49 28h1.1v1.2h-1.1zM48 29h3.1v1.2h-3.1zM48 30h3.1v1.2h-3.1zM41 34h2.1v1.2h-2.1zM42 35h3.1v1.2h-3.1zM43 36h4.1v1.2h-4.1zM43 37h5.1v1.2h-5.1zM44 38h6.1v1.2h-6.1zM46 39h6.1v1.2h-6.1zM50 40h1.1v1.2h-1.1zM56 40h3.1v1.2h-3.1zM55 41h6.1v1.2h-6.1zM58 42h4.1v1.2h-4.1zM60 43h3.1v1.2h-3.1zM57 56h2.1v1.2h-2.1zM55 57h5.1v1.2h-5.1zM54 58h6.1v1.2h-6.1zM53 59h7.1v1.2h-7.1zM53 60h7.1v1.2h-7.1zM53 61h6.1v1.2h-6.1zM53 62h4.1v1.2h-4.1zM53 63h3.1v1.2h-3.1z"/>
<path fill="#b31b17" d="M32 27h2.1v1.2h-2.1zM47 27h1.1v1.2h-1.1zM49 29h1.1v1.2h-1.1zM49 30h1.1v1.2h-1.1zM41 34h2.1v1.2h-2.1zM42 35h3.1v1.2h-3.1zM43 36h4.1v1.2h-4.1zM43 37h5.1v1.2h-5.1zM44 38h6.1v1.2h-6.1zM46 39h6.1v1.2h-6.1zM50 40h1.1v1.2h-1.1zM56 40h3.1v1.2h-3.1zM55 41h6.1v1.2h-6.1zM58 42h4.1v1.2h-4.1zM60 43h3.1v1.2h-3.1zM55 57h4.1v1.2h-4.1zM54 58h6.1v1.2h-6.1zM54 59h6.1v1.2h-6.1zM54 60h6.1v1.2h-6.1zM54 61h5.1v1.2h-5.1zM54 62h2.1v1.2h-2.1z"/>
<path fill="#941310" d="M47 27h1.1v1.2h-1.1zM49 29h1.1v1.2h-1.1zM49 30h1.1v1.2h-1.1zM42 34h1.1v1.2h-1.1zM43 35h2.1v1.2h-2.1zM43 36h4.1v1.2h-4.1zM43 37h5.1v1.2h-5.1zM44 38h4.1v1.2h-4.1zM49 38h1.1v1.2h-1.1zM46 39h2.1v1.2h-2.1zM49 39h3.1v1.2h-3.1zM50 40h1.1v1.2h-1.1zM57 40h2.1v1.2h-2.1zM55 41h1.1v1.2h-1.1zM57 41h4.1v1.2h-4.1zM58 42h4.1v1.2h-4.1zM60 43h3.1v1.2h-3.1zM56 57h3.1v1.2h-3.1zM55 58h4.1v1.2h-4.1zM54 59h6.1v1.2h-6.1zM54 60h5.1v1.2h-5.1zM54 61h4.1v1.2h-4.1z"/>
<path fill="#7b0f0c" d="M49 29h1.1v1.2h-1.1zM43 35h2.1v1.2h-2.1zM43 36h1.1v1.2h-1.1zM44 38h3.1v1.2h-3.1zM46 39h1.1v1.2h-1.1zM50 39h1.1v1.2h-1.1zM50 40h1.1v1.2h-1.1zM56 57h3.1v1.2h-3.1zM55 58h4.1v1.2h-4.1zM55 59h4.1v1.2h-4.1zM55 60h4.1v1.2h-4.1zM55 61h3.1v1.2h-3.1z"/>
</g>
<path d="M44.3 40.2h1.3v1.3h-1.3zM42.1 40.4h1.3v1.3h-1.3zM39.1 40.8h1.3v1.3h-1.3zM37.0 41.4h1.3v1.3h-1.3zM33.7 42.3h1.3v1.3h-1.3zM32.4 44.4h1.3v1.3h-1.3zM34.1 48.7h1.3v1.3h-1.3zM35.5 50.4h1.3v1.3h-1.3zM37.6 52.1h1.3v1.3h-1.3zM40.8 53.7h1.3v1.3h-1.3zM42.6 54.3h1.3v1.3h-1.3zM44.7 55.0h1.3v1.3h-1.3zM46.6 54.4h1.3v1.3h-1.3zM49.5 53.7h1.3v1.3h-1.3zM51.9 52.9h1.3v1.3h-1.3zM54.3 52.1h1.3v1.3h-1.3zM56.3 51.4h1.3v1.3h-1.3zM58.8 51.1h1.3v1.3h-1.3zM63.3 50.8h1.3v1.3h-1.3zM65.6 51.1h1.3v1.3h-1.3zM68.4 50.8h1.3v1.3h-1.3zM47.3 35.3h1.3v1.3h-1.3zM66.0 29.6h1.3v1.3h-1.3zM62.8 28.1h1.3v1.3h-1.3zM61.4 26.8h1.3v1.3h-1.3zM59.1 24.2h1.3v1.3h-1.3z" fill="#8f1410"/>
</g>
<use href="#chj" fill="none" stroke="#000" stroke-width="1.1" stroke-linejoin="round"/>
<use href="#cst" fill="none" stroke="#000" stroke-width="1.7" stroke-linejoin="round"/>
<ellipse cx="103.4" cy="105.7" rx="2.9" ry="2.8" fill="none" stroke="#000" stroke-width="0.9"/>
<use href="#sea"/>
</g>
<rect x="198.2" y="254.0" width="31.3" height="41.7" fill="#fff"/>
<path d="M198.3 254.1L198.3 259.0L201.8 260.8L204.8 261.5L205.8 263.3L206.4 261.5L209.7 261.1L214.6 259.4L218.6 257.4L222.5 254.9L222.5 254.1z" fill="#f7edd8"/>
<path d="M210.7 256.5h1.6v1.4h-1.6zM210.8 255.3h1.6v1.4h-1.6zM215.7 258.0h1.6v1.4h-1.6zM212.4 255.1h1.6v1.4h-1.6zM209.6 256.0h1.6v1.4h-1.6zM204.0 259.3h1.6v1.4h-1.6zM219.5 254.4h1.6v1.4h-1.6zM216.7 256.9h1.6v1.4h-1.6zM206.8 255.9h1.6v1.4h-1.6zM212.8 256.5h1.6v1.4h-1.6zM213.1 257.5h1.6v1.4h-1.6zM201.6 258.1h1.6v1.4h-1.6zM219.2 258.3h1.6v1.4h-1.6zM211.6 254.5h1.6v1.4h-1.6zM199.0 254.9h1.6v1.4h-1.6zM218.3 255.5h1.6v1.4h-1.6z" fill="#f5e7cb"/>
<path d="M198.3 259.0L201.8 260.8L204.8 261.5L205.8 263.3L206.4 261.5L209.7 261.1L214.6 259.4L218.6 257.4L222.5 254.9" fill="none" stroke="#000" stroke-width="1.4" stroke-linejoin="round"/>
<ellipse cx="205.3" cy="265.1" rx="1.5" ry="1.5" fill="#fff" stroke="#000" stroke-width="0.7"/>
<path d="M221.7 256.6L224.0 255.6L224.7 258.4L224.3 261.9L223.0 259.9z" fill="#fff" stroke="#000" stroke-width="0.8" stroke-linejoin="round"/>
<path d="M210.5 264.5L212.7 265.1M221.5 264.8L222.1 266.9M204.6 270.0L205.2 270.6M208.2 268.3L210.3 270.0M212.7 270.5L214.2 270.0M216.4 268.8L217.0 269.4M218.6 271.2L220.9 270.4M214.4 273.0L215.2 273.6M206.3 275.9L206.7 277.7M220.1 270.0L220.7 271.6M203.3 284.6L204.8 283.5M205.8 282.5L208.2 281.1M209.2 280.6L211.2 279.1M214.6 279.1L217.1 278.1M218.1 277.6L221.0 276.1M209.7 286.0L211.2 287.0M209.2 289.4L210.7 290.0M213.6 283.5L215.2 284.0M212.2 277.6L212.9 280.1M212.9 280.1L213.8 282.0M213.3 277.9L214.4 281.3M211.2 281.1L213.6 279.6M211.9 282.5L214.6 281.3" stroke="#000" stroke-width="0.9" fill="none" stroke-linecap="round"/>
<path class="fr" d="M198.2 295.7V254.0H229.5"/>
<rect class="fr" x="47.5" y="177.7" width="182.2" height="117.7"/>
<g transform="translate(266.5 177.7)">
<g clip-path="url(#chc)"><g transform="scale(1.50)">
<path fill="#f4e4c4" d="M79 7h5.1v1.2h-5.1zM78 8h7.1v1.2h-7.1zM77 9h8.1v1.2h-8.1zM78 10h8.1v1.2h-8.1zM78 11h8.1v1.2h-8.1zM78 12h9.1v1.2h-9.1zM77 13h13.1v1.2h-13.1zM94 13h1.1v1.2h-1.1zM76 14h20.1v1.2h-20.1zM74 15h21.1v1.2h-21.1zM38 16h2.1v1.2h-2.1zM74 16h21.1v1.2h-21.1zM35 17h1.1v1.2h-1.1zM38 17h3.1v1.2h-3.1zM43 17h1.1v1.2h-1.1zM73 17h22.1v1.2h-22.1zM35 18h6.1v1.2h-6.1zM78 18h16.1v1.2h-16.1zM34 19h8.1v1.2h-8.1zM77 19h17.1v1.2h-17.1zM32 20h11.1v1.2h-11.1zM76 20h17.1v1.2h-17.1zM33 21h11.1v1.2h-11.1zM74 21h20.1v1.2h-20.1zM33 22h12.1v1.2h-12.1zM73 22h21.1v1.2h-21.1zM32 23h15.1v1.2h-15.1zM71 23h23.1v1.2h-23.1zM32 24h17.1v1.2h-17.1zM70 24h23.1v1.2h-23.1zM40 25h9.1v1.2h-9.1zM70 25h22.1v1.2h-22.1zM40 26h10.1v1.2h-10.1zM69 26h22.1v1.2h-22.1zM27 27h9.1v1.2h-9.1zM39 27h13.1v1.2h-13.1zM68 27h21.1v1.2h-21.1zM23 28h34.1v1.2h-34.1zM65 28h23.1v1.2h-23.1zM22 29h37.1v1.2h-37.1zM62 29h26.1v1.2h-26.1zM22 30h60.1v1.2h-60.1zM83 30h3.1v1.2h-3.1zM22 31h59.1v1.2h-59.1zM83 31h1.1v1.2h-1.1zM23 32h57.1v1.2h-57.1zM24 33h54.1v1.2h-54.1zM25 34h14.1v1.2h-14.1zM41 34h2.1v1.2h-2.1zM46 34h32.1v1.2h-32.1zM26 35h10.1v1.2h-10.1zM42 35h3.1v1.2h-3.1zM52 35h28.1v1.2h-28.1zM82 35h2.1v1.2h-2.1zM28 36h5.1v1.2h-5.1zM43 36h4.1v1.2h-4.1zM54 36h31.1v1.2h-31.1zM43 37h5.1v1.2h-5.1zM56 37h28.1v1.2h-28.1zM44 38h6.1v1.2h-6.1zM57 38h25.1v1.2h-25.1zM46 39h6.1v1.2h-6.1zM58 39h24.1v1.2h-24.1zM50 40h1.1v1.2h-1.1zM56 40h25.1v1.2h-25.1zM55 41h27.1v1.2h-27.1zM58 42h25.1v1.2h-25.1zM60 43h24.1v1.2h-24.1zM62 44h22.1v1.2h-22.1zM61 45h24.1v1.2h-24.1zM61 46h25.1v1.2h-25.1zM60 47h27.1v1.2h-27.1zM60 48h27.1v1.2h-27.1zM60 49h27.1v1.2h-27.1zM59 50h28.1v1.2h-28.1zM59 51h28.1v1.2h-28.1zM58 52h29.1v1.2h-29.1zM58 53h28.1v1.2h-28.1zM58 54h28.1v1.2h-28.1zM57 55h28.1v1.2h-28.1zM55 56h30.1v1.2h-30.1zM54 57h30.1v1.2h-30.1zM52 58h32.1v1.2h-32.1zM51 59h32.1v1.2h-32.1zM50 60h31.1v1.2h-31.1zM50 61h31.1v1.2h-31.1zM51 62h28.1v1.2h-28.1zM51 63h27.1v1.2h-27.1zM52 64h5.1v1.2h-5.1zM63 64h13.1v1.2h-13.1zM53 65h3.1v1.2h-3.1zM64 65h9.1v1.2h-9.1zM68 66h3.1v1.2h-3.1zM69 67h1.1v1.2h-1.1zM67 69h4.1v1.2h-4.1zM67 70h4.1v1.2h-4.1zM67 71h4.1v1.2h-4.1z"/>
<path fill="#efd4a3" d="M79 7h5.1v1.2h-5.1zM78 8h7.1v1.2h-7.1zM77 9h8.1v1.2h-8.1zM78 10h8.1v1.2h-8.1zM78 11h8.1v1.2h-8.1zM78 12h9.1v1.2h-9.1zM77 13h13.1v1.2h-13.1zM94 13h1.1v1.2h-1.1zM76 14h20.1v1.2h-20.1zM74 15h21.1v1.2h-21.1zM38 16h2.1v1.2h-2.1zM74 16h21.1v1.2h-21.1zM35 17h1.1v1.2h-1.1zM38 17h3.1v1.2h-3.1zM43 17h1.1v1.2h-1.1zM73 17h22.1v1.2h-22.1zM36 18h5.1v1.2h-5.1zM78 18h16.1v1.2h-16.1zM38 19h4.1v1.2h-4.1zM77 19h17.1v1.2h-17.1zM32 20h11.1v1.2h-11.1zM76 20h17.1v1.2h-17.1zM33 21h11.1v1.2h-11.1zM74 21h20.1v1.2h-20.1zM33 22h12.1v1.2h-12.1zM73 22h21.1v1.2h-21.1zM32 23h15.1v1.2h-15.1zM71 23h23.1v1.2h-23.1zM32 24h17.1v1.2h-17.1zM70 24h23.1v1.2h-23.1zM40 25h9.1v1.2h-9.1zM70 25h22.1v1.2h-22.1zM40 26h10.1v1.2h-10.1zM69 26h22.1v1.2h-22.1zM27 27h9.1v1.2h-9.1zM39 27h13.1v1.2h-13.1zM68 27h21.1v1.2h-21.1zM23 28h34.1v1.2h-34.1zM65 28h23.1v1.2h-23.1zM22 29h37.1v1.2h-37.1zM62 29h26.1v1.2h-26.1zM22 30h60.1v1.2h-60.1zM83 30h3.1v1.2h-3.1zM22 31h59.1v1.2h-59.1zM83 31h1.1v1.2h-1.1zM23 32h57.1v1.2h-57.1zM24 33h54.1v1.2h-54.1zM25 34h14.1v1.2h-14.1zM41 34h2.1v1.2h-2.1zM46 34h32.1v1.2h-32.1zM26 35h10.1v1.2h-10.1zM42 35h3.1v1.2h-3.1zM52 35h28.1v1.2h-28.1zM82 35h2.1v1.2h-2.1zM28 36h5.1v1.2h-5.1zM43 36h4.1v1.2h-4.1zM54 36h31.1v1.2h-31.1zM43 37h5.1v1.2h-5.1zM56 37h28.1v1.2h-28.1zM44 38h6.1v1.2h-6.1zM57 38h25.1v1.2h-25.1zM46 39h6.1v1.2h-6.1zM58 39h24.1v1.2h-24.1zM50 40h1.1v1.2h-1.1zM56 40h25.1v1.2h-25.1zM55 41h27.1v1.2h-27.1zM58 42h17.1v1.2h-17.1zM77 42h6.1v1.2h-6.1zM60 43h17.1v1.2h-17.1zM78 43h6.1v1.2h-6.1zM62 44h10.1v1.2h-10.1zM73 44h11.1v1.2h-11.1zM61 45h11.1v1.2h-11.1zM73 45h12.1v1.2h-12.1zM61 46h12.1v1.2h-12.1zM74 46h12.1v1.2h-12.1zM60 47h13.1v1.2h-13.1zM75 47h4.1v1.2h-4.1zM80 47h7.1v1.2h-7.1zM60 48h6.1v1.2h-6.1zM67 48h2.1v1.2h-2.1zM74 48h5.1v1.2h-5.1zM80 48h1.1v1.2h-1.1zM82 48h5.1v1.2h-5.1zM60 49h8.1v1.2h-8.1zM70 49h5.1v1.2h-5.1zM76 49h1.1v1.2h-1.1zM80 49h7.1v1.2h-7.1zM59 50h10.1v1.2h-10.1zM70 50h5.1v1.2h-5.1zM80 50h7.1v1.2h-7.1zM59 51h10.1v1.2h-10.1zM71 51h2.1v1.2h-2.1zM75 51h1.1v1.2h-1.1zM79 51h8.1v1.2h-8.1zM58 52h15.1v1.2h-15.1zM75 52h1.1v1.2h-1.1zM81 52h6.1v1.2h-6.1zM58 53h19.1v1.2h-19.1zM82 53h4.1v1.2h-4.1zM58 54h20.1v1.2h-20.1zM85 54h1.1v1.2h-1.1zM57 55h19.1v1.2h-19.1zM83 55h1.1v1.2h-1.1zM55 56h17.1v1.2h-17.1zM73 56h4.1v1.2h-4.1zM80 56h1.1v1.2h-1.1zM83 56h2.1v1.2h-2.1zM54 57h18.1v1.2h-18.1zM73 57h4.1v1.2h-4.1zM83 57h1.1v1.2h-1.1zM52 58h20.1v1.2h-20.1zM74 58h3.1v1.2h-3.1zM82 58h2.1v1.2h-2.1zM51 59h21.1v1.2h-21.1zM74 59h3.1v1.2h-3.1zM82 59h1.1v1.2h-1.1zM50 60h21.1v1.2h-21.1zM74 60h3.1v1.2h-3.1zM80 60h1.1v1.2h-1.1zM50 61h21.1v1.2h-21.1zM73 61h4.1v1.2h-4.1zM51 62h20.1v1.2h-20.1zM73 62h3.1v1.2h-3.1zM78 62h1.1v1.2h-1.1zM51 63h25.1v1.2h-25.1zM77 63h1.1v1.2h-1.1zM52 64h5.1v1.2h-5.1zM63 64h10.1v1.2h-10.1zM74 64h2.1v1.2h-2.1zM53 65h3.1v1.2h-3.1zM64 65h3.1v1.2h-3.1zM69 65h1.1v1.2h-1.1zM71 65h2.1v1.2h-2.1zM70 66h1.1v1.2h-1.1zM69 67h1.1v1.2h-1.1zM67 69h4.1v1.2h-4.1zM67 70h4.1v1.2h-4.1zM67 71h4.1v1.2h-4.1z"/>
<path fill="#eebd83" d="M79 7h5.1v1.2h-5.1zM78 8h7.1v1.2h-7.1zM77 9h8.1v1.2h-8.1zM78 10h8.1v1.2h-8.1zM78 11h8.1v1.2h-8.1zM78 12h9.1v1.2h-9.1zM77 13h13.1v1.2h-13.1zM94 13h1.1v1.2h-1.1zM76 14h20.1v1.2h-20.1zM74 15h21.1v1.2h-21.1zM74 16h21.1v1.2h-21.1zM38 17h3.1v1.2h-3.1zM43 17h1.1v1.2h-1.1zM73 17h22.1v1.2h-22.1zM38 18h3.1v1.2h-3.1zM78 18h16.1v1.2h-16.1zM38 19h4.1v1.2h-4.1zM77 19h8.1v1.2h-8.1zM86 19h8.1v1.2h-8.1zM32 20h1.1v1.2h-1.1zM37 20h6.1v1.2h-6.1zM76 20h8.1v1.2h-8.1zM87 20h6.1v1.2h-6.1zM33 21h11.1v1.2h-11.1zM74 21h10.1v1.2h-10.1zM86 21h8.1v1.2h-8.1zM33 22h12.1v1.2h-12.1zM73 22h11.1v1.2h-11.1zM86 22h8.1v1.2h-8.1zM32 23h15.1v1.2h-15.1zM73 23h11.1v1.2h-11.1zM87 23h7.1v1.2h-7.1zM32 24h17.1v1.2h-17.1zM73 24h12.1v1.2h-12.1zM88 24h5.1v1.2h-5.1zM40 25h9.1v1.2h-9.1zM72 25h13.1v1.2h-13.1zM87 25h5.1v1.2h-5.1zM40 26h10.1v1.2h-10.1zM69 26h2.1v1.2h-2.1zM72 26h13.1v1.2h-13.1zM89 26h2.1v1.2h-2.1zM27 27h9.1v1.2h-9.1zM39 27h13.1v1.2h-13.1zM68 27h18.1v1.2h-18.1zM23 28h34.1v1.2h-34.1zM65 28h16.1v1.2h-16.1zM22 29h37.1v1.2h-37.1zM62 29h18.1v1.2h-18.1zM22 30h58.1v1.2h-58.1zM22 31h57.1v1.2h-57.1zM23 32h55.1v1.2h-55.1zM24 33h52.1v1.2h-52.1zM25 34h14.1v1.2h-14.1zM41 34h2.1v1.2h-2.1zM46 34h30.1v1.2h-30.1zM26 35h10.1v1.2h-10.1zM42 35h3.1v1.2h-3.1zM52 35h24.1v1.2h-24.1zM28 36h5.1v1.2h-5.1zM43 36h4.1v1.2h-4.1zM54 36h14.1v1.2h-14.1zM69 36h8.1v1.2h-8.1zM80 36h3.1v1.2h-3.1zM43 37h5.1v1.2h-5.1zM56 37h8.1v1.2h-8.1zM66 37h3.1v1.2h-3.1zM70 37h7.1v1.2h-7.1zM80 37h3.1v1.2h-3.1zM44 38h6.1v1.2h-6.1zM57 38h6.1v1.2h-6.1zM64 38h4.1v1.2h-4.1zM71 38h1.1v1.2h-1.1zM74 38h1.1v1.2h-1.1zM76 38h1.1v1.2h-1.1zM78 38h4.1v1.2h-4.1zM46 39h6.1v1.2h-6.1zM58 39h10.1v1.2h-10.1zM75 39h1.1v1.2h-1.1zM78 39h2.1v1.2h-2.1zM50 40h1.1v1.2h-1.1zM56 40h15.1v1.2h-15.1zM55 41h13.1v1.2h-13.1zM81 41h1.1v1.2h-1.1zM58 42h11.1v1.2h-11.1zM81 42h2.1v1.2h-2.1zM60 43h5.1v1.2h-5.1zM67 43h1.1v1.2h-1.1zM81 43h3.1v1.2h-3.1zM62 44h3.1v1.2h-3.1zM68 44h1.1v1.2h-1.1zM81 44h3.1v1.2h-3.1zM61 45h3.1v1.2h-3.1zM83 45h2.1v1.2h-2.1zM61 46h3.1v1.2h-3.1zM60 47h4.1v1.2h-4.1zM60 48h4.1v1.2h-4.1zM60 49h4.1v1.2h-4.1zM59 50h5.1v1.2h-5.1zM59 51h8.1v1.2h-8.1zM58 52h10.1v1.2h-10.1zM58 53h10.1v1.2h-10.1zM69 53h1.1v1.2h-1.1zM58 54h9.1v1.2h-9.1zM57 55h11.1v1.2h-11.1zM55 56h11.1v1.2h-11.1zM67 56h4.1v1.2h-4.1zM54 57h12.1v1.2h-12.1zM67 57h4.1v1.2h-4.1zM52 58h19.1v1.2h-19.1zM51 59h19.1v1.2h-19.1zM50 60h20.1v1.2h-20.1zM50 61h18.1v1.2h-18.1zM51 62h16.1v1.2h-16.1zM51 63h16.1v1.2h-16.1zM52 64h5.1v1.2h-5.1zM63 64h3.1v1.2h-3.1zM53 65h3.1v1.2h-3.1zM64 65h1.1v1.2h-1.1zM68 70h1.1v1.2h-1.1z"/>
<path fill="#eba273" d="M79 7h5.1v1.2h-5.1zM78 8h7.1v1.2h-7.1zM77 9h8.1v1.2h-8.1zM78 10h8.1v1.2h-8.1zM78 11h8.1v1.2h-8.1zM78 12h9.1v1.2h-9.1zM77 13h13.1v1.2h-13.1zM94 13h1.1v1.2h-1.1zM76 14h20.1v1.2h-20.1zM75 15h20.1v1.2h-20.1zM75 16h11.1v1.2h-11.1zM87 16h8.1v1.2h-8.1zM43 17h1.1v1.2h-1.1zM75 17h11.1v1.2h-11.1zM87 17h8.1v1.2h-8.1zM40 18h1.1v1.2h-1.1zM78 18h7.1v1.2h-7.1zM88 18h6.1v1.2h-6.1zM39 19h3.1v1.2h-3.1zM77 19h7.1v1.2h-7.1zM88 19h6.1v1.2h-6.1zM38 20h5.1v1.2h-5.1zM76 20h8.1v1.2h-8.1zM88 20h5.1v1.2h-5.1zM36 21h8.1v1.2h-8.1zM74 21h9.1v1.2h-9.1zM88 21h6.1v1.2h-6.1zM33 22h12.1v1.2h-12.1zM73 22h10.1v1.2h-10.1zM88 22h6.1v1.2h-6.1zM32 23h15.1v1.2h-15.1zM73 23h9.1v1.2h-9.1zM89 23h4.1v1.2h-4.1zM32 24h17.1v1.2h-17.1zM74 24h7.1v1.2h-7.1zM89 24h3.1v1.2h-3.1zM40 25h9.1v1.2h-9.1zM73 25h8.1v1.2h-8.1zM40 26h10.1v1.2h-10.1zM73 26h7.1v1.2h-7.1zM27 27h9.1v1.2h-9.1zM39 27h13.1v1.2h-13.1zM68 27h1.1v1.2h-1.1zM72 27h8.1v1.2h-8.1zM23 28h34.1v1.2h-34.1zM65 28h14.1v1.2h-14.1zM22 29h37.1v1.2h-37.1zM62 29h17.1v1.2h-17.1zM22 30h57.1v1.2h-57.1zM22 31h55.1v1.2h-55.1zM23 32h36.1v1.2h-36.1zM62 32h4.1v1.2h-4.1zM70 32h6.1v1.2h-6.1zM24 33h51.1v1.2h-51.1zM25 34h14.1v1.2h-14.1zM41 34h2.1v1.2h-2.1zM46 34h28.1v1.2h-28.1zM26 35h10.1v1.2h-10.1zM42 35h3.1v1.2h-3.1zM52 35h11.1v1.2h-11.1zM64 35h1.1v1.2h-1.1zM71 35h2.1v1.2h-2.1zM28 36h5.1v1.2h-5.1zM43 36h4.1v1.2h-4.1zM54 36h8.1v1.2h-8.1zM71 36h4.1v1.2h-4.1zM43 37h5.1v1.2h-5.1zM56 37h1.1v1.2h-1.1zM60 37h3.1v1.2h-3.1zM74 37h1.1v1.2h-1.1zM44 38h6.1v1.2h-6.1zM59 38h2.1v1.2h-2.1zM46 39h6.1v1.2h-6.1zM59 39h2.1v1.2h-2.1zM65 39h2.1v1.2h-2.1zM50 40h1.1v1.2h-1.1zM56 40h6.1v1.2h-6.1zM64 40h3.1v1.2h-3.1zM55 41h7.1v1.2h-7.1zM65 41h2.1v1.2h-2.1zM58 42h4.1v1.2h-4.1zM60 43h3.1v1.2h-3.1zM62 44h2.1v1.2h-2.1zM61 45h2.1v1.2h-2.1zM61 46h2.1v1.2h-2.1zM60 47h3.1v1.2h-3.1zM60 48h3.1v1.2h-3.1zM60 49h3.1v1.2h-3.1zM59 50h4.1v1.2h-4.1zM59 51h4.1v1.2h-4.1zM58 52h6.1v1.2h-6.1zM58 53h6.1v1.2h-6.1zM58 54h6.1v1.2h-6.1zM57 55h7.1v1.2h-7.1zM55 56h9.1v1.2h-9.1zM54 57h11.1v1.2h-11.1zM52 58h13.1v1.2h-13.1zM51 59h14.1v1.2h-14.1zM50 60h16.1v1.2h-16.1zM50 61h16.1v1.2h-16.1zM51 62h14.1v1.2h-14.1zM51 63h14.1v1.2h-14.1zM52 64h5.1v1.2h-5.1zM63 64h2.1v1.2h-2.1zM53 65h3.1v1.2h-3.1z"/>
<path fill="#e5705a" d="M79 7h5.1v1.2h-5.1zM78 8h7.1v1.2h-7.1zM77 9h8.1v1.2h-8.1zM78 10h8.1v1.2h-8.1zM78 11h8.1v1.2h-8.1zM78 12h9.1v1.2h-9.1zM77 13h13.1v1.2h-13.1zM94 13h1.1v1.2h-1.1zM77 14h8.1v1.2h-8.1zM90 14h5.1v1.2h-5.1zM76 15h8.1v1.2h-8.1zM90 15h5.1v1.2h-5.1zM76 16h8.1v1.2h-8.1zM89 16h6.1v1.2h-6.1zM76 17h8.1v1.2h-8.1zM89 17h6.1v1.2h-6.1zM78 18h6.1v1.2h-6.1zM89 18h5.1v1.2h-5.1zM40 19h2.1v1.2h-2.1zM77 19h6.1v1.2h-6.1zM89 19h5.1v1.2h-5.1zM39 20h4.1v1.2h-4.1zM76 20h7.1v1.2h-7.1zM89 20h4.1v1.2h-4.1zM38 21h6.1v1.2h-6.1zM74 21h8.1v1.2h-8.1zM89 21h5.1v1.2h-5.1zM33 22h12.1v1.2h-12.1zM74 22h8.1v1.2h-8.1zM89 22h4.1v1.2h-4.1zM32 23h15.1v1.2h-15.1zM74 23h7.1v1.2h-7.1zM90 23h1.1v1.2h-1.1zM32 24h17.1v1.2h-17.1zM74 24h7.1v1.2h-7.1zM40 25h9.1v1.2h-9.1zM74 25h6.1v1.2h-6.1zM40 26h10.1v1.2h-10.1zM74 26h5.1v1.2h-5.1zM27 27h9.1v1.2h-9.1zM39 27h13.1v1.2h-13.1zM73 27h5.1v1.2h-5.1zM23 28h34.1v1.2h-34.1zM68 28h2.1v1.2h-2.1zM71 28h7.1v1.2h-7.1zM22 29h37.1v1.2h-37.1zM62 29h16.1v1.2h-16.1zM22 30h32.1v1.2h-32.1zM55 30h8.1v1.2h-8.1zM64 30h1.1v1.2h-1.1zM66 30h1.1v1.2h-1.1zM68 30h9.1v1.2h-9.1zM22 31h39.1v1.2h-39.1zM71 31h5.1v1.2h-5.1zM23 32h35.1v1.2h-35.1zM62 32h1.1v1.2h-1.1zM64 32h1.1v1.2h-1.1zM71 32h4.1v1.2h-4.1zM24 33h27.1v1.2h-27.1zM52 33h6.1v1.2h-6.1zM60 33h2.1v1.2h-2.1zM70 33h4.1v1.2h-4.1zM25 34h14.1v1.2h-14.1zM41 34h2.1v1.2h-2.1zM46 34h2.1v1.2h-2.1zM49 34h2.1v1.2h-2.1zM53 34h10.1v1.2h-10.1zM67 34h1.1v1.2h-1.1zM70 34h2.1v1.2h-2.1zM26 35h10.1v1.2h-10.1zM42 35h3.1v1.2h-3.1zM53 35h7.1v1.2h-7.1zM28 36h5.1v1.2h-5.1zM43 36h4.1v1.2h-4.1zM54 36h2.1v1.2h-2.1zM57 36h2.1v1.2h-2.1zM43 37h5.1v1.2h-5.1zM44 38h6.1v1.2h-6.1zM59 38h2.1v1.2h-2.1zM46 39h6.1v1.2h-6.1zM60 39h1.1v1.2h-1.1zM65 39h1.1v1.2h-1.1zM50 40h1.1v1.2h-1.1zM56 40h3.1v1.2h-3.1zM65 40h2.1v1.2h-2.1zM55 41h6.1v1.2h-6.1zM58 42h4.1v1.2h-4.1zM60 43h3.1v1.2h-3.1zM61 45h2.1v1.2h-2.1zM61 46h1.1v1.2h-1.1zM60 47h3.1v1.2h-3.1zM60 48h2.1v1.2h-2.1zM60 49h2.1v1.2h-2.1zM59 50h3.1v1.2h-3.1zM59 51h3.1v1.2h-3.1zM58 52h4.1v1.2h-4.1zM58 53h4.1v1.2h-4.1zM58 54h5.1v1.2h-5.1zM57 55h6.1v1.2h-6.1zM55 56h8.1v1.2h-8.1zM54 57h10.1v1.2h-10.1zM52 58h12.1v1.2h-12.1zM51 59h13.1v1.2h-13.1zM50 60h14.1v1.2h-14.1zM50 61h14.1v1.2h-14.1zM51 62h13.1v1.2h-13.1zM51 63h12.1v1.2h-12.1zM52 64h5.1v1.2h-5.1zM53 65h3.1v1.2h-3.1z"/>
<path fill="#dc4b3f" d="M79 7h5.1v1.2h-5.1zM78 8h7.1v1.2h-7.1zM78 9h7.1v1.2h-7.1zM78 10h8.1v1.2h-8.1zM78 11h8.1v1.2h-8.1zM78 12h8.1v1.2h-8.1zM78 13h7.1v1.2h-7.1zM77 14h7.1v1.2h-7.1zM91 14h3.1v1.2h-3.1zM77 15h7.1v1.2h-7.1zM91 15h4.1v1.2h-4.1zM77 16h6.1v1.2h-6.1zM90 16h5.1v1.2h-5.1zM76 17h7.1v1.2h-7.1zM90 17h5.1v1.2h-5.1zM78 18h5.1v1.2h-5.1zM90 18h4.1v1.2h-4.1zM77 19h5.1v1.2h-5.1zM89 19h5.1v1.2h-5.1zM40 20h3.1v1.2h-3.1zM76 20h6.1v1.2h-6.1zM89 20h4.1v1.2h-4.1zM39 21h5.1v1.2h-5.1zM75 21h7.1v1.2h-7.1zM90 21h3.1v1.2h-3.1zM37 22h8.1v1.2h-8.1zM75 22h6.1v1.2h-6.1zM90 22h1.1v1.2h-1.1zM32 23h15.1v1.2h-15.1zM75 23h6.1v1.2h-6.1zM32 24h17.1v1.2h-17.1zM75 24h5.1v1.2h-5.1zM40 25h9.1v1.2h-9.1zM75 25h4.1v1.2h-4.1zM40 26h10.1v1.2h-10.1zM74 26h4.1v1.2h-4.1zM27 27h9.1v1.2h-9.1zM39 27h12.1v1.2h-12.1zM74 27h4.1v1.2h-4.1zM23 28h30.1v1.2h-30.1zM54 28h1.1v1.2h-1.1zM56 28h1.1v1.2h-1.1zM73 28h4.1v1.2h-4.1zM22 29h30.1v1.2h-30.1zM53 29h6.1v1.2h-6.1zM68 29h9.1v1.2h-9.1zM22 30h29.1v1.2h-29.1zM56 30h6.1v1.2h-6.1zM70 30h6.1v1.2h-6.1zM22 31h29.1v1.2h-29.1zM53 31h2.1v1.2h-2.1zM56 31h5.1v1.2h-5.1zM71 31h4.1v1.2h-4.1zM23 32h27.1v1.2h-27.1zM53 32h2.1v1.2h-2.1zM56 32h1.1v1.2h-1.1zM72 32h2.1v1.2h-2.1zM24 33h22.1v1.2h-22.1zM48 33h2.1v1.2h-2.1zM53 33h5.1v1.2h-5.1zM25 34h14.1v1.2h-14.1zM41 34h2.1v1.2h-2.1zM49 34h1.1v1.2h-1.1zM53 34h5.1v1.2h-5.1zM26 35h10.1v1.2h-10.1zM42 35h3.1v1.2h-3.1zM53 35h1.1v1.2h-1.1zM55 35h1.1v1.2h-1.1zM57 35h3.1v1.2h-3.1zM28 36h5.1v1.2h-5.1zM43 36h4.1v1.2h-4.1zM54 36h1.1v1.2h-1.1zM58 36h1.1v1.2h-1.1zM43 37h5.1v1.2h-5.1zM44 38h6.1v1.2h-6.1zM46 39h6.1v1.2h-6.1zM50 40h1.1v1.2h-1.1zM56 40h3.1v1.2h-3.1zM55 41h6.1v1.2h-6.1zM58 42h4.1v1.2h-4.1zM60 43h3.1v1.2h-3.1zM61 45h1.1v1.2h-1.1zM61 46h1.1v1.2h-1.1zM60 47h2.1v1.2h-2.1zM60 48h2.1v1.2h-2.1zM60 49h2.1v1.2h-2.1zM59 50h3.1v1.2h-3.1zM59 51h3.1v1.2h-3.1zM58 52h3.1v1.2h-3.1zM58 53h3.1v1.2h-3.1zM58 54h3.1v1.2h-3.1zM57 55h5.1v1.2h-5.1zM55 56h7.1v1.2h-7.1zM54 57h9.1v1.2h-9.1zM52 58h11.1v1.2h-11.1zM51 59h12.1v1.2h-12.1zM50 60h13.1v1.2h-13.1zM50 61h13.1v1.2h-13.1zM51 62h12.1v1.2h-12.1zM51 63h11.1v1.2h-11.1zM52 64h5.1v1.2h-5.1zM53 65h3.1v1.2h-3.1z"/>
<path fill="#cd2a22" d="M79 7h5.1v1.2h-5.1zM79 8h6.1v1.2h-6.1zM78 9h7.1v1.2h-7.1zM78 10h8.1v1.2h-8.1zM78 11h7.1v1.2h-7.1zM78 12h7.1v1.2h-7.1zM78 13h7.1v1.2h-7.1zM78 14h6.1v1.2h-6.1zM77 15h6.1v1.2h-6.1zM92 15h2.1v1.2h-2.1zM77 16h6.1v1.2h-6.1zM91 16h3.1v1.2h-3.1zM77 17h6.1v1.2h-6.1zM91 17h3.1v1.2h-3.1zM78 18h4.1v1.2h-4.1zM90 18h4.1v1.2h-4.1zM77 19h5.1v1.2h-5.1zM90 19h4.1v1.2h-4.1zM41 20h2.1v1.2h-2.1zM76 20h6.1v1.2h-6.1zM90 20h3.1v1.2h-3.1zM40 21h4.1v1.2h-4.1zM75 21h6.1v1.2h-6.1zM91 21h1.1v1.2h-1.1zM39 22h6.1v1.2h-6.1zM75 22h6.1v1.2h-6.1zM33 23h5.1v1.2h-5.1zM39 23h8.1v1.2h-8.1zM75 23h5.1v1.2h-5.1zM32 24h17.1v1.2h-17.1zM75 24h4.1v1.2h-4.1zM40 25h9.1v1.2h-9.1zM75 25h3.1v1.2h-3.1zM40 26h10.1v1.2h-10.1zM75 26h2.1v1.2h-2.1zM27 27h9.1v1.2h-9.1zM39 27h12.1v1.2h-12.1zM74 27h2.1v1.2h-2.1zM23 28h28.1v1.2h-28.1zM74 28h3.1v1.2h-3.1zM22 29h30.1v1.2h-30.1zM55 29h4.1v1.2h-4.1zM72 29h4.1v1.2h-4.1zM22 30h29.1v1.2h-29.1zM56 30h5.1v1.2h-5.1zM72 30h4.1v1.2h-4.1zM22 31h25.1v1.2h-25.1zM50 31h1.1v1.2h-1.1zM56 31h4.1v1.2h-4.1zM72 31h2.1v1.2h-2.1zM23 32h22.1v1.2h-22.1zM46 32h3.1v1.2h-3.1zM53 32h2.1v1.2h-2.1zM56 32h1.1v1.2h-1.1zM24 33h22.1v1.2h-22.1zM49 33h1.1v1.2h-1.1zM54 33h4.1v1.2h-4.1zM25 34h14.1v1.2h-14.1zM41 34h2.1v1.2h-2.1zM53 34h5.1v1.2h-5.1zM26 35h10.1v1.2h-10.1zM42 35h3.1v1.2h-3.1zM53 35h1.1v1.2h-1.1zM28 36h5.1v1.2h-5.1zM43 36h4.1v1.2h-4.1zM43 37h5.1v1.2h-5.1zM44 38h6.1v1.2h-6.1zM46 39h6.1v1.2h-6.1zM50 40h1.1v1.2h-1.1zM56 40h3.1v1.2h-3.1zM55 41h6.1v1.2h-6.1zM58 42h4.1v1.2h-4.1zM60 43h3.1v1.2h-3.1zM61 45h1.1v1.2h-1.1zM60 47h1.1v1.2h-1.1zM60 48h1.1v1.2h-1.1zM60 49h1.1v1.2h-1.1zM59 50h2.1v1.2h-2.1zM59 51h2.1v1.2h-2.1zM58 52h3.1v1.2h-3.1zM58 53h3.1v1.2h-3.1zM58 54h3.1v1.2h-3.1zM57 55h4.1v1.2h-4.1zM55 56h6.1v1.2h-6.1zM54 57h7.1v1.2h-7.1zM52 58h10.1v1.2h-10.1zM51 59h11.1v1.2h-11.1zM50 60h12.1v1.2h-12.1zM50 61h12.1v1.2h-12.1zM51 62h11.1v1.2h-11.1zM51 63h10.1v1.2h-10.1zM52 64h5.1v1.2h-5.1zM53 65h3.1v1.2h-3.1z"/>
<path fill="#b31b17" d="M80 7h4.1v1.2h-4.1zM79 8h6.1v1.2h-6.1zM79 9h6.1v1.2h-6.1zM79 10h6.1v1.2h-6.1zM79 11h6.1v1.2h-6.1zM79 12h5.1v1.2h-5.1zM78 13h6.1v1.2h-6.1zM78 14h5.1v1.2h-5.1zM78 15h5.1v1.2h-5.1zM77 16h5.1v1.2h-5.1zM92 16h2.1v1.2h-2.1zM77 17h5.1v1.2h-5.1zM91 17h3.1v1.2h-3.1zM78 18h4.1v1.2h-4.1zM91 18h2.1v1.2h-2.1zM77 19h4.1v1.2h-4.1zM91 19h2.1v1.2h-2.1zM76 20h5.1v1.2h-5.1zM91 20h1.1v1.2h-1.1zM41 21h3.1v1.2h-3.1zM76 21h5.1v1.2h-5.1zM39 22h6.1v1.2h-6.1zM76 22h4.1v1.2h-4.1zM37 23h1.1v1.2h-1.1zM40 23h7.1v1.2h-7.1zM76 23h3.1v1.2h-3.1zM32 24h6.1v1.2h-6.1zM39 24h10.1v1.2h-10.1zM76 24h2.1v1.2h-2.1zM40 25h9.1v1.2h-9.1zM40 26h10.1v1.2h-10.1zM29 27h4.1v1.2h-4.1zM35 27h1.1v1.2h-1.1zM39 27h12.1v1.2h-12.1zM23 28h28.1v1.2h-28.1zM75 28h1.1v1.2h-1.1zM22 29h28.1v1.2h-28.1zM51 29h1.1v1.2h-1.1zM56 29h1.1v1.2h-1.1zM73 29h3.1v1.2h-3.1zM22 30h25.1v1.2h-25.1zM56 30h1.1v1.2h-1.1zM73 30h2.1v1.2h-2.1zM22 31h25.1v1.2h-25.1zM23 32h22.1v1.2h-22.1zM47 32h2.1v1.2h-2.1zM53 32h1.1v1.2h-1.1zM24 33h12.1v1.2h-12.1zM37 33h7.1v1.2h-7.1zM56 33h1.1v1.2h-1.1zM25 34h6.1v1.2h-6.1zM32 34h3.1v1.2h-3.1zM36 34h3.1v1.2h-3.1zM41 34h2.1v1.2h-2.1zM27 35h5.1v1.2h-5.1zM33 35h1.1v1.2h-1.1zM35 35h1.1v1.2h-1.1zM42 35h3.1v1.2h-3.1zM28 36h5.1v1.2h-5.1zM43 36h4.1v1.2h-4.1zM43 37h5.1v1.2h-5.1zM44 38h6.1v1.2h-6.1zM46 39h6.1v1.2h-6.1zM50 40h1.1v1.2h-1.1zM56 40h3.1v1.2h-3.1zM55 41h6.1v1.2h-6.1zM58 42h4.1v1.2h-4.1zM60 43h3.1v1.2h-3.1zM60 47h1.1v1.2h-1.1zM60 48h1.1v1.2h-1.1zM59 50h2.1v1.2h-2.1zM59 51h1.1v1.2h-1.1zM58 52h2.1v1.2h-2.1zM58 53h2.1v1.2h-2.1zM58 54h2.1v1.2h-2.1zM57 55h3.1v1.2h-3.1zM55 56h6.1v1.2h-6.1zM54 57h7.1v1.2h-7.1zM52 58h9.1v1.2h-9.1zM51 59h11.1v1.2h-11.1zM50 60h12.1v1.2h-12.1zM50 61h12.1v1.2h-12.1zM51 62h10.1v1.2h-10.1zM51 63h9.1v1.2h-9.1zM52 64h5.1v1.2h-5.1zM53 65h3.1v1.2h-3.1z"/>
<path fill="#941310" d="M81 7h3.1v1.2h-3.1zM80 8h4.1v1.2h-4.1zM80 9h5.1v1.2h-5.1zM79 10h5.1v1.2h-5.1zM79 11h5.1v1.2h-5.1zM79 12h5.1v1.2h-5.1zM79 13h4.1v1.2h-4.1zM79 14h4.1v1.2h-4.1zM78 15h4.1v1.2h-4.1zM78 16h4.1v1.2h-4.1zM78 17h4.1v1.2h-4.1zM78 18h3.1v1.2h-3.1zM77 19h4.1v1.2h-4.1zM77 20h4.1v1.2h-4.1zM42 21h2.1v1.2h-2.1zM76 21h4.1v1.2h-4.1zM40 22h5.1v1.2h-5.1zM76 22h3.1v1.2h-3.1zM40 23h7.1v1.2h-7.1zM36 24h2.1v1.2h-2.1zM40 24h9.1v1.2h-9.1zM40 25h9.1v1.2h-9.1zM41 26h8.1v1.2h-8.1zM29 27h4.1v1.2h-4.1zM35 27h1.1v1.2h-1.1zM41 27h9.1v1.2h-9.1zM23 28h2.1v1.2h-2.1zM27 28h11.1v1.2h-11.1zM41 28h2.1v1.2h-2.1zM44 28h5.1v1.2h-5.1zM22 29h15.1v1.2h-15.1zM38 29h5.1v1.2h-5.1zM44 29h5.1v1.2h-5.1zM22 30h16.1v1.2h-16.1zM40 30h6.1v1.2h-6.1zM22 31h21.1v1.2h-21.1zM44 31h2.1v1.2h-2.1zM23 32h22.1v1.2h-22.1zM47 32h1.1v1.2h-1.1zM53 32h1.1v1.2h-1.1zM24 33h6.1v1.2h-6.1zM31 33h4.1v1.2h-4.1zM37 33h7.1v1.2h-7.1zM25 34h5.1v1.2h-5.1zM32 34h3.1v1.2h-3.1zM37 34h2.1v1.2h-2.1zM41 34h2.1v1.2h-2.1zM27 35h5.1v1.2h-5.1zM42 35h3.1v1.2h-3.1zM28 36h1.1v1.2h-1.1zM30 36h1.1v1.2h-1.1zM32 36h1.1v1.2h-1.1zM43 36h3.1v1.2h-3.1zM43 37h3.1v1.2h-3.1zM44 38h6.1v1.2h-6.1zM46 39h6.1v1.2h-6.1zM50 40h1.1v1.2h-1.1zM56 40h3.1v1.2h-3.1zM55 41h6.1v1.2h-6.1zM58 42h4.1v1.2h-4.1zM60 43h3.1v1.2h-3.1zM59 51h1.1v1.2h-1.1zM58 52h2.1v1.2h-2.1zM58 53h1.1v1.2h-1.1zM58 54h2.1v1.2h-2.1zM57 55h3.1v1.2h-3.1zM55 56h5.1v1.2h-5.1zM54 57h6.1v1.2h-6.1zM52 58h9.1v1.2h-9.1zM51 59h10.1v1.2h-10.1zM50 60h11.1v1.2h-11.1zM50 61h11.1v1.2h-11.1zM51 62h9.1v1.2h-9.1zM51 63h8.1v1.2h-8.1zM53 64h4.1v1.2h-4.1z"/>
<path fill="#7b0f0c" d="M80 8h4.1v1.2h-4.1zM80 9h4.1v1.2h-4.1zM80 10h4.1v1.2h-4.1zM80 11h3.1v1.2h-3.1zM80 12h3.1v1.2h-3.1zM80 13h2.1v1.2h-2.1zM80 14h2.1v1.2h-2.1zM79 15h2.1v1.2h-2.1zM78 16h3.1v1.2h-3.1zM78 17h3.1v1.2h-3.1zM78 18h3.1v1.2h-3.1zM77 19h3.1v1.2h-3.1zM77 20h3.1v1.2h-3.1zM77 21h3.1v1.2h-3.1zM44 22h1.1v1.2h-1.1zM40 23h1.1v1.2h-1.1zM42 23h5.1v1.2h-5.1zM40 24h9.1v1.2h-9.1zM41 25h8.1v1.2h-8.1zM44 26h5.1v1.2h-5.1zM30 27h3.1v1.2h-3.1zM35 27h1.1v1.2h-1.1zM41 27h7.1v1.2h-7.1zM23 28h1.1v1.2h-1.1zM27 28h5.1v1.2h-5.1zM33 28h5.1v1.2h-5.1zM41 28h1.1v1.2h-1.1zM44 28h1.1v1.2h-1.1zM46 28h3.1v1.2h-3.1zM23 29h13.1v1.2h-13.1zM38 29h3.1v1.2h-3.1zM42 29h1.1v1.2h-1.1zM45 29h1.1v1.2h-1.1zM47 29h2.1v1.2h-2.1zM23 30h15.1v1.2h-15.1zM41 30h2.1v1.2h-2.1zM45 30h1.1v1.2h-1.1zM22 31h13.1v1.2h-13.1zM36 31h2.1v1.2h-2.1zM39 31h3.1v1.2h-3.1zM44 31h1.1v1.2h-1.1zM23 32h10.1v1.2h-10.1zM34 32h7.1v1.2h-7.1zM42 32h1.1v1.2h-1.1zM24 33h6.1v1.2h-6.1zM31 33h3.1v1.2h-3.1zM37 33h6.1v1.2h-6.1zM25 34h5.1v1.2h-5.1zM32 34h2.1v1.2h-2.1zM37 34h2.1v1.2h-2.1zM27 35h5.1v1.2h-5.1zM43 35h2.1v1.2h-2.1zM43 36h3.1v1.2h-3.1zM43 37h2.1v1.2h-2.1zM46 38h4.1v1.2h-4.1zM46 39h6.1v1.2h-6.1zM55 41h1.1v1.2h-1.1zM58 54h1.1v1.2h-1.1zM57 55h2.1v1.2h-2.1zM55 56h5.1v1.2h-5.1zM54 57h6.1v1.2h-6.1zM52 58h8.1v1.2h-8.1zM51 59h9.1v1.2h-9.1zM51 60h10.1v1.2h-10.1zM51 61h9.1v1.2h-9.1zM51 62h8.1v1.2h-8.1zM53 63h5.1v1.2h-5.1z"/>
</g>
</g>
<use href="#chj" fill="none" stroke="#000" stroke-width="1.1" stroke-linejoin="round"/>
<use href="#cst" fill="none" stroke="#000" stroke-width="1.7" stroke-linejoin="round"/>
<ellipse cx="103.4" cy="105.7" rx="2.9" ry="2.8" fill="none" stroke="#000" stroke-width="0.9"/>
<use href="#sea"/>
</g>
<rect x="417.2" y="254.0" width="31.3" height="41.7" fill="#fff"/>
<path d="M417.3 254.1L417.3 259.0L420.8 260.8L423.8 261.5L424.8 263.3L425.4 261.5L428.7 261.1L433.6 259.4L437.6 257.4L441.5 254.9L441.5 254.1z" fill="#efd4a3"/>
<path d="M427.2 257.3h1.6v1.4h-1.6zM437.0 256.3h1.6v1.4h-1.6zM428.4 257.4h1.6v1.4h-1.6zM421.7 256.9h1.6v1.4h-1.6zM430.9 258.2h1.6v1.4h-1.6zM419.8 255.8h1.6v1.4h-1.6zM419.7 258.2h1.6v1.4h-1.6zM432.2 254.5h1.6v1.4h-1.6zM438.2 258.2h1.6v1.4h-1.6zM431.4 257.3h1.6v1.4h-1.6zM421.1 254.3h1.6v1.4h-1.6zM428.8 254.6h1.6v1.4h-1.6zM421.8 255.5h1.6v1.4h-1.6zM418.5 256.5h1.6v1.4h-1.6zM427.0 258.9h1.6v1.4h-1.6zM428.6 257.6h1.6v1.4h-1.6z" fill="#eebd83"/>
<path d="M417.3 259.0L420.8 260.8L423.8 261.5L424.8 263.3L425.4 261.5L428.7 261.1L433.6 259.4L437.6 257.4L441.5 254.9" fill="none" stroke="#000" stroke-width="1.4" stroke-linejoin="round"/>
<ellipse cx="424.3" cy="265.1" rx="1.5" ry="1.5" fill="#ecb07b" stroke="#000" stroke-width="0.7"/>
<path d="M440.7 256.6L443.0 255.6L443.7 258.4L443.3 261.9L442.0 259.9z" fill="#fff" stroke="#000" stroke-width="0.8" stroke-linejoin="round"/>
<path d="M429.5 264.5L431.7 265.1M440.5 264.8L441.1 266.9M423.6 270.0L424.2 270.6M427.2 268.3L429.3 270.0M431.7 270.5L433.2 270.0M435.4 268.8L436.0 269.4M437.6 271.2L439.9 270.4M433.4 273.0L434.2 273.6M425.3 275.9L425.7 277.7M439.1 270.0L439.7 271.6M422.3 284.6L423.8 283.5M424.8 282.5L427.2 281.1M428.2 280.6L430.2 279.1M433.6 279.1L436.1 278.1M437.1 277.6L440.0 276.1M428.7 286.0L430.2 287.0M428.2 289.4L429.7 290.0M432.6 283.5L434.2 284.0M431.2 277.6L431.9 280.1M431.9 280.1L432.8 282.0M432.3 277.9L433.4 281.3M430.2 281.1L432.6 279.6M430.9 282.5L433.6 281.3" stroke="#000" stroke-width="0.9" fill="none" stroke-linecap="round"/>
<path class="fr" d="M417.2 295.7V254.0H448.5"/>
<rect class="fr" x="266.5" y="177.7" width="182.3" height="117.7"/>
<g transform="translate(485.5 177.7)">
<g clip-path="url(#chc)"><g transform="scale(1.50)">
<path fill="#f9f3e6" d="M79 7h5.1v1.2h-5.1zM78 8h7.1v1.2h-7.1zM77 9h8.1v1.2h-8.1zM78 10h8.1v1.2h-8.1zM78 11h8.1v1.2h-8.1zM78 12h9.1v1.2h-9.1zM77 13h13.1v1.2h-13.1zM94 13h1.1v1.2h-1.1zM76 14h20.1v1.2h-20.1zM74 15h21.1v1.2h-21.1zM38 16h2.1v1.2h-2.1zM74 16h21.1v1.2h-21.1zM35 17h1.1v1.2h-1.1zM38 17h3.1v1.2h-3.1zM43 17h1.1v1.2h-1.1zM73 17h22.1v1.2h-22.1zM35 18h6.1v1.2h-6.1zM78 18h16.1v1.2h-16.1zM34 19h8.1v1.2h-8.1zM77 19h17.1v1.2h-17.1zM32 20h11.1v1.2h-11.1zM76 20h17.1v1.2h-17.1zM33 21h11.1v1.2h-11.1zM74 21h20.1v1.2h-20.1zM33 22h12.1v1.2h-12.1zM73 22h21.1v1.2h-21.1zM32 23h15.1v1.2h-15.1zM71 23h23.1v1.2h-23.1zM32 24h17.1v1.2h-17.1zM70 24h23.1v1.2h-23.1zM40 25h9.1v1.2h-9.1zM70 25h22.1v1.2h-22.1zM40 26h10.1v1.2h-10.1zM69 26h22.1v1.2h-22.1zM27 27h9.1v1.2h-9.1zM39 27h13.1v1.2h-13.1zM68 27h21.1v1.2h-21.1zM23 28h34.1v1.2h-34.1zM65 28h23.1v1.2h-23.1zM22 29h37.1v1.2h-37.1zM62 29h26.1v1.2h-26.1zM22 30h60.1v1.2h-60.1zM83 30h3.1v1.2h-3.1zM22 31h59.1v1.2h-59.1zM83 31h1.1v1.2h-1.1zM23 32h57.1v1.2h-57.1zM24 33h54.1v1.2h-54.1zM25 34h14.1v1.2h-14.1zM41 34h2.1v1.2h-2.1zM46 34h32.1v1.2h-32.1zM26 35h10.1v1.2h-10.1zM42 35h3.1v1.2h-3.1zM52 35h28.1v1.2h-28.1zM82 35h2.1v1.2h-2.1zM28 36h5.1v1.2h-5.1zM43 36h4.1v1.2h-4.1zM54 36h31.1v1.2h-31.1zM43 37h5.1v1.2h-5.1zM56 37h28.1v1.2h-28.1zM44 38h6.1v1.2h-6.1zM57 38h25.1v1.2h-25.1zM46 39h6.1v1.2h-6.1zM58 39h24.1v1.2h-24.1zM50 40h1.1v1.2h-1.1zM56 40h25.1v1.2h-25.1zM55 41h27.1v1.2h-27.1zM58 42h25.1v1.2h-25.1zM60 43h24.1v1.2h-24.1zM62 44h22.1v1.2h-22.1zM61 45h24.1v1.2h-24.1zM61 46h25.1v1.2h-25.1zM60 47h27.1v1.2h-27.1zM60 48h27.1v1.2h-27.1zM60 49h27.1v1.2h-27.1zM59 50h28.1v1.2h-28.1zM59 51h28.1v1.2h-28.1zM58 52h29.1v1.2h-29.1zM58 53h28.1v1.2h-28.1zM58 54h28.1v1.2h-28.1zM57 55h28.1v1.2h-28.1zM55 56h30.1v1.2h-30.1zM54 57h30.1v1.2h-30.1zM52 58h32.1v1.2h-32.1zM51 59h32.1v1.2h-32.1zM50 60h31.1v1.2h-31.1zM50 61h31.1v1.2h-31.1zM51 62h28.1v1.2h-28.1zM51 63h27.1v1.2h-27.1zM52 64h5.1v1.2h-5.1zM63 64h13.1v1.2h-13.1zM53 65h3.1v1.2h-3.1zM64 65h9.1v1.2h-9.1zM68 66h3.1v1.2h-3.1zM69 67h1.1v1.2h-1.1zM67 69h4.1v1.2h-4.1zM67 70h4.1v1.2h-4.1zM67 71h4.1v1.2h-4.1z"/>
<path fill="#f4e4c4" d="M81 7h1.1v1.2h-1.1zM83 7h1.1v1.2h-1.1zM80 8h5.1v1.2h-5.1zM81 9h2.1v1.2h-2.1zM84 9h1.1v1.2h-1.1zM85 10h1.1v1.2h-1.1zM85 11h1.1v1.2h-1.1zM86 12h1.1v1.2h-1.1zM77 13h1.1v1.2h-1.1zM86 13h2.1v1.2h-2.1zM77 14h3.1v1.2h-3.1zM86 14h6.1v1.2h-6.1zM76 15h3.1v1.2h-3.1zM86 15h6.1v1.2h-6.1zM77 16h4.1v1.2h-4.1zM86 16h4.1v1.2h-4.1zM91 16h1.1v1.2h-1.1zM35 17h1.1v1.2h-1.1zM43 17h1.1v1.2h-1.1zM75 17h1.1v1.2h-1.1zM77 17h1.1v1.2h-1.1zM80 17h1.1v1.2h-1.1zM83 17h1.1v1.2h-1.1zM86 17h4.1v1.2h-4.1zM91 17h1.1v1.2h-1.1zM35 18h1.1v1.2h-1.1zM81 18h2.1v1.2h-2.1zM86 18h3.1v1.2h-3.1zM34 19h2.1v1.2h-2.1zM77 19h1.1v1.2h-1.1zM80 19h3.1v1.2h-3.1zM87 19h2.1v1.2h-2.1zM91 19h3.1v1.2h-3.1zM32 20h7.1v1.2h-7.1zM40 20h3.1v1.2h-3.1zM77 20h2.1v1.2h-2.1zM80 20h3.1v1.2h-3.1zM86 20h2.1v1.2h-2.1zM90 20h3.1v1.2h-3.1zM33 21h11.1v1.2h-11.1zM77 21h1.1v1.2h-1.1zM80 21h2.1v1.2h-2.1zM86 21h2.1v1.2h-2.1zM89 21h5.1v1.2h-5.1zM33 22h10.1v1.2h-10.1zM78 22h1.1v1.2h-1.1zM80 22h3.1v1.2h-3.1zM86 22h2.1v1.2h-2.1zM90 22h4.1v1.2h-4.1zM32 23h13.1v1.2h-13.1zM72 23h2.1v1.2h-2.1zM80 23h3.1v1.2h-3.1zM90 23h3.1v1.2h-3.1zM32 24h8.1v1.2h-8.1zM41 24h2.1v1.2h-2.1zM70 24h1.1v1.2h-1.1zM72 24h3.1v1.2h-3.1zM79 24h3.1v1.2h-3.1zM83 24h1.1v1.2h-1.1zM42 25h3.1v1.2h-3.1zM48 25h1.1v1.2h-1.1zM72 25h3.1v1.2h-3.1zM78 25h5.1v1.2h-5.1zM45 26h1.1v1.2h-1.1zM48 26h2.1v1.2h-2.1zM71 26h4.1v1.2h-4.1zM78 26h5.1v1.2h-5.1zM87 26h1.1v1.2h-1.1zM27 27h2.1v1.2h-2.1zM31 27h5.1v1.2h-5.1zM42 27h2.1v1.2h-2.1zM47 27h4.1v1.2h-4.1zM71 27h1.1v1.2h-1.1zM73 27h1.1v1.2h-1.1zM76 27h2.1v1.2h-2.1zM79 27h3.1v1.2h-3.1zM88 27h1.1v1.2h-1.1zM23 28h6.1v1.2h-6.1zM30 28h10.1v1.2h-10.1zM41 28h2.1v1.2h-2.1zM48 28h4.1v1.2h-4.1zM67 28h1.1v1.2h-1.1zM71 28h1.1v1.2h-1.1zM22 29h9.1v1.2h-9.1zM33 29h4.1v1.2h-4.1zM41 29h2.1v1.2h-2.1zM44 29h1.1v1.2h-1.1zM48 29h4.1v1.2h-4.1zM67 29h7.1v1.2h-7.1zM85 29h1.1v1.2h-1.1zM22 30h8.1v1.2h-8.1zM35 30h1.1v1.2h-1.1zM48 30h4.1v1.2h-4.1zM66 30h7.1v1.2h-7.1zM80 30h1.1v1.2h-1.1zM84 30h2.1v1.2h-2.1zM22 31h8.1v1.2h-8.1zM40 31h1.1v1.2h-1.1zM44 31h1.1v1.2h-1.1zM48 31h3.1v1.2h-3.1zM56 31h1.1v1.2h-1.1zM66 31h1.1v1.2h-1.1zM68 31h1.1v1.2h-1.1zM70 31h3.1v1.2h-3.1zM76 31h1.1v1.2h-1.1zM23 32h8.1v1.2h-8.1zM35 32h1.1v1.2h-1.1zM39 32h2.1v1.2h-2.1zM48 32h1.1v1.2h-1.1zM53 32h1.1v1.2h-1.1zM56 32h4.1v1.2h-4.1zM62 32h2.1v1.2h-2.1zM67 32h6.1v1.2h-6.1zM24 33h9.1v1.2h-9.1zM40 33h5.1v1.2h-5.1zM48 33h2.1v1.2h-2.1zM59 33h1.1v1.2h-1.1zM61 33h4.1v1.2h-4.1zM68 33h4.1v1.2h-4.1zM25 34h2.1v1.2h-2.1zM28 34h4.1v1.2h-4.1zM41 34h2.1v1.2h-2.1zM48 34h2.1v1.2h-2.1zM60 34h2.1v1.2h-2.1zM64 34h1.1v1.2h-1.1zM68 34h3.1v1.2h-3.1zM75 34h1.1v1.2h-1.1zM27 35h1.1v1.2h-1.1zM29 35h1.1v1.2h-1.1zM42 35h3.1v1.2h-3.1zM52 35h2.1v1.2h-2.1zM59 35h1.1v1.2h-1.1zM69 35h2.1v1.2h-2.1zM43 36h4.1v1.2h-4.1zM54 36h2.1v1.2h-2.1zM57 36h2.1v1.2h-2.1zM69 36h1.1v1.2h-1.1zM43 37h5.1v1.2h-5.1zM56 37h4.1v1.2h-4.1zM64 37h1.1v1.2h-1.1zM77 37h2.1v1.2h-2.1zM81 37h2.1v1.2h-2.1zM44 38h6.1v1.2h-6.1zM57 38h5.1v1.2h-5.1zM78 38h1.1v1.2h-1.1zM81 38h1.1v1.2h-1.1zM46 39h6.1v1.2h-6.1zM58 39h3.1v1.2h-3.1zM78 39h4.1v1.2h-4.1zM50 40h1.1v1.2h-1.1zM56 40h5.1v1.2h-5.1zM62 40h1.1v1.2h-1.1zM65 40h1.1v1.2h-1.1zM67 40h1.1v1.2h-1.1zM79 40h2.1v1.2h-2.1zM55 41h6.1v1.2h-6.1zM65 41h3.1v1.2h-3.1zM58 42h4.1v1.2h-4.1zM65 42h2.1v1.2h-2.1zM82 42h1.1v1.2h-1.1zM60 43h3.1v1.2h-3.1zM66 43h1.1v1.2h-1.1zM81 43h3.1v1.2h-3.1zM65 44h3.1v1.2h-3.1zM77 44h2.1v1.2h-2.1zM64 45h3.1v1.2h-3.1zM71 45h1.1v1.2h-1.1zM77 45h2.1v1.2h-2.1zM62 46h2.1v1.2h-2.1zM65 46h3.1v1.2h-3.1zM73 46h1.1v1.2h-1.1zM77 46h1.1v1.2h-1.1zM60 47h2.1v1.2h-2.1zM65 47h4.1v1.2h-4.1zM73 47h1.1v1.2h-1.1zM75 47h3.1v1.2h-3.1zM80 47h3.1v1.2h-3.1zM86 47h1.1v1.2h-1.1zM60 48h2.1v1.2h-2.1zM65 48h5.1v1.2h-5.1zM72 48h8.1v1.2h-8.1zM81 48h3.1v1.2h-3.1zM86 48h1.1v1.2h-1.1zM64 49h3.1v1.2h-3.1zM68 49h7.1v1.2h-7.1zM80 49h1.1v1.2h-1.1zM83 49h1.1v1.2h-1.1zM86 49h1.1v1.2h-1.1zM62 50h2.1v1.2h-2.1zM65 50h1.1v1.2h-1.1zM69 50h6.1v1.2h-6.1zM63 51h1.1v1.2h-1.1zM66 51h3.1v1.2h-3.1zM75 51h1.1v1.2h-1.1zM84 51h2.1v1.2h-2.1zM62 52h2.1v1.2h-2.1zM66 52h2.1v1.2h-2.1zM69 52h1.1v1.2h-1.1zM72 52h2.1v1.2h-2.1zM83 52h1.1v1.2h-1.1zM58 53h1.1v1.2h-1.1zM61 53h3.1v1.2h-3.1zM65 53h2.1v1.2h-2.1zM73 53h2.1v1.2h-2.1zM83 53h1.1v1.2h-1.1zM58 54h2.1v1.2h-2.1zM65 54h3.1v1.2h-3.1zM74 54h1.1v1.2h-1.1zM83 54h2.1v1.2h-2.1zM57 55h5.1v1.2h-5.1zM65 55h3.1v1.2h-3.1zM83 55h2.1v1.2h-2.1zM55 56h8.1v1.2h-8.1zM67 56h1.1v1.2h-1.1zM78 56h2.1v1.2h-2.1zM83 56h2.1v1.2h-2.1zM54 57h10.1v1.2h-10.1zM77 57h3.1v1.2h-3.1zM83 57h1.1v1.2h-1.1zM52 58h12.1v1.2h-12.1zM77 58h3.1v1.2h-3.1zM83 58h1.1v1.2h-1.1zM51 59h14.1v1.2h-14.1zM77 59h3.1v1.2h-3.1zM50 60h15.1v1.2h-15.1zM78 60h2.1v1.2h-2.1zM50 61h13.1v1.2h-13.1zM64 61h2.1v1.2h-2.1zM51 62h11.1v1.2h-11.1zM66 62h1.1v1.2h-1.1zM51 63h11.1v1.2h-11.1zM65 63h3.1v1.2h-3.1zM75 63h1.1v1.2h-1.1zM52 64h5.1v1.2h-5.1zM67 64h3.1v1.2h-3.1zM73 64h3.1v1.2h-3.1zM53 65h3.1v1.2h-3.1zM65 65h1.1v1.2h-1.1zM67 65h2.1v1.2h-2.1zM70 65h1.1v1.2h-1.1zM68 66h2.1v1.2h-2.1zM70 69h1.1v1.2h-1.1zM68 71h1.1v1.2h-1.1zM70 71h1.1v1.2h-1.1z"/>
<path fill="#efd4a3" d="M91 20h2.1v1.2h-2.1zM90 21h3.1v1.2h-3.1zM91 22h2.1v1.2h-2.1zM45 26h1.1v1.2h-1.1zM32 27h3.1v1.2h-3.1zM47 27h1.1v1.2h-1.1zM23 28h1.1v1.2h-1.1zM49 28h1.1v1.2h-1.1zM22 29h4.1v1.2h-4.1zM48 29h3.1v1.2h-3.1zM22 30h4.1v1.2h-4.1zM49 30h2.1v1.2h-2.1zM41 34h2.1v1.2h-2.1zM42 35h3.1v1.2h-3.1zM43 36h4.1v1.2h-4.1zM43 37h5.1v1.2h-5.1zM44 38h6.1v1.2h-6.1zM46 39h6.1v1.2h-6.1zM50 40h1.1v1.2h-1.1zM56 40h3.1v1.2h-3.1zM55 41h6.1v1.2h-6.1zM58 42h4.1v1.2h-4.1zM60 43h3.1v1.2h-3.1zM57 55h3.1v1.2h-3.1zM55 56h6.1v1.2h-6.1zM54 57h7.1v1.2h-7.1zM52 58h9.1v1.2h-9.1zM51 59h11.1v1.2h-11.1zM50 60h11.1v1.2h-11.1zM50 61h11.1v1.2h-11.1zM51 62h10.1v1.2h-10.1zM51 63h9.1v1.2h-9.1zM52 64h5.1v1.2h-5.1zM53 65h3.1v1.2h-3.1z"/>
<path fill="#eebd83" d="M91 21h2.1v1.2h-2.1zM91 22h1.1v1.2h-1.1zM45 26h1.1v1.2h-1.1zM32 27h3.1v1.2h-3.1zM47 27h1.1v1.2h-1.1zM49 29h1.1v1.2h-1.1zM41 34h2.1v1.2h-2.1zM42 35h3.1v1.2h-3.1zM43 36h4.1v1.2h-4.1zM43 37h5.1v1.2h-5.1zM44 38h6.1v1.2h-6.1zM46 39h6.1v1.2h-6.1zM50 40h1.1v1.2h-1.1zM56 40h3.1v1.2h-3.1zM55 41h6.1v1.2h-6.1zM58 42h4.1v1.2h-4.1zM60 43h3.1v1.2h-3.1zM57 55h2.1v1.2h-2.1zM55 56h5.1v1.2h-5.1zM54 57h7.1v1.2h-7.1zM52 58h9.1v1.2h-9.1zM51 59h10.1v1.2h-10.1zM51 60h10.1v1.2h-10.1zM51 61h10.1v1.2h-10.1zM51 62h9.1v1.2h-9.1zM51 63h8.1v1.2h-8.1zM52 64h5.1v1.2h-5.1zM53 65h3.1v1.2h-3.1z"/>
<path fill="#eba273" d="M91 21h1.1v1.2h-1.1zM91 22h1.1v1.2h-1.1zM45 26h1.1v1.2h-1.1zM32 27h3.1v1.2h-3.1zM47 27h1.1v1.2h-1.1zM41 34h2.1v1.2h-2.1zM42 35h3.1v1.2h-3.1zM43 36h4.1v1.2h-4.1zM43 37h5.1v1.2h-5.1zM44 38h6.1v1.2h-6.1zM46 39h6.1v1.2h-6.1zM50 40h1.1v1.2h-1.1zM56 40h3.1v1.2h-3.1zM55 41h6.1v1.2h-6.1zM58 42h4.1v1.2h-4.1zM60 43h3.1v1.2h-3.1zM55 56h4.1v1.2h-4.1zM54 57h6.1v1.2h-6.1zM52 58h9.1v1.2h-9.1zM52 59h9.1v1.2h-9.1zM52 60h8.1v1.2h-8.1zM52 61h8.1v1.2h-8.1zM52 62h7.1v1.2h-7.1zM52 63h5.1v1.2h-5.1zM53 64h3.1v1.2h-3.1z"/>
<path fill="#e5705a" d="M45 26h1.1v1.2h-1.1zM32 27h3.1v1.2h-3.1zM47 27h1.1v1.2h-1.1zM41 34h2.1v1.2h-2.1zM42 35h3.1v1.2h-3.1zM43 36h4.1v1.2h-4.1zM43 37h5.1v1.2h-5.1zM44 38h6.1v1.2h-6.1zM46 39h6.1v1.2h-6.1zM50 40h1.1v1.2h-1.1zM56 40h3.1v1.2h-3.1zM55 41h6.1v1.2h-6.1zM58 42h4.1v1.2h-4.1zM60 43h3.1v1.2h-3.1zM56 56h3.1v1.2h-3.1zM54 57h6.1v1.2h-6.1zM53 58h7.1v1.2h-7.1zM53 59h7.1v1.2h-7.1zM52 60h8.1v1.2h-8.1zM52 61h8.1v1.2h-8.1zM53 62h6.1v1.2h-6.1zM53 63h3.1v1.2h-3.1z"/>
<path fill="#dc4b3f" d="M45 26h1.1v1.2h-1.1zM32 27h3.1v1.2h-3.1zM47 27h1.1v1.2h-1.1zM41 34h2.1v1.2h-2.1zM42 35h3.1v1.2h-3.1zM43 36h4.1v1.2h-4.1zM43 37h5.1v1.2h-5.1zM44 38h6.1v1.2h-6.1zM46 39h6.1v1.2h-6.1zM50 40h1.1v1.2h-1.1zM56 40h3.1v1.2h-3.1zM55 41h6.1v1.2h-6.1zM58 42h4.1v1.2h-4.1zM60 43h3.1v1.2h-3.1zM57 56h1.1v1.2h-1.1zM55 57h4.1v1.2h-4.1zM54 58h6.1v1.2h-6.1zM53 59h7.1v1.2h-7.1zM53 60h7.1v1.2h-7.1zM53 61h6.1v1.2h-6.1zM54 62h4.1v1.2h-4.1z"/>
<path fill="#cd2a22" d="M45 26h1.1v1.2h-1.1zM32 27h3.1v1.2h-3.1zM47 27h1.1v1.2h-1.1zM41 34h2.1v1.2h-2.1zM42 35h3.1v1.2h-3.1zM43 36h4.1v1.2h-4.1zM43 37h5.1v1.2h-5.1zM44 38h6.1v1.2h-6.1zM46 39h6.1v1.2h-6.1zM50 40h1.1v1.2h-1.1zM56 40h3.1v1.2h-3.1zM55 41h6.1v1.2h-6.1zM58 42h4.1v1.2h-4.1zM60 43h3.1v1.2h-3.1zM55 57h4.1v1.2h-4.1zM55 58h5.1v1.2h-5.1zM54 59h6.1v1.2h-6.1zM54 60h6.1v1.2h-6.1zM54 61h5.1v1.2h-5.1z"/>
<path fill="#b31b17" d="M45 26h1.1v1.2h-1.1zM32 27h3.1v1.2h-3.1zM47 27h1.1v1.2h-1.1zM41 34h2.1v1.2h-2.1zM42 35h3.1v1.2h-3.1zM43 36h4.1v1.2h-4.1zM43 37h5.1v1.2h-5.1zM44 38h6.1v1.2h-6.1zM46 39h6.1v1.2h-6.1zM50 40h1.1v1.2h-1.1zM56 40h3.1v1.2h-3.1zM55 41h6.1v1.2h-6.1zM58 42h4.1v1.2h-4.1zM60 43h3.1v1.2h-3.1zM56 57h3.1v1.2h-3.1zM55 58h4.1v1.2h-4.1zM54 59h6.1v1.2h-6.1zM54 60h5.1v1.2h-5.1zM55 61h4.1v1.2h-4.1z"/>
<path fill="#941310" d="M45 26h1.1v1.2h-1.1zM32 27h2.1v1.2h-2.1zM47 27h1.1v1.2h-1.1zM41 34h2.1v1.2h-2.1zM42 35h3.1v1.2h-3.1zM43 36h3.1v1.2h-3.1zM45 37h3.1v1.2h-3.1zM45 38h5.1v1.2h-5.1zM46 39h6.1v1.2h-6.1zM56 40h1.1v1.2h-1.1zM55 41h5.1v1.2h-5.1zM58 42h1.1v1.2h-1.1zM56 57h3.1v1.2h-3.1zM55 58h4.1v1.2h-4.1zM55 59h4.1v1.2h-4.1zM55 60h4.1v1.2h-4.1zM56 61h2.1v1.2h-2.1z"/>
<path fill="#7b0f0c" d="M41 34h2.1v1.2h-2.1zM42 35h3.1v1.2h-3.1zM47 38h2.1v1.2h-2.1zM47 39h2.1v1.2h-2.1zM51 39h1.1v1.2h-1.1zM55 41h4.1v1.2h-4.1zM58 42h1.1v1.2h-1.1zM57 57h1.1v1.2h-1.1zM56 58h3.1v1.2h-3.1zM55 59h4.1v1.2h-4.1zM55 60h4.1v1.2h-4.1z"/>
</g>
<path d="M44.2 40.2h1.3v1.3h-1.3zM32.7 46.6h1.3v1.3h-1.3zM35.7 50.2h1.3v1.3h-1.3zM38.0 52.1h1.3v1.3h-1.3zM40.7 54.1h1.3v1.3h-1.3zM47.1 54.1h1.3v1.3h-1.3zM51.7 53.0h1.3v1.3h-1.3zM54.3 52.5h1.3v1.3h-1.3zM56.5 51.8h1.3v1.3h-1.3zM58.6 50.8h1.3v1.3h-1.3zM61.0 50.5h1.3v1.3h-1.3zM62.9 50.5h1.3v1.3h-1.3zM65.8 50.7h1.3v1.3h-1.3zM68.4 51.0h1.3v1.3h-1.3zM45.7 36.7h1.3v1.3h-1.3zM66.2 29.9h1.3v1.3h-1.3zM58.9 24.4h1.3v1.3h-1.3z" fill="#8f1410"/>
</g>
<use href="#chj" fill="none" stroke="#000" stroke-width="1.1" stroke-linejoin="round"/>
<use href="#cst" fill="none" stroke="#000" stroke-width="1.7" stroke-linejoin="round"/>
<ellipse cx="103.4" cy="105.7" rx="2.9" ry="2.8" fill="none" stroke="#000" stroke-width="0.9"/>
<use href="#sea"/>
</g>
<rect x="636.2" y="254.0" width="31.3" height="41.7" fill="#fff"/>
<path d="M636.3 254.1L636.3 259.0L639.8 260.8L642.8 261.5L643.8 263.3L644.4 261.5L647.7 261.1L652.6 259.4L656.6 257.4L660.5 254.9L660.5 254.1z" fill="#f7edd8"/>
<path d="M646.7 257.8h1.6v1.4h-1.6zM650.7 255.0h1.6v1.4h-1.6zM637.1 256.0h1.6v1.4h-1.6zM642.5 258.6h1.6v1.4h-1.6zM651.2 257.2h1.6v1.4h-1.6zM648.4 257.7h1.6v1.4h-1.6zM639.9 256.5h1.6v1.4h-1.6zM640.2 258.9h1.6v1.4h-1.6zM638.1 258.2h1.6v1.4h-1.6zM638.4 257.6h1.6v1.4h-1.6zM643.8 256.5h1.6v1.4h-1.6zM654.3 254.3h1.6v1.4h-1.6zM647.4 254.7h1.6v1.4h-1.6zM657.3 258.2h1.6v1.4h-1.6zM639.2 256.4h1.6v1.4h-1.6z" fill="#f5e7cb"/>
<path d="M636.3 259.0L639.8 260.8L642.8 261.5L643.8 263.3L644.4 261.5L647.7 261.1L652.6 259.4L656.6 257.4L660.5 254.9" fill="none" stroke="#000" stroke-width="1.4" stroke-linejoin="round"/>
<ellipse cx="643.3" cy="265.1" rx="1.5" ry="1.5" fill="#fff" stroke="#000" stroke-width="0.7"/>
<path d="M659.7 256.6L662.0 255.6L662.7 258.4L662.3 261.9L661.0 259.9z" fill="#fff" stroke="#000" stroke-width="0.8" stroke-linejoin="round"/>
<path d="M648.5 264.5L650.7 265.1M659.5 264.8L660.1 266.9M642.6 270.0L643.2 270.6M646.2 268.3L648.3 270.0M650.7 270.5L652.2 270.0M654.4 268.8L655.0 269.4M656.6 271.2L658.9 270.4M652.4 273.0L653.2 273.6M644.3 275.9L644.7 277.7M658.1 270.0L658.7 271.6M641.3 284.6L642.8 283.5M643.8 282.5L646.2 281.1M647.2 280.6L649.2 279.1M652.6 279.1L655.1 278.1M656.1 277.6L659.0 276.1M647.7 286.0L649.2 287.0M647.2 289.4L648.7 290.0M651.6 283.5L653.2 284.0M650.2 277.6L650.9 280.1M650.9 280.1L651.8 282.0M651.3 277.9L652.4 281.3M649.2 281.1L651.6 279.6M649.9 282.5L652.6 281.3" stroke="#000" stroke-width="0.9" fill="none" stroke-linecap="round"/>
<path class="fr" d="M636.2 295.7V254.0H667.5"/>
<rect class="fr" x="485.5" y="177.7" width="182.2" height="117.7"/>
<rect x="75.5" y="308.2" width="564.0" height="22.9" fill="url(#cb)"/>
<path d="M77.0 308.2H75.5L47 319.6L75.5 331.1H77.0z" fill="#1d3770"/>
<path d="M638.0 308.2H639.5L667.5 319.6L639.5 331.1H638.0z" fill="#7b0f0c"/>
<path d="M75.5 308.2H639.5L667.5 319.6L639.5 331.1H75.5L47 319.6z" fill="none" stroke="#111" stroke-width="0.7"/>
<path class="tm" d="M75.5 331.1v2.6"/>
<text class="tt" x="75.5" y="348.7" text-anchor="middle" style="font-size:17.4px">-100</text>
<path class="tm" d="M169.5 331.1v2.6"/>
<text class="tt" x="169.5" y="348.7" text-anchor="middle" style="font-size:17.4px">0</text>
<path class="tm" d="M263.5 331.1v2.6"/>
<text class="tt" x="263.5" y="348.7" text-anchor="middle" style="font-size:17.4px">100</text>
<path class="tm" d="M357.5 331.1v2.6"/>
<text class="tt" x="357.5" y="348.7" text-anchor="middle" style="font-size:17.4px">200</text>
<path class="tm" d="M451.5 331.1v2.6"/>
<text class="tt" x="451.5" y="348.7" text-anchor="middle" style="font-size:17.4px">300</text>
<path class="tm" d="M545.5 331.1v2.6"/>
<text class="tt" x="545.5" y="348.7" text-anchor="middle" style="font-size:17.4px">400</text>
<path class="tm" d="M639.5 331.1v2.6"/>
<text class="tt" x="639.5" y="348.7" text-anchor="middle" style="font-size:17.4px">500</text>
<text class="tt" x="667.4" y="323.9" style="font-size:18.6px" textLength="18.0" lengthAdjust="spacingAndGlyphs">%</text>
<clipPath id="cc00"><rect x="47.4" y="377.4" width="182.5" height="117.6"/></clipPath>
<g clip-path="url(#cc00)">
<path d="M119.1 465.3L120.4 456.8L121.7 454.5L123.0 455.9L124.3 462.8L125.6 453.4L126.9 445.6L128.2 450.9L129.5 458.6L130.8 459.5L132.1 452.0L133.4 450.9L134.7 446.6L136.0 447.2L137.3 451.4L138.7 436.4L140.0 442.0L141.3 446.6L142.6 450.3L143.9 451.4L145.2 445.2L146.5 446.8L147.8 444.9L149.1 444.3L150.4 444.7L151.7 443.0L153.0 436.2L154.3 429.7L155.6 447.9L156.9 439.1L158.2 446.1L159.5 441.5L160.8 440.0L162.1 432.3L163.4 438.9L164.7 440.9L166.0 429.4L167.3 439.0L168.6 436.3L169.9 440.5L171.2 439.1L172.5 436.1L173.8 434.6L175.2 435.9L176.5 429.3L177.8 436.2L179.1 432.5L180.4 439.5L181.7 410.6L183.0 438.1L184.3 426.9L185.6 431.9L186.9 432.7L188.2 438.4L189.5 430.2L190.8 434.2L192.1 426.6L193.4 429.8L194.7 418.5L196.0 439.4L197.3 434.5L198.6 432.0L199.9 430.3L201.2 436.8L202.5 434.0L203.8 430.1L205.1 435.7L206.4 437.4L207.7 433.6L209.0 438.9L210.3 440.3L211.7 439.2L213.0 432.7L214.3 413.1L215.6 431.1L216.9 434.2L218.2 429.8L219.5 438.3L220.8 439.3L222.1 437.8L223.4 427.1L224.7 439.8L226.0 442.5L227.3 435.4L228.6 437.9L229.9 437.4L229.9 478.0L228.6 469.2L227.3 464.4L226.0 473.4L224.7 471.7L223.4 470.3L222.1 469.3L220.8 472.5L219.5 470.3L218.2 466.0L216.9 465.4L215.6 468.4L214.3 461.5L213.0 468.0L211.7 469.3L210.3 473.4L209.0 472.6L207.7 470.5L206.4 465.3L205.1 468.2L203.8 469.5L202.5 464.7L201.2 466.4L199.9 463.3L198.6 461.1L197.3 464.4L196.0 465.9L194.7 463.3L193.4 463.3L192.1 458.6L190.8 462.9L189.5 460.2L188.2 466.6L186.9 460.0L185.6 464.1L184.3 461.5L183.0 465.1L181.7 461.0L180.4 469.0L179.1 462.1L177.8 468.6L176.5 463.3L175.2 473.8L173.8 463.3L172.5 462.7L171.2 469.3L169.9 468.2L168.6 463.0L167.3 462.9L166.0 454.0L164.7 468.9L163.4 468.5L162.1 468.2L160.8 474.6L159.5 468.9L158.2 473.1L156.9 467.1L155.6 474.0L154.3 471.1L153.0 469.1L151.7 469.9L150.4 469.5L149.1 470.6L147.8 473.1L146.5 469.9L145.2 471.8L143.9 476.4L142.6 474.5L141.3 473.2L140.0 463.4L138.7 475.0L137.3 474.0L136.0 471.9L134.7 476.3L133.4 476.6L132.1 473.9L130.8 483.2L129.5 480.9L128.2 472.1L126.9 475.3L125.6 480.4L124.3 485.8L123.0 479.7L121.7 475.0L120.4 477.5L119.1 482.8z" fill="#0000ff" fill-opacity="0.33" stroke="#0000ff" stroke-opacity="0.35" stroke-width="0.8" stroke-linejoin="round"/>
<path d="M119.1 463.2L120.4 467.0L121.7 465.6L123.0 458.5L124.3 462.1L125.6 456.5L126.9 453.8L128.2 450.0L129.5 458.1L130.8 448.1L132.1 452.1L133.4 460.4L134.7 453.6L136.0 454.1L137.3 441.4L138.7 448.2L140.0 442.2L141.3 454.6L142.6 447.7L143.9 449.3L145.2 445.4L146.5 447.5L147.8 445.8L149.1 442.0L150.4 436.9L151.7 436.3L153.0 445.9L154.3 445.3L155.6 439.5L156.9 417.2L158.2 432.2L159.5 432.9L160.8 441.5L162.1 428.7L163.4 436.5L164.7 433.0L166.0 429.1L167.3 435.3L168.6 435.4L169.9 435.8L171.2 433.1L172.5 429.8L173.8 437.0L175.2 436.5L176.5 417.9L177.8 426.5L179.1 420.8L180.4 425.3L181.7 425.8L183.0 418.7L184.3 425.2L185.6 415.3L186.9 430.1L188.2 418.9L189.5 419.0L190.8 422.9L192.1 407.6L193.4 406.3L194.7 413.7L196.0 416.7L197.3 419.8L198.6 424.4L199.9 404.3L201.2 414.4L202.5 400.4L203.8 414.0L205.1 414.8L206.4 394.0L207.7 415.2L209.0 413.6L210.3 408.3L211.7 414.3L213.0 411.0L214.3 394.3L215.6 408.8L216.9 407.8L218.2 405.9L219.5 417.0L220.8 412.6L222.1 402.5L223.4 405.7L224.7 395.1L226.0 408.5L227.3 402.5L228.6 391.2L229.9 405.0L229.9 445.2L228.6 448.9L227.3 446.8L226.0 446.5L224.7 452.6L223.4 445.9L222.1 440.4L220.8 451.2L219.5 458.1L218.2 450.1L216.9 445.1L215.6 457.6L214.3 452.2L213.0 458.0L211.7 450.6L210.3 449.1L209.0 451.1L207.7 451.8L206.4 447.7L205.1 452.4L203.8 447.3L202.5 451.2L201.2 451.8L199.9 446.5L198.6 462.7L197.3 467.6L196.0 459.8L194.7 460.6L193.4 460.9L192.1 453.3L190.8 464.0L189.5 454.8L188.2 460.2L186.9 462.8L185.6 452.9L184.3 466.4L183.0 466.0L181.7 461.3L180.4 460.3L179.1 461.6L177.8 458.6L176.5 468.8L175.2 467.3L173.8 469.3L172.5 473.5L171.2 464.4L169.9 474.8L168.6 469.4L167.3 466.4L166.0 463.3L164.7 469.1L163.4 474.7L162.1 474.5L160.8 478.7L159.5 474.0L158.2 473.4L156.9 460.2L155.6 469.5L154.3 473.8L153.0 473.9L151.7 470.1L150.4 470.0L149.1 472.3L147.8 473.4L146.5 472.0L145.2 475.5L143.9 477.2L142.6 473.7L141.3 479.0L140.0 475.3L138.7 479.8L137.3 470.2L136.0 478.5L134.7 474.8L133.4 482.0L132.1 475.4L130.8 469.8L129.5 477.4L128.2 477.7L126.9 474.2L125.6 485.4L124.3 483.1L123.0 482.1L121.7 484.1L120.4 486.4L119.1 488.5z" fill="#228b22" fill-opacity="0.33" stroke="#228b22" stroke-opacity="0.35" stroke-width="0.8" stroke-linejoin="round"/>
<path d="M119.1 463.5L120.4 446.8L121.7 448.2L123.0 446.8L124.3 440.7L125.6 447.8L126.9 457.6L128.2 456.0L129.5 454.5L130.8 449.2L132.1 440.1L133.4 452.9L134.7 449.2L136.0 451.3L137.3 442.8L138.7 442.0L140.0 448.0L141.3 436.7L142.6 443.1L143.9 431.7L145.2 442.0L146.5 431.0L147.8 442.3L149.1 438.5L150.4 434.5L151.7 437.3L153.0 424.5L154.3 433.2L155.6 439.0L156.9 439.2L158.2 428.3L159.5 439.8L160.8 438.7L162.1 408.9L163.4 431.3L164.7 421.0L166.0 415.4L167.3 410.1L168.6 423.8L169.9 424.1L171.2 429.3L172.5 427.5L173.8 428.8L175.2 426.1L176.5 428.4L177.8 419.1L179.1 408.3L180.4 414.9L181.7 420.5L183.0 417.2L184.3 404.1L185.6 415.9L186.9 416.7L188.2 414.6L189.5 415.3L190.8 415.7L192.1 414.4L193.4 410.4L194.7 426.6L196.0 400.2L197.3 402.1L198.6 418.1L199.9 415.6L201.2 407.6L202.5 416.8L203.8 410.8L205.1 389.7L206.4 408.7L207.7 408.4L209.0 399.5L210.3 397.3L211.7 382.4L213.0 403.8L214.3 402.0L215.6 404.5L216.9 404.6L218.2 383.6L219.5 398.6L220.8 395.4L222.1 388.5L223.4 386.3L224.7 389.3L226.0 400.6L227.3 400.2L228.6 390.2L229.9 401.1L229.9 446.9L228.6 439.0L227.3 444.7L226.0 439.9L224.7 432.7L223.4 432.1L222.1 439.1L220.8 440.9L219.5 446.5L218.2 442.9L216.9 447.8L215.6 443.0L214.3 451.9L213.0 445.9L211.7 440.0L210.3 449.0L209.0 442.7L207.7 456.0L206.4 457.4L205.1 456.7L203.8 454.9L202.5 461.6L201.2 447.0L199.9 456.0L198.6 456.7L197.3 447.1L196.0 455.3L194.7 467.5L193.4 460.1L192.1 464.0L190.8 463.8L189.5 459.2L188.2 451.8L186.9 459.8L185.6 460.1L184.3 448.1L183.0 457.8L181.7 458.9L180.4 460.2L179.1 465.8L177.8 466.9L176.5 464.6L175.2 460.8L173.8 462.1L172.5 465.1L171.2 463.3L169.9 457.3L168.6 457.5L167.3 458.8L166.0 461.5L164.7 462.8L163.4 463.3L162.1 461.8L160.8 468.9L159.5 476.3L158.2 477.0L156.9 470.1L155.6 470.2L154.3 467.1L153.0 457.3L151.7 466.3L150.4 470.6L149.1 468.8L147.8 470.2L146.5 474.8L145.2 466.5L143.9 464.3L142.6 469.8L141.3 462.8L140.0 474.0L138.7 466.5L137.3 467.5L136.0 484.9L134.7 474.7L133.4 478.6L132.1 467.5L130.8 478.6L129.5 478.3L128.2 481.9L126.9 486.6L125.6 475.5L124.3 471.0L123.0 471.0L121.7 469.6L120.4 476.2L119.1 481.6z" fill="#ff0000" fill-opacity="0.34" stroke="#ff0000" stroke-opacity="0.35" stroke-width="0.8" stroke-linejoin="round"/>
<path d="M119.1 473.2L120.4 468.3L121.7 465.3L123.0 469.1L124.3 471.9L125.6 467.9L126.9 465.2L128.2 462.4L129.5 469.0L130.8 469.8L132.1 463.2L133.4 462.5L134.7 458.6L136.0 459.4L137.3 462.6L138.7 463.2L140.0 453.6L141.3 461.2L142.6 463.5L143.9 464.7L145.2 460.4L146.5 459.2L147.8 460.3L149.1 459.2L150.4 457.5L151.7 455.5L153.0 453.4L154.3 455.8L155.6 462.6L156.9 454.8L158.2 460.6L159.5 456.8L160.8 460.4L162.1 455.4L163.4 457.1L164.7 453.5L166.0 441.7L167.3 451.4L168.6 449.3L169.9 456.4L171.2 453.4L172.5 449.5L173.8 451.5L175.2 450.1L176.5 450.7L177.8 454.8L179.1 449.6L180.4 453.7L181.7 444.4L183.0 451.7L184.3 448.3L185.6 450.2L186.9 446.9L188.2 452.1L189.5 446.8L190.8 450.1L192.1 445.3L193.4 446.9L194.7 448.8L196.0 452.6L197.3 447.1L198.6 447.8L199.9 443.6L201.2 451.0L202.5 448.8L203.8 448.9L205.1 450.1L206.4 450.8L207.7 451.3L209.0 454.7L210.3 457.1L211.7 455.2L213.0 451.2L214.3 447.1L215.6 448.8L216.9 448.9L218.2 450.2L219.5 450.8L220.8 453.2L222.1 451.3L223.4 447.1L224.7 455.2L226.0 458.1L227.3 447.9L228.6 453.5L229.9 451.6" fill="none" stroke="#0000ff" stroke-width="1.4" stroke-linejoin="round"/>
<path d="M119.1 473.2L120.4 477.1L121.7 473.5L123.0 472.6L124.3 472.6L125.6 471.3L126.9 462.6L128.2 467.2L129.5 467.2L130.8 459.0L132.1 464.8L133.4 470.8L134.7 464.0L136.0 467.0L137.3 458.2L138.7 466.3L140.0 464.7L141.3 467.6L142.6 461.6L143.9 464.1L145.2 460.6L146.5 460.7L147.8 461.1L149.1 455.0L150.4 453.6L151.7 456.1L153.0 459.7L154.3 460.4L155.6 455.1L156.9 445.9L158.2 454.9L159.5 457.1L160.8 456.7L162.1 457.8L163.4 457.1L164.7 453.6L166.0 446.1L167.3 450.3L168.6 452.5L169.9 456.9L171.2 449.8L172.5 449.3L173.8 453.7L175.2 453.4L176.5 448.7L177.8 443.1L179.1 443.5L180.4 444.9L181.7 446.9L183.0 444.1L184.3 444.7L185.6 434.9L186.9 447.3L188.2 445.5L189.5 437.6L190.8 442.7L192.1 435.5L193.4 440.5L194.7 440.0L196.0 441.7L197.3 446.1L198.6 444.5L199.9 429.2L201.2 433.6L202.5 434.0L203.8 432.0L205.1 433.0L206.4 430.5L207.7 435.8L209.0 435.9L210.3 429.7L211.7 434.7L213.0 439.7L214.3 434.7L215.6 435.0L216.9 429.0L218.2 434.1L219.5 436.2L220.8 432.4L222.1 422.0L223.4 427.9L224.7 428.9L226.0 430.7L227.3 430.4L228.6 428.0L229.9 426.1" fill="none" stroke="#228b22" stroke-width="1.4" stroke-linejoin="round"/>
<path d="M119.1 471.0L120.4 465.1L121.7 459.8L123.0 458.5L124.3 459.5L125.6 458.4L126.9 468.4L128.2 466.1L129.5 466.8L130.8 464.7L132.1 452.7L133.4 467.0L134.7 460.0L136.0 465.4L137.3 455.6L138.7 453.8L140.0 460.2L141.3 450.3L142.6 456.4L143.9 451.8L145.2 454.6L146.5 458.1L147.8 457.4L149.1 455.7L150.4 451.9L151.7 452.9L153.0 443.1L154.3 451.8L155.6 453.8L156.9 454.7L158.2 454.6L159.5 456.9L160.8 454.8L162.1 445.6L163.4 447.4L164.7 448.2L166.0 445.5L167.3 441.3L168.6 442.1L169.9 441.0L171.2 446.4L172.5 445.3L173.8 447.0L175.2 443.6L176.5 445.9L177.8 443.7L179.1 441.9L180.4 441.3L181.7 440.9L183.0 441.4L184.3 432.3L185.6 438.3L186.9 442.0L188.2 436.1L189.5 441.0L190.8 441.2L192.1 434.9L193.4 442.1L194.7 450.5L196.0 433.6L197.3 426.7L198.6 438.9L199.9 436.2L201.2 427.7L202.5 439.1L203.8 434.5L205.1 435.0L206.4 429.3L207.7 437.2L209.0 422.8L210.3 425.5L211.7 423.0L213.0 425.4L214.3 434.9L215.6 425.2L216.9 429.6L218.2 422.4L219.5 425.5L220.8 422.5L222.1 420.9L223.4 414.6L224.7 413.1L226.0 422.2L227.3 422.4L228.6 417.6L229.9 425.8" fill="none" stroke="#ff0000" stroke-width="1.4" stroke-linejoin="round"/>
<path d="M47.6 475.6L49.1 477.1L50.5 477.4L52.6 477.4L54.3 480.3L56.1 472.1L57.5 485.5L58.8 480.3L60.2 480.9L62.5 473.3L63.9 479.7L65.1 485.0L66.6 485.0L69.3 477.4L70.9 481.5L72.1 484.4L74.2 472.7L75.9 485.0L77.7 479.7L79.5 486.1L81.0 485.5L82.4 487.3L83.8 473.9L85.3 484.4L87.6 477.4L89.1 485.0L90.3 485.0L91.7 461.6L93.1 480.3L94.6 478.5L96.4 470.4L98.1 481.5L99.9 478.0L102.2 473.9L104.6 480.3L106.9 467.4L108.6 476.2L111.0 463.4L113.3 475.0L116.2 462.8L118.0 477.4" fill="none" stroke="#000" stroke-width="1.45" stroke-linejoin="round"/>
</g>
<rect class="fr" x="47.4" y="377.4" width="182.5" height="117.6"/>
<path class="tm" d="M47.4 494.4h-3.4"/>
<text class="tk" x="41.1" y="498.1" text-anchor="end">0.0</text>
<path class="tm" d="M47.4 473.6h-3.4"/>
<text class="tk" x="41.1" y="477.3" text-anchor="end">0.2</text>
<path class="tm" d="M47.4 452.8h-3.4"/>
<text class="tk" x="41.1" y="456.5" text-anchor="end">0.4</text>
<path class="tm" d="M47.4 431.9h-3.4"/>
<text class="tk" x="41.1" y="435.6" text-anchor="end">0.6</text>
<path class="tm" d="M47.4 411.1h-3.4"/>
<text class="tk" x="41.1" y="414.8" text-anchor="end">0.8</text>
<path class="tm" d="M47.4 390.3h-3.4"/>
<text class="tk" x="41.1" y="394.0" text-anchor="end">1.0</text>
<path class="tm" d="M47.4 495.0v3.4"/>
<text class="tk" x="47.6" y="508.6" text-anchor="middle">1960</text>
<path class="tm" d="M73.5 495.0v3.4"/>
<text class="tk" x="73.7" y="508.6" text-anchor="middle">1980</text>
<path class="tm" d="M99.5 495.0v3.4"/>
<text class="tk" x="99.7" y="508.6" text-anchor="middle">2000</text>
<path class="tm" d="M125.6 495.0v3.4"/>
<text class="tk" x="125.8" y="508.6" text-anchor="middle">2020</text>
<path class="tm" d="M151.7 495.0v3.4"/>
<text class="tk" x="151.9" y="508.6" text-anchor="middle">2040</text>
<path class="tm" d="M177.8 495.0v3.4"/>
<text class="tk" x="178.0" y="508.6" text-anchor="middle">2060</text>
<path class="tm" d="M203.8 495.0v3.4"/>
<text class="tk" x="204.0" y="508.6" text-anchor="middle">2080</text>
<path class="tm" d="M229.9 495.0v3.4"/>
<text class="tk" x="230.1" y="508.6" text-anchor="middle">2100</text>
<clipPath id="cc01"><rect x="266.5" y="377.4" width="182.8" height="117.6"/></clipPath>
<g clip-path="url(#cc01)">
<path d="M338.3 471.9L339.6 475.6L340.9 474.8L342.2 475.1L343.5 477.1L344.8 475.3L346.1 474.0L347.5 474.8L348.8 471.5L350.1 473.6L351.4 469.7L352.7 471.3L354.0 471.8L355.3 473.3L356.6 471.6L357.9 474.4L359.2 474.1L360.5 472.8L361.8 473.0L363.1 471.1L364.4 471.7L365.7 472.7L367.0 472.0L368.3 471.9L369.7 468.8L371.0 463.2L372.3 468.4L373.6 470.5L374.9 467.6L376.2 470.1L377.5 468.5L378.8 467.4L380.1 470.2L381.4 468.4L382.7 469.6L384.0 467.7L385.3 466.9L386.6 467.4L387.9 464.5L389.2 464.3L390.5 465.7L391.8 466.7L393.2 465.5L394.5 463.9L395.8 462.9L397.1 461.0L398.4 464.8L399.7 466.2L401.0 464.4L402.3 460.9L403.6 461.2L404.9 461.7L406.2 462.3L407.5 463.3L408.8 460.4L410.1 455.9L411.4 463.5L412.7 466.0L414.0 461.5L415.4 464.6L416.7 464.5L418.0 465.3L419.3 464.4L420.6 466.6L421.9 458.5L423.2 455.6L424.5 455.2L425.8 458.2L427.1 457.6L428.4 453.5L429.7 465.3L431.0 468.6L432.3 461.9L433.6 460.2L434.9 468.7L436.2 451.6L437.5 460.5L438.9 459.0L440.2 460.6L441.5 459.9L442.8 460.7L444.1 460.8L445.4 464.8L446.7 462.8L448.0 456.0L449.3 459.6L449.3 487.2L448.0 480.9L446.7 486.5L445.4 487.7L444.1 485.9L442.8 483.4L441.5 483.7L440.2 482.4L438.9 485.5L437.5 484.8L436.2 490.6L434.9 490.0L433.6 487.2L432.3 481.2L431.0 491.2L429.7 484.3L428.4 480.8L427.1 478.8L425.8 480.4L424.5 478.3L423.2 479.9L421.9 478.8L420.6 487.0L419.3 487.6L418.0 487.7L416.7 486.4L415.4 481.9L414.0 480.9L412.7 483.3L411.4 481.5L410.1 479.1L408.8 481.8L407.5 481.9L406.2 480.5L404.9 481.8L403.6 482.0L402.3 484.0L401.0 486.7L399.7 482.8L398.4 489.0L397.1 478.6L395.8 481.0L394.5 483.1L393.2 481.5L391.8 480.7L390.5 481.6L389.2 480.8L387.9 480.8L386.6 483.9L385.3 481.9L384.0 482.0L382.7 483.7L381.4 481.1L380.1 483.2L378.8 481.2L377.5 482.2L376.2 484.3L374.9 485.0L373.6 484.0L372.3 483.8L371.0 484.8L369.7 484.3L368.3 485.4L367.0 484.5L365.7 485.7L364.4 482.8L363.1 484.6L361.8 483.6L360.5 484.6L359.2 485.4L357.9 485.3L356.6 483.6L355.3 483.4L354.0 483.1L352.7 483.0L351.4 483.8L350.1 483.8L348.8 483.5L347.5 486.3L346.1 485.2L344.8 485.4L343.5 486.1L342.2 485.4L340.9 485.3L339.6 486.3L338.3 485.2z" fill="#0000ff" fill-opacity="0.33" stroke="#0000ff" stroke-opacity="0.35" stroke-width="0.8" stroke-linejoin="round"/>
<path d="M338.3 475.0L339.6 475.8L340.9 473.1L342.2 475.0L343.5 472.1L344.8 472.9L346.1 473.7L347.5 474.7L348.8 470.1L350.1 472.4L351.4 469.8L352.7 474.5L354.0 470.2L355.3 465.5L356.6 471.1L357.9 467.3L359.2 462.5L360.5 461.0L361.8 465.5L363.1 465.2L364.4 463.4L365.7 465.6L367.0 459.5L368.3 462.1L369.7 461.0L371.0 458.8L372.3 460.5L373.6 459.8L374.9 457.0L376.2 457.4L377.5 460.6L378.8 446.6L380.1 458.9L381.4 459.6L382.7 452.6L384.0 457.3L385.3 453.4L386.6 454.8L387.9 450.9L389.2 449.3L390.5 449.3L391.8 448.9L393.2 451.4L394.5 457.0L395.8 451.9L397.1 456.0L398.4 443.0L399.7 442.3L401.0 447.5L402.3 448.8L403.6 451.2L404.9 445.7L406.2 440.9L407.5 445.4L408.8 446.1L410.1 441.3L411.4 432.1L412.7 441.3L414.0 442.2L415.4 439.9L416.7 433.0L418.0 433.4L419.3 428.3L420.6 425.9L421.9 435.9L423.2 432.5L424.5 435.2L425.8 433.4L427.1 434.3L428.4 430.5L429.7 435.5L431.0 425.9L432.3 416.5L433.6 428.7L434.9 427.7L436.2 409.9L437.5 422.9L438.9 422.4L440.2 416.1L441.5 419.2L442.8 415.6L444.1 412.4L445.4 391.3L446.7 399.4L448.0 394.3L449.3 417.2L449.3 464.0L448.0 462.5L446.7 459.9L445.4 457.0L444.1 455.4L442.8 461.9L441.5 466.7L440.2 454.5L438.9 466.9L437.5 460.6L436.2 462.0L434.9 469.6L433.6 466.8L432.3 468.2L431.0 470.9L429.7 473.8L428.4 467.1L427.1 472.7L425.8 477.9L424.5 469.2L423.2 478.5L421.9 472.6L420.6 466.6L419.3 462.1L418.0 475.8L416.7 468.3L415.4 471.6L414.0 474.2L412.7 475.6L411.4 468.4L410.1 473.0L408.8 482.4L407.5 478.1L406.2 470.4L404.9 476.1L403.6 479.1L402.3 480.7L401.0 481.8L399.7 478.3L398.4 477.2L397.1 481.6L395.8 478.3L394.5 482.4L393.2 477.0L391.8 476.1L390.5 481.6L389.2 495.7L387.9 475.8L386.6 481.4L385.3 477.0L384.0 483.3L382.7 480.6L381.4 483.2L380.1 481.0L378.8 477.5L377.5 481.5L376.2 482.4L374.9 481.8L373.6 482.7L372.3 481.0L371.0 483.0L369.7 484.0L368.3 483.0L367.0 481.3L365.7 483.0L364.4 484.6L363.1 482.5L361.8 484.6L360.5 484.5L359.2 484.3L357.9 484.1L356.6 486.5L355.3 490.3L354.0 485.0L352.7 486.8L351.4 484.7L350.1 485.2L348.8 485.9L347.5 488.6L346.1 488.0L344.8 487.0L343.5 482.8L342.2 487.0L340.9 485.9L339.6 487.3L338.3 484.6z" fill="#228b22" fill-opacity="0.33" stroke="#228b22" stroke-opacity="0.35" stroke-width="0.8" stroke-linejoin="round"/>
<path d="M338.3 476.9L339.6 475.5L340.9 473.9L342.2 474.2L343.5 471.7L344.8 472.6L346.1 468.3L347.5 468.8L348.8 471.0L350.1 468.3L351.4 464.0L352.7 467.0L354.0 466.4L355.3 457.5L356.6 467.7L357.9 465.3L359.2 461.0L360.5 461.5L361.8 457.0L363.1 451.9L364.4 463.9L365.7 460.0L367.0 459.3L368.3 459.4L369.7 455.1L371.0 459.0L372.3 454.0L373.6 449.3L374.9 446.9L376.2 453.7L377.5 446.4L378.8 453.2L380.1 450.8L381.4 453.0L382.7 448.8L384.0 450.5L385.3 449.0L386.6 430.7L387.9 430.6L389.2 441.9L390.5 439.3L391.8 444.1L393.2 440.9L394.5 423.0L395.8 431.0L397.1 430.5L398.4 441.4L399.7 434.7L401.0 437.3L402.3 440.4L403.6 430.4L404.9 425.4L406.2 425.4L407.5 429.0L408.8 432.0L410.1 422.6L411.4 413.3L412.7 425.7L414.0 418.5L415.4 411.0L416.7 409.2L418.0 426.4L419.3 412.3L420.6 419.0L421.9 412.4L423.2 408.2L424.5 414.1L425.8 422.1L427.1 397.7L428.4 410.8L429.7 407.8L431.0 400.5L432.3 400.8L433.6 401.9L434.9 403.3L436.2 399.0L437.5 407.3L438.9 393.0L440.2 387.4L441.5 395.6L442.8 387.3L444.1 388.0L445.4 389.7L446.7 387.9L448.0 392.2L449.3 389.5L449.3 446.0L448.0 438.4L446.7 436.3L445.4 436.3L444.1 435.9L442.8 438.4L441.5 444.1L440.2 445.6L438.9 439.7L437.5 453.9L436.2 447.4L434.9 453.2L433.6 441.7L432.3 448.3L431.0 443.6L429.7 445.4L428.4 457.3L427.1 453.8L425.8 464.8L424.5 458.3L423.2 450.7L421.9 456.7L420.6 457.7L419.3 461.6L418.0 467.7L416.7 455.5L415.4 453.3L414.0 460.7L412.7 469.0L411.4 466.0L410.1 463.8L408.8 470.9L407.5 462.0L406.2 465.7L404.9 467.7L403.6 465.0L402.3 474.3L401.0 472.9L399.7 468.9L398.4 477.8L397.1 467.0L395.8 471.4L394.5 477.1L393.2 472.3L391.8 472.8L390.5 475.2L389.2 472.7L387.9 474.2L386.6 468.2L385.3 480.4L384.0 478.5L382.7 481.2L381.4 477.9L380.1 479.6L378.8 480.2L377.5 474.6L376.2 478.8L374.9 478.1L373.6 477.6L372.3 479.9L371.0 483.2L369.7 481.3L368.3 481.0L367.0 483.0L365.7 484.4L364.4 483.9L363.1 481.1L361.8 480.0L360.5 481.9L359.2 484.6L357.9 481.9L356.6 485.0L355.3 480.4L354.0 482.3L352.7 483.4L351.4 480.5L350.1 482.2L348.8 484.2L347.5 482.5L346.1 481.2L344.8 484.1L343.5 485.8L342.2 485.8L340.9 484.3L339.6 486.4L338.3 486.4z" fill="#ff0000" fill-opacity="0.34" stroke="#ff0000" stroke-opacity="0.35" stroke-width="0.8" stroke-linejoin="round"/>
<path d="M338.3 479.0L339.6 481.8L340.9 480.6L342.2 480.9L343.5 481.4L344.8 481.1L346.1 480.8L347.5 480.2L348.8 479.4L350.1 478.4L351.4 479.0L352.7 478.0L354.0 478.4L355.3 478.8L356.6 479.1L357.9 479.9L359.2 480.6L360.5 478.7L361.8 478.4L363.1 477.6L364.4 477.4L365.7 479.2L367.0 478.6L368.3 478.9L369.7 476.1L371.0 477.0L372.3 476.6L373.6 477.8L374.9 478.3L376.2 477.2L377.5 476.3L378.8 475.1L380.1 477.6L381.4 475.2L382.7 476.3L384.0 475.8L385.3 475.3L386.6 475.2L387.9 473.7L389.2 472.7L390.5 473.1L391.8 474.3L393.2 472.9L394.5 472.5L395.8 471.6L397.1 472.1L398.4 475.2L399.7 474.4L401.0 473.7L402.3 471.4L403.6 472.8L404.9 471.3L406.2 472.1L407.5 474.7L408.8 473.0L410.1 471.9L411.4 472.0L412.7 475.2L414.0 472.4L415.4 473.8L416.7 476.6L418.0 474.4L419.3 476.5L420.6 475.7L421.9 470.6L423.2 468.0L424.5 470.2L425.8 471.8L427.1 469.4L428.4 471.9L429.7 474.9L431.0 478.2L432.3 472.4L433.6 477.7L434.9 479.7L436.2 475.9L437.5 474.0L438.9 475.6L440.2 472.1L441.5 473.9L442.8 473.7L444.1 473.2L445.4 475.3L446.7 474.1L448.0 469.6L449.3 475.7" fill="none" stroke="#0000ff" stroke-width="1.4" stroke-linejoin="round"/>
<path d="M338.3 480.5L339.6 480.4L340.9 481.5L342.2 482.0L343.5 477.4L344.8 481.5L346.1 481.7L347.5 483.8L348.8 479.1L350.1 479.0L351.4 478.9L352.7 481.0L354.0 478.5L355.3 479.2L356.6 479.7L357.9 477.9L359.2 476.4L360.5 476.7L361.8 477.1L363.1 474.5L364.4 474.8L365.7 475.8L367.0 473.7L368.3 473.7L369.7 472.1L371.0 471.7L372.3 471.5L373.6 473.9L374.9 469.7L376.2 469.4L377.5 472.5L378.8 468.5L380.1 470.2L381.4 472.7L382.7 470.4L384.0 472.8L385.3 466.8L386.6 471.6L387.9 465.0L389.2 469.6L390.5 468.1L391.8 463.7L393.2 465.2L394.5 470.5L395.8 466.8L397.1 470.6L398.4 463.7L399.7 467.0L401.0 464.4L402.3 463.6L403.6 467.1L404.9 461.7L406.2 456.1L407.5 462.9L408.8 462.5L410.1 459.0L411.4 455.3L412.7 460.9L414.0 457.9L415.4 456.4L416.7 453.4L418.0 458.7L419.3 448.0L420.6 447.3L421.9 458.3L423.2 457.6L424.5 452.8L425.8 455.0L427.1 454.4L428.4 451.8L429.7 453.4L431.0 452.7L432.3 448.9L433.6 450.0L434.9 446.7L436.2 442.9L437.5 441.5L438.9 444.6L440.2 436.7L441.5 444.5L442.8 440.0L444.1 435.0L445.4 440.1L446.7 437.7L448.0 442.0L449.3 442.4" fill="none" stroke="#228b22" stroke-width="1.4" stroke-linejoin="round"/>
<path d="M338.3 482.2L339.6 481.5L340.9 479.7L342.2 480.7L343.5 480.0L344.8 479.2L346.1 475.6L347.5 476.4L348.8 478.3L350.1 476.0L351.4 473.8L352.7 476.1L354.0 474.6L355.3 473.3L356.6 477.2L357.9 474.6L359.2 474.3L360.5 472.1L361.8 470.3L363.1 473.3L364.4 475.5L365.7 473.4L367.0 471.6L368.3 472.5L369.7 470.2L371.0 472.7L372.3 468.6L373.6 466.9L374.9 462.9L376.2 466.9L377.5 464.1L378.8 467.4L380.1 467.3L381.4 467.0L382.7 464.7L384.0 466.9L385.3 468.1L386.6 456.5L387.9 461.3L389.2 460.6L390.5 459.4L391.8 460.4L393.2 459.4L394.5 454.6L395.8 455.8L397.1 452.8L398.4 458.7L399.7 453.5L401.0 456.4L402.3 457.3L403.6 449.9L404.9 449.6L406.2 447.1L407.5 446.1L408.8 454.2L410.1 445.8L411.4 438.8L412.7 443.1L414.0 440.0L415.4 436.9L416.7 434.3L418.0 449.2L419.3 442.4L420.6 439.9L421.9 439.1L423.2 432.8L424.5 440.2L425.8 445.2L427.1 434.0L428.4 433.5L429.7 427.0L431.0 424.8L432.3 426.5L433.6 421.6L434.9 431.4L436.2 426.5L437.5 430.4L438.9 415.7L440.2 422.1L441.5 416.5L442.8 416.9L444.1 414.7L445.4 412.1L446.7 413.1L448.0 416.2L449.3 421.3" fill="none" stroke="#ff0000" stroke-width="1.4" stroke-linejoin="round"/>
<path d="M266.6 484.7L268.7 486.2L271.0 486.4L273.1 487.1L275.1 483.6L276.5 488.3L278.6 487.1L281.8 485.0L283.9 488.3L286.2 488.0L288.5 485.3L291.1 487.6L293.4 483.6L295.3 488.0L297.3 486.8L299.0 488.3L301.4 489.1L302.9 483.9L304.3 488.0L306.6 486.2L309.5 488.5L310.7 480.9L311.9 487.1L315.4 483.3L317.1 486.4L321.2 483.9L324.1 485.0L326.5 480.9L328.2 485.6L330.6 480.9L332.9 485.6L335.5 480.4L337.3 484.5" fill="none" stroke="#000" stroke-width="1.45" stroke-linejoin="round"/>
</g>
<rect class="fr" x="266.5" y="377.4" width="182.8" height="117.6"/>
<path class="tm" d="M266.5 490.5h-3.4"/>
<text class="tk" x="260.2" y="494.2" text-anchor="end">0.0</text>
<path class="tm" d="M266.5 469.2h-3.4"/>
<text class="tk" x="260.2" y="472.9" text-anchor="end">2.5</text>
<path class="tm" d="M266.5 448.0h-3.4"/>
<text class="tk" x="260.2" y="451.7" text-anchor="end">5.0</text>
<path class="tm" d="M266.5 426.8h-3.4"/>
<text class="tk" x="260.2" y="430.4" text-anchor="end">7.5</text>
<path class="tm" d="M266.5 405.5h-3.4"/>
<text class="tk" x="260.2" y="409.2" text-anchor="end">10.0</text>
<path class="tm" d="M266.5 384.2h-3.4"/>
<text class="tk" x="260.2" y="387.9" text-anchor="end">12.5</text>
<path class="tm" d="M266.5 495.0v3.4"/>
<text class="tk" x="266.7" y="508.6" text-anchor="middle">1960</text>
<path class="tm" d="M292.6 495.0v3.4"/>
<text class="tk" x="292.8" y="508.6" text-anchor="middle">1980</text>
<path class="tm" d="M318.7 495.0v3.4"/>
<text class="tk" x="318.9" y="508.6" text-anchor="middle">2000</text>
<path class="tm" d="M344.8 495.0v3.4"/>
<text class="tk" x="345.0" y="508.6" text-anchor="middle">2020</text>
<path class="tm" d="M371.0 495.0v3.4"/>
<text class="tk" x="371.2" y="508.6" text-anchor="middle">2040</text>
<path class="tm" d="M397.1 495.0v3.4"/>
<text class="tk" x="397.3" y="508.6" text-anchor="middle">2060</text>
<path class="tm" d="M423.2 495.0v3.4"/>
<text class="tk" x="423.4" y="508.6" text-anchor="middle">2080</text>
<path class="tm" d="M449.3 495.0v3.4"/>
<text class="tk" x="449.5" y="508.6" text-anchor="middle">2100</text>
<clipPath id="cc02"><rect x="486.0" y="377.4" width="182.5" height="117.6"/></clipPath>
<g clip-path="url(#cc02)">
<path d="M557.7 440.0L559.0 445.7L560.3 444.1L561.6 443.7L562.9 432.4L564.2 441.6L565.5 438.7L566.8 442.9L568.1 434.5L569.4 438.7L570.7 433.9L572.0 440.3L573.3 435.8L574.6 432.7L575.9 417.4L577.2 438.1L578.6 415.9L579.9 434.5L581.2 429.3L582.5 429.1L583.8 419.7L585.1 423.8L586.4 434.9L587.7 417.5L589.0 426.1L590.3 429.5L591.6 432.3L592.9 429.0L594.2 416.2L595.5 420.9L596.8 405.3L598.1 420.2L599.4 412.9L600.7 414.7L602.0 420.1L603.3 422.7L604.6 421.2L605.9 422.2L607.2 422.5L608.5 416.2L609.8 413.8L611.1 421.8L612.4 410.1L613.8 420.8L615.1 419.3L616.4 422.5L617.7 420.0L619.0 418.3L620.3 417.1L621.6 422.8L622.9 419.9L624.2 424.6L625.5 414.4L626.8 411.4L628.1 414.9L629.4 414.2L630.7 418.1L632.0 421.3L633.3 421.6L634.6 415.5L635.9 420.8L637.2 419.6L638.5 402.2L639.8 416.4L641.1 417.9L642.4 409.7L643.7 415.5L645.0 420.6L646.3 425.7L647.6 423.3L648.9 426.8L650.2 421.1L651.6 417.0L652.9 416.6L654.2 421.8L655.5 422.2L656.8 430.3L658.1 424.7L659.4 418.9L660.7 420.3L662.0 424.6L663.3 419.6L664.6 426.0L665.9 420.1L667.2 426.8L668.5 418.4L668.5 457.6L667.2 465.1L665.9 467.4L664.6 463.6L663.3 460.6L662.0 464.3L660.7 459.4L659.4 460.2L658.1 464.6L656.8 471.1L655.5 466.6L654.2 464.4L652.9 456.9L651.6 463.3L650.2 461.1L648.9 462.6L647.6 465.8L646.3 461.0L645.0 457.1L643.7 457.2L642.4 456.8L641.1 456.5L639.8 450.3L638.5 437.0L637.2 459.4L635.9 457.9L634.6 455.7L633.3 453.9L632.0 455.9L630.7 454.0L629.4 449.2L628.1 447.4L626.8 446.6L625.5 448.3L624.2 454.0L622.9 450.0L621.6 453.5L620.3 450.7L619.0 454.5L617.7 460.4L616.4 457.1L615.1 448.5L613.8 452.9L612.4 446.1L611.1 456.3L609.8 448.2L608.5 456.9L607.2 454.3L605.9 452.8L604.6 455.9L603.3 455.2L602.0 453.9L600.7 459.7L599.4 449.9L598.1 450.5L596.8 453.3L595.5 457.5L594.2 450.2L592.9 464.3L591.6 460.8L590.3 461.9L589.0 456.0L587.7 455.6L586.4 462.6L585.1 462.5L583.8 458.1L582.5 462.0L581.2 463.2L579.9 465.3L578.6 455.6L577.2 470.5L575.9 465.9L574.6 463.9L573.3 466.9L572.0 480.2L570.7 474.1L569.4 472.8L568.1 477.1L566.8 474.7L565.5 476.2L564.2 479.5L562.9 468.9L561.6 482.9L560.3 480.2L559.0 477.6L557.7 475.9z" fill="#0000ff" fill-opacity="0.33" stroke="#0000ff" stroke-opacity="0.35" stroke-width="0.8" stroke-linejoin="round"/>
<path d="M557.7 438.1L559.0 433.8L560.3 433.9L561.6 443.7L562.9 439.0L564.2 433.9L565.5 439.8L566.8 427.9L568.1 433.4L569.4 434.1L570.7 427.5L572.0 440.3L573.3 442.8L574.6 424.1L575.9 431.8L577.2 436.5L578.6 417.2L579.9 431.3L581.2 434.6L582.5 427.4L583.8 423.7L585.1 419.6L586.4 424.2L587.7 423.3L589.0 433.8L590.3 428.9L591.6 436.2L592.9 416.9L594.2 419.2L595.5 417.9L596.8 421.7L598.1 424.5L599.4 422.2L600.7 407.2L602.0 420.9L603.3 409.3L604.6 417.5L605.9 422.4L607.2 417.3L608.5 414.1L609.8 408.1L611.1 422.6L612.4 417.3L613.8 413.9L615.1 419.3L616.4 421.3L617.7 413.1L619.0 415.9L620.3 407.8L621.6 423.7L622.9 416.2L624.2 412.2L625.5 409.3L626.8 403.5L628.1 405.5L629.4 417.6L630.7 411.9L632.0 408.2L633.3 422.4L634.6 411.5L635.9 409.7L637.2 407.8L638.5 404.7L639.8 399.4L641.1 399.4L642.4 397.4L643.7 401.8L645.0 403.1L646.3 408.8L647.6 410.6L648.9 400.3L650.2 405.8L651.6 403.4L652.9 401.4L654.2 392.1L655.5 392.8L656.8 405.0L658.1 390.7L659.4 389.8L660.7 396.3L662.0 396.2L663.3 402.3L664.6 398.6L665.9 405.6L667.2 401.5L668.5 407.0L668.5 446.8L667.2 439.4L665.9 458.5L664.6 435.2L663.3 445.9L662.0 434.9L660.7 441.3L659.4 428.3L658.1 433.2L656.8 441.7L655.5 436.9L654.2 438.4L652.9 448.5L651.6 442.3L650.2 447.3L648.9 453.0L647.6 450.3L646.3 448.7L645.0 442.9L643.7 438.2L642.4 442.2L641.1 439.6L639.8 439.4L638.5 440.3L637.2 442.7L635.9 453.5L634.6 447.4L633.3 459.0L632.0 446.9L630.7 455.2L629.4 451.1L628.1 439.3L626.8 441.5L625.5 450.1L624.2 450.9L622.9 448.5L621.6 457.4L620.3 452.5L619.0 449.4L617.7 451.7L616.4 455.6L615.1 457.8L613.8 455.1L612.4 450.0L611.1 453.0L609.8 453.1L608.5 452.3L607.2 459.0L605.9 453.8L604.6 453.0L603.3 458.6L602.0 453.1L600.7 457.3L599.4 454.2L598.1 456.1L596.8 465.0L595.5 452.3L594.2 450.4L592.9 456.3L591.6 472.7L590.3 464.5L589.0 463.7L587.7 455.2L586.4 457.6L585.1 456.5L583.8 460.4L582.5 458.8L581.2 474.0L579.9 467.9L578.6 449.8L577.2 466.9L575.9 461.4L574.6 463.2L573.3 478.0L572.0 473.6L570.7 469.2L569.4 464.1L568.1 463.8L566.8 476.2L565.5 473.0L564.2 476.1L562.9 469.3L561.6 476.0L560.3 470.3L559.0 469.0L557.7 473.2z" fill="#228b22" fill-opacity="0.33" stroke="#228b22" stroke-opacity="0.35" stroke-width="0.8" stroke-linejoin="round"/>
<path d="M557.7 442.2L559.0 443.0L560.3 445.8L561.6 441.4L562.9 426.2L564.2 429.0L565.5 434.3L566.8 442.9L568.1 421.4L569.4 435.5L570.7 437.0L572.0 434.1L573.3 426.2L574.6 439.5L575.9 423.5L577.2 426.9L578.6 427.9L579.9 430.5L581.2 438.5L582.5 417.5L583.8 414.9L585.1 408.8L586.4 426.0L587.7 433.6L589.0 431.5L590.3 426.9L591.6 430.8L592.9 430.3L594.2 427.0L595.5 417.2L596.8 420.7L598.1 422.3L599.4 417.2L600.7 413.4L602.0 418.9L603.3 413.3L604.6 411.3L605.9 414.8L607.2 418.0L608.5 411.2L609.8 406.7L611.1 401.2L612.4 412.6L613.8 419.3L615.1 424.4L616.4 411.7L617.7 405.7L619.0 418.6L620.3 406.3L621.6 402.6L622.9 402.5L624.2 400.8L625.5 409.0L626.8 411.9L628.1 401.9L629.4 395.1L630.7 410.4L632.0 392.5L633.3 403.2L634.6 395.9L635.9 395.8L637.2 401.3L638.5 407.6L639.8 406.3L641.1 403.6L642.4 386.3L643.7 392.8L645.0 401.8L646.3 404.5L647.6 396.4L648.9 398.9L650.2 392.9L651.6 399.5L652.9 399.2L654.2 385.6L655.5 395.3L656.8 385.3L658.1 406.4L659.4 397.2L660.7 398.0L662.0 387.9L663.3 402.1L664.6 389.1L665.9 390.0L667.2 384.1L668.5 392.4L668.5 436.3L667.2 423.5L665.9 426.2L664.6 427.0L663.3 442.6L662.0 432.1L660.7 442.4L659.4 444.2L658.1 450.2L656.8 425.8L655.5 431.1L654.2 444.4L652.9 434.6L651.6 434.3L650.2 445.5L648.9 435.0L647.6 434.7L646.3 439.9L645.0 437.1L643.7 432.7L642.4 439.2L641.1 442.9L639.8 442.6L638.5 446.0L637.2 440.3L635.9 429.9L634.6 433.9L633.3 440.6L632.0 443.1L630.7 449.8L629.4 434.4L628.1 439.8L626.8 445.3L625.5 445.2L624.2 446.2L622.9 443.9L621.6 460.4L620.3 442.7L619.0 457.6L617.7 443.2L616.4 450.5L615.1 457.6L613.8 461.9L612.4 450.8L611.1 451.9L609.8 456.1L608.5 451.6L607.2 462.1L605.9 468.1L604.6 445.9L603.3 450.5L602.0 454.2L600.7 447.1L599.4 449.7L598.1 454.8L596.8 459.8L595.5 450.7L594.2 467.7L592.9 464.7L591.6 461.3L590.3 465.1L589.0 462.5L587.7 473.1L586.4 458.5L585.1 456.4L583.8 453.8L582.5 455.8L581.2 477.7L579.9 462.3L578.6 465.4L577.2 457.4L575.9 465.2L574.6 470.3L573.3 466.3L572.0 476.6L570.7 470.9L569.4 467.8L568.1 466.4L566.8 489.6L565.5 467.8L564.2 461.7L562.9 466.1L561.6 477.6L560.3 477.2L559.0 475.5L557.7 473.2z" fill="#ff0000" fill-opacity="0.34" stroke="#ff0000" stroke-opacity="0.35" stroke-width="0.8" stroke-linejoin="round"/>
<path d="M557.7 458.6L559.0 459.0L560.3 463.1L561.6 462.6L562.9 453.5L564.2 459.0L565.5 457.5L566.8 457.0L568.1 455.3L569.4 452.8L570.7 454.0L572.0 456.7L573.3 451.9L574.6 445.5L575.9 448.7L577.2 453.0L578.6 436.8L579.9 448.3L581.2 445.5L582.5 447.2L583.8 442.0L585.1 442.3L586.4 448.0L587.7 438.4L589.0 439.1L590.3 446.5L591.6 445.9L592.9 446.1L594.2 436.0L595.5 438.2L596.8 438.3L598.1 434.4L599.4 431.5L600.7 436.8L602.0 436.2L603.3 438.0L604.6 437.9L605.9 437.1L607.2 437.7L608.5 433.7L609.8 430.2L611.1 439.5L612.4 432.4L613.8 435.4L615.1 434.9L616.4 439.9L617.7 444.1L619.0 435.6L620.3 436.4L621.6 436.8L622.9 435.5L624.2 439.4L625.5 433.8L626.8 428.5L628.1 429.3L629.4 432.8L630.7 435.3L632.0 435.7L633.3 436.9L634.6 437.7L635.9 438.9L637.2 440.2L638.5 420.4L639.8 431.3L641.1 433.9L642.4 435.9L643.7 440.7L645.0 438.3L646.3 442.9L647.6 439.7L648.9 443.4L650.2 441.7L651.6 439.8L652.9 435.9L654.2 440.0L655.5 443.6L656.8 449.7L658.1 442.1L659.4 436.3L660.7 438.9L662.0 441.0L663.3 440.7L664.6 440.1L665.9 444.8L667.2 442.3L668.5 438.1" fill="none" stroke="#0000ff" stroke-width="1.4" stroke-linejoin="round"/>
<path d="M557.7 455.4L559.0 454.9L560.3 451.7L561.6 460.0L562.9 454.4L564.2 461.1L565.5 455.7L566.8 455.9L568.1 447.5L569.4 446.9L570.7 451.6L572.0 455.2L573.3 460.1L574.6 448.5L575.9 446.3L577.2 450.2L578.6 434.2L579.9 446.3L581.2 449.9L582.5 441.9L583.8 442.2L585.1 439.8L586.4 442.0L587.7 439.3L589.0 447.6L590.3 449.6L591.6 454.2L592.9 436.4L594.2 433.9L595.5 435.1L596.8 436.5L598.1 438.7L599.4 437.6L600.7 432.9L602.0 436.6L603.3 427.5L604.6 435.9L605.9 436.4L607.2 438.3L608.5 431.4L609.8 436.8L611.1 437.3L612.4 433.7L613.8 438.7L615.1 438.6L616.4 436.4L617.7 431.2L619.0 432.6L620.3 432.2L621.6 440.6L622.9 430.8L624.2 430.5L625.5 428.4L626.8 424.5L628.1 423.0L629.4 433.1L630.7 435.9L632.0 427.7L633.3 437.6L634.6 429.3L635.9 432.0L637.2 426.0L638.5 422.0L639.8 417.5L641.1 419.2L642.4 420.0L643.7 418.6L645.0 419.3L646.3 428.6L647.6 432.0L648.9 430.9L650.2 427.8L651.6 419.8L652.9 417.0L654.2 414.0L655.5 418.5L656.8 424.3L658.1 415.8L659.4 405.7L660.7 413.5L662.0 416.1L663.3 420.9L664.6 414.5L665.9 422.9L667.2 420.3L668.5 423.9" fill="none" stroke="#228b22" stroke-width="1.4" stroke-linejoin="round"/>
<path d="M557.7 456.2L559.0 460.0L560.3 460.9L561.6 457.0L562.9 446.1L564.2 442.4L565.5 449.2L566.8 457.0L568.1 446.1L569.4 448.4L570.7 452.3L572.0 448.2L573.3 447.8L574.6 453.3L575.9 448.6L577.2 440.7L578.6 446.2L579.9 445.4L581.2 453.8L582.5 436.4L583.8 434.0L585.1 431.5L586.4 441.8L587.7 446.8L589.0 445.1L590.3 441.5L591.6 444.4L592.9 443.9L594.2 447.0L595.5 430.8L596.8 434.7L598.1 436.2L599.4 432.7L600.7 428.6L602.0 433.8L603.3 432.6L604.6 425.5L605.9 438.3L607.2 435.6L608.5 427.4L609.8 427.4L611.1 425.3L612.4 429.5L613.8 435.2L615.1 438.2L616.4 430.6L617.7 423.8L619.0 439.0L620.3 423.9L621.6 431.7L622.9 423.2L624.2 426.7L625.5 424.1L626.8 426.5L628.1 420.7L629.4 413.2L630.7 426.0L632.0 421.2L633.3 418.7L634.6 411.8L635.9 410.5L637.2 421.2L638.5 425.0L639.8 422.9L641.1 418.9L642.4 414.8L643.7 412.7L645.0 416.6L646.3 418.6L647.6 415.6L648.9 415.0L650.2 419.9L651.6 415.6L652.9 413.9L654.2 403.3L655.5 410.0L656.8 403.7L658.1 422.8L659.4 419.3L660.7 414.3L662.0 402.9L663.3 416.4L664.6 407.6L665.9 406.3L667.2 403.8L668.5 413.9" fill="none" stroke="#ff0000" stroke-width="1.4" stroke-linejoin="round"/>
<path d="M486.3 470.3L488.1 470.3L489.6 468.0L491.0 470.3L492.4 476.1L494.9 465.0L496.5 484.9L497.8 472.0L499.8 469.7L501.5 466.2L502.9 480.2L504.1 482.6L505.6 480.2L508.3 468.0L509.9 479.1L511.1 480.2L513.2 457.4L515.3 484.3L517.1 467.4L518.7 484.3L520.0 481.4L521.4 489.6L522.8 463.3L524.1 482.0L526.6 468.0L528.1 483.1L529.3 484.9L530.5 453.4L531.9 476.7L535.4 456.6L537.1 476.7L538.9 470.3L541.0 462.7L543.6 472.0L545.9 450.4L547.6 469.7L550.0 454.5L552.7 470.3L555.0 445.2L557.0 467.4" fill="none" stroke="#000" stroke-width="1.45" stroke-linejoin="round"/>
</g>
<rect class="fr" x="486.0" y="377.4" width="182.5" height="117.6"/>
<path class="tm" d="M486.0 480.4h-3.4"/>
<text class="tk" x="479.7" y="484.1" text-anchor="end">0.05</text>
<path class="tm" d="M486.0 457.8h-3.4"/>
<text class="tk" x="479.7" y="461.4" text-anchor="end">0.10</text>
<path class="tm" d="M486.0 435.1h-3.4"/>
<text class="tk" x="479.7" y="438.8" text-anchor="end">0.15</text>
<path class="tm" d="M486.0 412.4h-3.4"/>
<text class="tk" x="479.7" y="416.1" text-anchor="end">0.20</text>
<path class="tm" d="M486.0 389.8h-3.4"/>
<text class="tk" x="479.7" y="393.5" text-anchor="end">0.25</text>
<path class="tm" d="M486.0 495.0v3.4"/>
<text class="tk" x="486.2" y="508.6" text-anchor="middle">1960</text>
<path class="tm" d="M512.1 495.0v3.4"/>
<text class="tk" x="512.3" y="508.6" text-anchor="middle">1980</text>
<path class="tm" d="M538.1 495.0v3.4"/>
<text class="tk" x="538.3" y="508.6" text-anchor="middle">2000</text>
<path class="tm" d="M564.2 495.0v3.4"/>
<text class="tk" x="564.4" y="508.6" text-anchor="middle">2020</text>
<path class="tm" d="M590.3 495.0v3.4"/>
<text class="tk" x="590.5" y="508.6" text-anchor="middle">2040</text>
<path class="tm" d="M616.4 495.0v3.4"/>
<text class="tk" x="616.6" y="508.6" text-anchor="middle">2060</text>
<path class="tm" d="M642.4 495.0v3.4"/>
<text class="tk" x="642.6" y="508.6" text-anchor="middle">2080</text>
<path class="tm" d="M668.5 495.0v3.4"/>
<text class="tk" x="668.7" y="508.6" text-anchor="middle">2100</text>
<clipPath id="cc10"><rect x="45.7" y="538.3" width="182.9" height="118.1"/></clipPath>
<g clip-path="url(#cc10)">
<path d="M117.6 590.9L118.9 589.1L120.2 585.3L121.5 577.0L122.8 588.0L124.1 593.8L125.4 595.1L126.7 590.0L128.0 582.3L129.3 590.0L130.6 584.9L131.9 595.2L133.2 574.2L134.5 591.6L135.8 582.3L137.1 585.5L138.5 582.5L139.8 589.5L141.1 588.5L142.4 593.3L143.7 577.6L145.0 577.5L146.3 572.0L147.6 572.9L148.9 580.9L150.2 587.1L151.5 585.3L152.8 591.6L154.1 579.7L155.4 579.3L156.7 573.7L158.1 574.2L159.4 586.6L160.7 598.2L162.0 582.2L163.3 582.8L164.6 581.3L165.9 586.6L167.2 579.7L168.5 572.8L169.8 568.4L171.1 584.0L172.4 576.8L173.7 578.7L175.0 592.0L176.3 580.8L177.6 581.1L179.0 584.7L180.3 577.8L181.6 581.9L182.9 589.2L184.2 587.2L185.5 594.3L186.8 581.4L188.1 597.1L189.4 591.5L190.7 589.7L192.0 592.5L193.3 588.2L194.6 587.2L195.9 576.8L197.2 578.2L198.6 580.6L199.9 589.4L201.2 577.0L202.5 582.9L203.8 579.3L205.1 578.7L206.4 592.0L207.7 591.3L209.0 590.8L210.3 591.0L211.6 579.7L212.9 594.0L214.2 582.7L215.5 578.5L216.8 589.1L218.1 594.5L219.5 594.0L220.8 585.0L222.1 577.9L223.4 589.1L224.7 580.5L226.0 580.6L227.3 580.7L228.6 574.5L228.6 606.9L227.3 619.0L226.0 609.5L224.7 622.3L223.4 616.5L222.1 613.6L220.8 618.1L219.5 622.7L218.1 623.6L216.8 622.9L215.5 613.1L214.2 620.7L212.9 625.9L211.6 610.2L210.3 620.9L209.0 622.7L207.7 625.7L206.4 622.2L205.1 608.7L203.8 611.0L202.5 614.6L201.2 616.4L199.9 624.1L198.6 610.7L197.2 612.9L195.9 612.8L194.6 615.9L193.3 621.8L192.0 621.3L190.7 618.7L189.4 620.1L188.1 637.5L186.8 625.5L185.5 627.3L184.2 616.0L182.9 623.1L181.6 614.1L180.3 613.9L179.0 615.3L177.6 631.0L176.3 611.8L175.0 619.1L173.7 613.1L172.4 613.1L171.1 616.5L169.8 612.9L168.5 605.3L167.2 610.8L165.9 619.6L164.6 622.2L163.3 620.0L162.0 614.9L160.7 630.7L159.4 616.1L158.1 605.9L156.7 609.7L155.4 612.9L154.1 615.2L152.8 627.0L151.5 621.0L150.2 618.0L148.9 619.8L147.6 622.1L146.3 607.1L145.0 612.6L143.7 608.4L142.4 624.8L141.1 625.6L139.8 622.4L138.5 617.9L137.1 615.4L135.8 620.2L134.5 626.2L133.2 614.9L131.9 624.7L130.6 618.1L129.3 626.6L128.0 620.9L126.7 626.0L125.4 624.3L124.1 621.3L122.8 625.4L121.5 615.8L120.2 616.4L118.9 620.7L117.6 621.1z" fill="#0000ff" fill-opacity="0.33" stroke="#0000ff" stroke-opacity="0.35" stroke-width="0.8" stroke-linejoin="round"/>
<path d="M117.6 587.1L118.9 585.5L120.2 589.3L121.5 585.0L122.8 582.7L124.1 579.9L125.4 578.5L126.7 572.9L128.0 563.7L129.3 572.3L130.6 579.0L131.9 578.3L133.2 577.0L134.5 575.2L135.8 580.9L137.1 569.8L138.5 572.9L139.8 568.7L141.1 571.3L142.4 562.5L143.7 570.3L145.0 579.9L146.3 567.9L147.6 567.9L148.9 569.2L150.2 571.6L151.5 558.9L152.8 555.0L154.1 541.8L155.4 566.9L156.7 567.0L158.1 540.1L159.4 558.4L160.7 568.0L162.0 563.2L163.3 550.2L164.6 572.1L165.9 560.8L167.2 565.3L168.5 565.6L169.8 554.5L171.1 558.4L172.4 557.4L173.7 566.1L175.0 560.8L176.3 544.1L177.6 557.1L179.0 565.0L180.3 550.7L181.6 561.0L182.9 569.3L184.2 563.3L185.5 528.4L186.8 557.5L188.1 562.4L189.4 567.1L190.7 569.6L192.0 553.5L193.3 564.7L194.6 560.9L195.9 561.9L197.2 543.9L198.6 556.8L199.9 563.1L201.2 570.9L202.5 566.2L203.8 553.8L205.1 572.4L206.4 565.3L207.7 557.2L209.0 565.5L210.3 572.1L211.6 570.8L212.9 557.7L214.2 562.1L215.5 564.8L216.8 565.5L218.1 563.6L219.5 567.5L220.8 574.7L222.1 553.9L223.4 565.6L224.7 556.7L226.0 562.6L227.3 566.8L228.6 569.8L228.6 613.2L227.3 614.5L226.0 602.4L224.7 597.0L223.4 601.1L222.1 602.1L220.8 615.0L219.5 621.1L218.1 602.8L216.8 602.4L215.5 602.2L214.2 612.8L212.9 598.6L211.6 606.1L210.3 613.2L209.0 604.5L207.7 598.6L206.4 609.5L205.1 611.0L203.8 600.8L202.5 608.8L201.2 612.5L199.9 599.3L198.6 593.8L197.2 602.5L195.9 612.3L194.6 610.7L193.3 607.0L192.0 596.9L190.7 607.2L189.4 605.8L188.1 604.9L186.8 601.9L185.5 593.5L184.2 601.3L182.9 605.4L181.6 599.8L180.3 605.8L179.0 607.9L177.6 601.2L176.3 597.3L175.0 603.1L173.7 603.4L172.4 603.1L171.1 596.4L169.8 603.9L168.5 610.1L167.2 604.8L165.9 604.4L164.6 615.7L163.3 605.4L162.0 606.7L160.7 616.9L159.4 609.6L158.1 609.7L156.7 608.7L155.4 609.3L154.1 608.9L152.8 594.8L151.5 612.6L150.2 618.5L148.9 606.8L147.6 604.1L146.3 610.1L145.0 618.0L143.7 611.8L142.4 614.0L141.1 608.7L139.8 611.8L138.5 617.3L137.1 612.8L135.8 614.0L134.5 612.8L133.2 617.2L131.9 613.9L130.6 616.4L129.3 619.2L128.0 610.9L126.7 609.2L125.4 616.2L124.1 614.6L122.8 617.9L121.5 617.3L120.2 622.6L118.9 622.7L117.6 625.2z" fill="#228b22" fill-opacity="0.33" stroke="#228b22" stroke-opacity="0.35" stroke-width="0.8" stroke-linejoin="round"/>
<path d="M117.6 600.2L118.9 584.0L120.2 580.6L121.5 586.4L122.8 583.5L124.1 581.1L125.4 590.2L126.7 578.0L128.0 578.7L129.3 582.5L130.6 575.9L131.9 579.1L133.2 588.6L134.5 580.4L135.8 580.7L137.1 559.6L138.5 575.0L139.8 566.2L141.1 574.4L142.4 566.1L143.7 558.0L145.0 564.6L146.3 574.2L147.6 564.9L148.9 563.9L150.2 564.9L151.5 575.1L152.8 560.8L154.1 564.5L155.4 562.6L156.7 558.7L158.1 557.6L159.4 552.9L160.7 561.7L162.0 543.7L163.3 550.6L164.6 558.2L165.9 552.1L167.2 559.1L168.5 550.4L169.8 558.5L171.1 561.4L172.4 549.4L173.7 542.1L175.0 557.5L176.3 564.3L177.6 562.3L179.0 557.9L180.3 551.6L181.6 561.0L182.9 566.3L184.2 557.5L185.5 552.9L186.8 553.5L188.1 553.7L189.4 547.4L190.7 554.7L192.0 564.8L193.3 553.7L194.6 563.7L195.9 555.6L197.2 565.9L198.6 555.0L199.9 558.5L201.2 550.7L202.5 561.5L203.8 568.1L205.1 557.1L206.4 576.7L207.7 573.2L209.0 552.4L210.3 574.0L211.6 558.4L212.9 560.0L214.2 570.0L215.5 553.6L216.8 564.6L218.1 570.8L219.5 544.7L220.8 565.7L222.1 545.5L223.4 561.8L224.7 565.6L226.0 543.1L227.3 568.3L228.6 565.7L228.6 610.2L227.3 610.9L226.0 606.9L224.7 609.6L223.4 607.1L222.1 593.2L220.8 610.2L219.5 608.9L218.1 609.9L216.8 609.4L215.5 607.9L214.2 613.6L212.9 601.0L211.6 598.0L210.3 615.7L209.0 595.8L207.7 612.3L206.4 614.4L205.1 605.0L203.8 608.5L202.5 614.4L201.2 605.9L199.9 598.7L198.6 606.7L197.2 607.5L195.9 600.0L194.6 602.4L193.3 605.7L192.0 606.8L190.7 613.4L189.4 592.7L188.1 601.3L186.8 592.7L185.5 609.5L184.2 597.7L182.9 608.8L181.6 610.2L180.3 603.7L179.0 601.3L177.6 609.2L176.3 606.6L175.0 601.9L173.7 601.1L172.4 604.7L171.1 605.5L169.8 597.9L168.5 600.9L167.2 603.1L165.9 601.9L164.6 598.2L163.3 599.0L162.0 598.6L160.7 602.4L159.4 601.3L158.1 606.9L156.7 598.0L155.4 603.2L154.1 606.9L152.8 607.5L151.5 613.0L150.2 606.5L148.9 601.0L147.6 605.4L146.3 616.6L145.0 601.2L143.7 598.7L142.4 605.1L141.1 617.0L139.8 612.4L138.5 618.4L137.1 609.0L135.8 619.1L134.5 612.8L133.2 621.9L131.9 609.8L130.6 621.8L129.3 626.6L128.0 619.5L126.7 614.4L125.4 631.5L124.1 618.8L122.8 622.1L121.5 616.3L120.2 616.5L118.9 617.4L117.6 630.6z" fill="#ff0000" fill-opacity="0.34" stroke="#ff0000" stroke-opacity="0.35" stroke-width="0.8" stroke-linejoin="round"/>
<path d="M117.6 605.6L118.9 601.2L120.2 597.6L121.5 593.3L122.8 607.7L124.1 606.9L125.4 607.7L126.7 605.0L128.0 603.7L129.3 608.8L130.6 602.2L131.9 609.2L133.2 600.8L134.5 606.4L135.8 601.5L137.1 600.0L138.5 602.1L139.8 604.5L141.1 605.4L142.4 607.0L143.7 594.1L145.0 596.5L146.3 590.4L147.6 596.4L148.9 597.3L150.2 601.6L151.5 600.4L152.8 606.2L154.1 594.5L155.4 592.5L156.7 589.5L158.1 589.4L159.4 601.5L160.7 610.6L162.0 596.3L163.3 596.7L164.6 602.9L165.9 603.6L167.2 595.5L168.5 589.6L169.8 595.4L171.1 601.9L172.4 595.6L173.7 593.5L175.0 604.4L176.3 596.7L177.6 604.1L179.0 600.5L180.3 597.8L181.6 599.7L182.9 607.6L184.2 599.8L185.5 607.5L186.8 598.5L188.1 610.0L189.4 604.9L190.7 604.1L192.0 605.1L193.3 600.8L194.6 600.0L195.9 592.2L197.2 597.8L198.6 595.5L199.9 606.1L201.2 597.0L202.5 596.6L203.8 594.1L205.1 593.5L206.4 604.8L207.7 608.6L209.0 606.5L210.3 605.6L211.6 595.5L212.9 610.6L214.2 603.0L215.5 597.1L216.8 602.0L218.1 609.0L219.5 607.4L220.8 600.2L222.1 598.2L223.4 602.3L224.7 600.5L226.0 595.1L227.3 602.9L228.6 592.7" fill="none" stroke="#0000ff" stroke-width="1.4" stroke-linejoin="round"/>
<path d="M117.6 603.1L118.9 600.0L120.2 602.5L121.5 598.5L122.8 599.0L124.1 593.9L125.4 597.0L126.7 587.6L128.0 590.5L129.3 592.8L130.6 597.6L131.9 593.5L133.2 598.7L134.5 595.0L135.8 597.3L137.1 590.5L138.5 595.5L139.8 593.5L141.1 588.2L142.4 590.6L143.7 591.8L145.0 597.7L146.3 591.0L147.6 584.8L148.9 589.2L150.2 591.1L151.5 586.0L152.8 577.6L154.1 584.8L155.4 587.9L156.7 590.2L158.1 586.3L159.4 592.6L160.7 589.3L162.0 589.0L163.3 577.3L164.6 590.4L165.9 584.4L167.2 586.5L168.5 590.1L169.8 582.0L171.1 577.6L172.4 583.7L173.7 584.6L175.0 582.7L176.3 579.1L177.6 580.4L179.0 583.3L180.3 585.1L181.6 582.2L182.9 588.5L184.2 583.9L185.5 576.4L186.8 580.0L188.1 582.0L189.4 586.6L190.7 587.6L192.0 578.3L193.3 581.9L194.6 587.2L195.9 589.0L197.2 585.6L198.6 575.1L199.9 581.2L201.2 593.6L202.5 586.1L203.8 582.0L205.1 589.6L206.4 584.6L207.7 576.6L209.0 586.2L210.3 592.5L211.6 587.5L212.9 580.4L214.2 588.4L215.5 584.6L216.8 583.5L218.1 584.7L219.5 584.7L220.8 592.8L222.1 574.5L223.4 583.6L224.7 577.6L226.0 584.3L227.3 589.1L228.6 593.6" fill="none" stroke="#228b22" stroke-width="1.4" stroke-linejoin="round"/>
<path d="M117.6 614.8L118.9 599.1L120.2 597.0L121.5 600.2L122.8 603.6L124.1 602.9L125.4 604.1L126.7 592.2L128.0 601.4L129.3 603.4L130.6 600.4L131.9 593.7L133.2 605.4L134.5 596.5L135.8 597.2L137.1 590.2L138.5 594.1L139.8 595.9L141.1 592.8L142.4 584.7L143.7 580.2L145.0 584.5L146.3 595.6L147.6 587.5L148.9 584.3L150.2 583.8L151.5 594.7L152.8 585.6L154.1 587.5L155.4 586.4L156.7 580.6L158.1 580.5L159.4 583.7L160.7 582.6L162.0 578.7L163.3 576.8L164.6 579.8L165.9 573.9L167.2 579.1L168.5 577.1L169.8 580.1L171.1 587.5L172.4 581.8L173.7 583.5L175.0 584.3L176.3 584.5L177.6 584.4L179.0 580.2L180.3 576.3L181.6 588.0L182.9 585.9L184.2 579.7L185.5 579.9L186.8 573.7L188.1 580.7L189.4 574.6L190.7 587.3L192.0 588.1L193.3 581.1L194.6 583.1L195.9 581.3L197.2 587.5L198.6 579.4L199.9 579.0L201.2 579.5L202.5 587.4L203.8 587.4L205.1 579.5L206.4 595.7L207.7 592.3L209.0 575.0L210.3 593.2L211.6 579.8L212.9 582.0L214.2 593.0L215.5 587.0L216.8 584.2L218.1 590.1L219.5 583.0L220.8 586.0L222.1 574.4L223.4 587.5L224.7 589.6L226.0 586.4L227.3 586.8L228.6 591.4" fill="none" stroke="#ff0000" stroke-width="1.4" stroke-linejoin="round"/>
<path d="M45.8 624.3L47.8 624.3L49.3 621.3L50.9 644.8L52.1 645.4L53.4 651.1L55.0 622.6L56.3 627.7L57.6 639.5L58.8 630.9L60.1 629.6L61.4 633.4L62.4 649.2L63.9 629.8L65.6 644.8L66.5 639.1L67.5 642.9L69.0 625.2L70.3 626.4L71.9 642.5L74.4 624.3L76.2 638.5L79.1 629.6L80.8 635.9L82.3 619.4L83.6 645.4L86.1 616.3L88.0 632.1L88.9 622.6L90.2 640.4L92.7 622.2L94.0 640.4L95.6 624.5L96.9 623.2L97.8 634.7L99.2 601.4L100.7 629.0L102.0 611.2L103.2 632.1L105.8 615.0L108.3 621.3L109.6 603.6L110.8 611.8L112.1 606.1L113.6 627.7L115.0 589.3L116.3 626.4" fill="none" stroke="#000" stroke-width="1.45" stroke-linejoin="round"/>
</g>
<rect class="fr" x="45.7" y="538.3" width="182.9" height="118.1"/>
<path class="tm" d="M45.7 648.6h-3.4"/>
<text class="tk" x="39.4" y="652.3" text-anchor="end">1</text>
<path class="tm" d="M45.7 621.1h-3.4"/>
<text class="tk" x="39.4" y="624.8" text-anchor="end">2</text>
<path class="tm" d="M45.7 593.5h-3.4"/>
<text class="tk" x="39.4" y="597.2" text-anchor="end">3</text>
<path class="tm" d="M45.7 566.0h-3.4"/>
<text class="tk" x="39.4" y="569.7" text-anchor="end">4</text>
<path class="tm" d="M45.7 538.4h-3.4"/>
<text class="tk" x="39.4" y="542.1" text-anchor="end">5</text>
<path class="tm" d="M45.7 656.4v3.4"/>
<text class="tk" x="45.9" y="670.0" text-anchor="middle">1960</text>
<path class="tm" d="M71.8 656.4v3.4"/>
<text class="tk" x="72.0" y="670.0" text-anchor="middle">1980</text>
<path class="tm" d="M98.0 656.4v3.4"/>
<text class="tk" x="98.2" y="670.0" text-anchor="middle">2000</text>
<path class="tm" d="M124.1 656.4v3.4"/>
<text class="tk" x="124.3" y="670.0" text-anchor="middle">2020</text>
<path class="tm" d="M150.2 656.4v3.4"/>
<text class="tk" x="150.4" y="670.0" text-anchor="middle">2040</text>
<path class="tm" d="M176.3 656.4v3.4"/>
<text class="tk" x="176.5" y="670.0" text-anchor="middle">2060</text>
<path class="tm" d="M202.5 656.4v3.4"/>
<text class="tk" x="202.7" y="670.0" text-anchor="middle">2080</text>
<path class="tm" d="M228.6 656.4v3.4"/>
<text class="tk" x="228.8" y="670.0" text-anchor="middle">2100</text>
<clipPath id="cc11"><rect x="265.4" y="538.3" width="182.6" height="118.1"/></clipPath>
<g clip-path="url(#cc11)">
<path d="M337.1 628.9L338.4 634.1L339.7 632.1L341.0 631.1L342.3 629.4L343.6 629.5L344.9 631.2L346.2 626.9L347.5 629.9L348.8 621.0L350.2 626.5L351.5 624.5L352.8 621.8L354.1 629.9L355.4 626.1L356.7 629.7L358.0 627.3L359.3 625.7L360.6 627.3L361.9 626.6L363.2 629.8L364.5 625.7L365.8 626.6L367.1 624.8L368.4 624.5L369.7 625.7L371.0 625.3L372.3 621.1L373.6 625.3L374.9 627.2L376.2 626.2L377.5 624.9L378.9 619.0L380.2 627.4L381.5 626.3L382.8 622.8L384.1 617.0L385.4 621.2L386.7 621.3L388.0 616.5L389.3 618.8L390.6 621.9L391.9 625.1L393.2 627.1L394.5 613.5L395.8 621.3L397.1 622.9L398.4 622.5L399.7 621.9L401.0 622.1L402.3 618.8L403.6 620.2L404.9 622.0L406.3 619.8L407.6 619.9L408.9 624.8L410.2 625.0L411.5 620.4L412.8 618.4L414.1 623.9L415.4 623.1L416.7 621.3L418.0 618.1L419.3 624.5L420.6 611.4L421.9 622.0L423.2 621.7L424.5 621.3L425.8 622.0L427.1 618.2L428.4 619.9L429.7 618.4L431.0 621.6L432.3 619.7L433.6 613.6L435.0 622.8L436.3 611.4L437.6 616.5L438.9 622.2L440.2 624.2L441.5 622.1L442.8 616.9L444.1 619.8L445.4 617.7L446.7 619.3L448.0 608.4L448.0 638.2L446.7 639.8L445.4 639.9L444.1 642.2L442.8 636.3L441.5 646.1L440.2 641.4L438.9 644.1L437.6 637.0L436.3 648.5L435.0 642.6L433.6 641.8L432.3 638.9L431.0 638.2L429.7 639.5L428.4 639.9L427.1 640.0L425.8 641.5L424.5 639.1L423.2 638.2L421.9 639.8L420.6 641.4L419.3 643.3L418.0 640.6L416.7 642.0L415.4 641.7L414.1 640.9L412.8 639.0L411.5 639.2L410.2 644.1L408.9 641.9L407.6 641.4L406.3 637.6L404.9 637.7L403.6 636.3L402.3 636.6L401.0 637.1L399.7 639.1L398.4 640.8L397.1 639.5L395.8 639.0L394.5 638.7L393.2 642.2L391.9 640.5L390.6 640.5L389.3 640.3L388.0 638.8L386.7 639.8L385.4 638.0L384.1 639.6L382.8 640.2L381.5 643.4L380.2 641.8L378.9 642.0L377.5 639.3L376.2 642.0L374.9 646.4L373.6 640.6L372.3 641.5L371.0 639.7L369.7 640.1L368.4 639.0L367.1 638.5L365.8 641.5L364.5 642.2L363.2 643.5L361.9 640.3L360.6 642.1L359.3 641.1L358.0 643.3L356.7 645.5L355.4 642.0L354.1 643.7L352.8 641.9L351.5 639.4L350.2 641.3L348.8 645.1L347.5 645.8L346.2 648.8L344.9 643.8L343.6 645.6L342.3 642.9L341.0 643.6L339.7 647.2L338.4 648.9L337.1 647.3z" fill="#0000ff" fill-opacity="0.33" stroke="#0000ff" stroke-opacity="0.35" stroke-width="0.8" stroke-linejoin="round"/>
<path d="M337.1 629.4L338.4 631.1L339.7 633.3L341.0 624.1L342.3 626.0L343.6 628.9L344.9 624.4L346.2 630.7L347.5 629.8L348.8 626.6L350.2 627.7L351.5 622.0L352.8 616.9L354.1 628.0L355.4 627.3L356.7 627.5L358.0 619.8L359.3 622.5L360.6 622.4L361.9 624.3L363.2 625.6L364.5 622.9L365.8 618.4L367.1 614.6L368.4 622.0L369.7 621.6L371.0 618.4L372.3 614.2L373.6 617.6L374.9 612.7L376.2 614.8L377.5 617.5L378.9 621.4L380.2 614.1L381.5 611.9L382.8 613.9L384.1 612.9L385.4 607.3L386.7 604.7L388.0 606.4L389.3 609.4L390.6 613.2L391.9 605.9L393.2 601.6L394.5 615.7L395.8 612.3L397.1 610.4L398.4 604.9L399.7 604.7L401.0 595.7L402.3 602.9L403.6 600.4L404.9 606.2L406.3 607.3L407.6 595.7L408.9 603.4L410.2 599.9L411.5 601.3L412.8 591.8L414.1 598.9L415.4 596.5L416.7 598.3L418.0 599.8L419.3 600.0L420.6 594.5L421.9 596.7L423.2 595.4L424.5 587.2L425.8 601.0L427.1 591.1L428.4 589.9L429.7 589.5L431.0 563.1L432.3 581.5L433.6 588.6L435.0 593.0L436.3 579.8L437.6 590.9L438.9 569.6L440.2 581.4L441.5 580.3L442.8 578.7L444.1 585.0L445.4 580.3L446.7 580.6L448.0 587.7L448.0 619.7L446.7 620.8L445.4 614.2L444.1 623.4L442.8 617.6L441.5 615.6L440.2 611.5L438.9 612.9L437.6 621.2L436.3 620.9L435.0 622.5L433.6 619.2L432.3 625.7L431.0 616.0L429.7 621.2L428.4 624.5L427.1 620.4L425.8 629.5L424.5 622.4L423.2 619.8L421.9 628.0L420.6 621.4L419.3 628.6L418.0 628.4L416.7 626.8L415.4 627.0L414.1 629.4L412.8 622.7L411.5 625.1L410.2 626.5L408.9 632.4L407.6 628.7L406.3 630.7L404.9 632.2L403.6 628.0L402.3 626.8L401.0 631.2L399.7 634.2L398.4 635.0L397.1 640.3L395.8 639.8L394.5 636.9L393.2 629.4L391.9 627.8L390.6 635.2L389.3 632.7L388.0 636.4L386.7 630.2L385.4 633.1L384.1 637.3L382.8 639.6L381.5 634.9L380.2 636.0L378.9 640.3L377.5 636.8L376.2 638.3L374.9 641.5L373.6 638.7L372.3 638.8L371.0 636.8L369.7 641.6L368.4 643.5L367.1 635.8L365.8 636.6L364.5 642.1L363.2 643.1L361.9 639.8L360.6 639.4L359.3 640.6L358.0 639.3L356.7 644.1L355.4 641.7L354.1 643.8L352.8 643.5L351.5 644.3L350.2 643.3L348.8 642.9L347.5 645.5L346.2 645.6L344.9 640.8L343.6 643.1L342.3 645.0L341.0 645.5L339.7 647.5L338.4 643.7L337.1 645.3z" fill="#228b22" fill-opacity="0.33" stroke="#228b22" stroke-opacity="0.35" stroke-width="0.8" stroke-linejoin="round"/>
<path d="M337.1 624.7L338.4 631.1L339.7 630.1L341.0 628.2L342.3 627.6L343.6 629.2L344.9 626.7L346.2 627.6L347.5 625.7L348.8 623.8L350.2 626.1L351.5 623.7L352.8 626.0L354.1 617.9L355.4 621.5L356.7 621.1L358.0 618.8L359.3 620.1L360.6 619.7L361.9 617.2L363.2 619.6L364.5 610.8L365.8 620.1L367.1 613.8L368.4 615.4L369.7 616.7L371.0 618.6L372.3 616.5L373.6 604.7L374.9 611.6L376.2 607.7L377.5 601.3L378.9 604.5L380.2 608.3L381.5 612.1L382.8 588.8L384.1 609.7L385.4 606.8L386.7 604.8L388.0 606.0L389.3 591.0L390.6 598.8L391.9 599.4L393.2 588.4L394.5 602.4L395.8 597.2L397.1 597.0L398.4 591.3L399.7 592.1L401.0 589.6L402.3 592.2L403.6 593.5L404.9 568.9L406.3 592.0L407.6 597.3L408.9 567.5L410.2 585.2L411.5 577.3L412.8 585.5L414.1 580.3L415.4 573.4L416.7 577.9L418.0 587.5L419.3 567.9L420.6 573.1L421.9 568.6L423.2 574.5L424.5 567.8L425.8 580.3L427.1 562.7L428.4 577.1L429.7 566.6L431.0 568.2L432.3 569.3L433.6 553.5L435.0 566.5L436.3 575.8L437.6 558.3L438.9 549.1L440.2 563.7L441.5 554.8L442.8 567.3L444.1 547.5L445.4 558.2L446.7 552.7L448.0 559.0L448.0 612.9L446.7 616.3L445.4 612.5L444.1 605.1L442.8 614.1L441.5 619.6L440.2 619.7L438.9 616.0L437.6 614.6L436.3 624.1L435.0 610.3L433.6 607.2L432.3 617.0L431.0 615.0L429.7 615.5L428.4 628.7L427.1 624.0L425.8 619.2L424.5 618.2L423.2 615.3L421.9 629.0L420.6 628.8L419.3 615.6L418.0 627.6L416.7 616.1L415.4 618.3L414.1 621.2L412.8 624.5L411.5 616.4L410.2 619.7L408.9 615.7L407.6 631.1L406.3 627.5L404.9 623.6L403.6 625.3L402.3 628.9L401.0 626.9L399.7 623.5L398.4 624.1L397.1 633.9L395.8 631.0L394.5 631.5L393.2 626.4L391.9 633.0L390.6 635.4L389.3 633.7L388.0 630.1L386.7 631.4L385.4 637.9L384.1 633.3L382.8 631.1L381.5 637.4L380.2 631.8L378.9 634.1L377.5 632.4L376.2 635.8L374.9 634.3L373.6 635.0L372.3 641.2L371.0 639.7L369.7 636.8L368.4 640.6L367.1 635.4L365.8 642.5L364.5 640.6L363.2 641.7L361.9 636.5L360.6 639.2L359.3 641.0L358.0 636.4L356.7 642.0L355.4 638.9L354.1 637.5L352.8 641.5L351.5 640.8L350.2 643.9L348.8 640.2L347.5 644.8L346.2 643.2L344.9 644.4L343.6 643.2L342.3 644.3L341.0 643.4L339.7 645.5L338.4 645.4L337.1 648.7z" fill="#ff0000" fill-opacity="0.34" stroke="#ff0000" stroke-opacity="0.35" stroke-width="0.8" stroke-linejoin="round"/>
<path d="M337.1 641.3L338.4 641.2L339.7 641.2L341.0 637.9L342.3 636.2L343.6 638.2L344.9 637.8L346.2 639.9L347.5 637.2L348.8 637.2L350.2 634.0L351.5 631.2L352.8 635.4L354.1 637.1L355.4 635.9L356.7 636.5L358.0 636.5L359.3 633.9L360.6 634.5L361.9 633.6L363.2 636.5L364.5 634.6L365.8 635.0L367.1 631.6L368.4 632.6L369.7 633.1L371.0 633.2L372.3 632.3L373.6 633.6L374.9 634.5L376.2 634.1L377.5 632.4L378.9 632.0L380.2 635.2L381.5 635.7L382.8 631.8L384.1 631.9L385.4 630.5L386.7 630.6L388.0 632.0L389.3 631.5L390.6 631.3L391.9 633.0L393.2 634.5L394.5 630.0L395.8 630.5L397.1 632.4L398.4 630.6L399.7 631.1L401.0 629.7L402.3 628.7L403.6 628.1L404.9 630.3L406.3 629.3L407.6 632.9L408.9 633.8L410.2 634.1L411.5 631.7L412.8 630.7L414.1 632.0L415.4 631.4L416.7 630.3L418.0 631.7L419.3 633.7L420.6 632.8L421.9 631.6L423.2 630.1L424.5 629.9L425.8 631.5L427.1 630.0L428.4 631.7L429.7 630.5L431.0 630.5L432.3 628.2L433.6 633.1L435.0 633.9L436.3 632.1L437.6 628.8L438.9 632.7L440.2 632.8L441.5 630.6L442.8 628.1L444.1 632.7L445.4 630.8L446.7 629.2L448.0 629.9" fill="none" stroke="#0000ff" stroke-width="1.4" stroke-linejoin="round"/>
<path d="M337.1 639.8L338.4 637.6L339.7 640.7L341.0 639.1L342.3 635.7L343.6 637.0L344.9 633.9L346.2 639.2L347.5 637.1L348.8 636.1L350.2 635.0L351.5 637.5L352.8 636.6L354.1 635.9L355.4 635.0L356.7 637.0L358.0 631.1L359.3 632.4L360.6 631.0L361.9 632.9L363.2 634.3L364.5 632.7L365.8 627.3L367.1 628.5L368.4 631.0L369.7 632.4L371.0 627.5L372.3 630.0L373.6 629.6L374.9 631.5L376.2 630.3L377.5 627.3L378.9 631.0L380.2 625.2L381.5 625.8L382.8 625.3L384.1 625.8L385.4 623.1L386.7 619.0L388.0 627.3L389.3 623.6L390.6 625.5L391.9 616.7L393.2 619.5L394.5 627.6L395.8 627.2L397.1 621.8L398.4 621.7L399.7 620.8L401.0 620.5L402.3 615.7L403.6 616.0L404.9 618.5L406.3 620.4L407.6 614.2L408.9 618.6L410.2 615.3L411.5 614.4L412.8 610.3L414.1 615.9L415.4 612.3L416.7 615.4L418.0 616.5L419.3 612.6L420.6 608.7L421.9 610.6L423.2 608.3L424.5 607.5L425.8 614.7L427.1 606.1L428.4 612.2L429.7 608.2L431.0 601.0L432.3 600.1L433.6 603.3L435.0 607.4L436.3 607.4L437.6 608.1L438.9 596.7L440.2 596.5L441.5 600.6L442.8 601.4L444.1 605.3L445.4 600.6L446.7 597.9L448.0 605.0" fill="none" stroke="#228b22" stroke-width="1.4" stroke-linejoin="round"/>
<path d="M337.1 639.5L338.4 637.9L339.7 638.7L341.0 635.8L342.3 636.5L343.6 636.8L344.9 635.4L346.2 636.7L347.5 635.9L348.8 632.9L350.2 636.9L351.5 632.0L352.8 634.6L354.1 629.5L355.4 631.7L356.7 633.0L358.0 628.7L359.3 630.2L360.6 630.7L361.9 627.6L363.2 632.0L364.5 629.4L365.8 631.7L367.1 625.7L368.4 631.8L369.7 628.4L371.0 629.6L372.3 632.0L373.6 624.0L374.9 624.4L376.2 626.3L377.5 622.1L378.9 624.9L380.2 621.3L381.5 624.8L382.8 619.3L384.1 622.5L385.4 624.6L386.7 620.0L388.0 619.6L389.3 619.9L390.6 619.9L391.9 619.3L393.2 613.2L394.5 619.0L395.8 616.0L397.1 618.5L398.4 609.0L399.7 609.9L401.0 610.8L402.3 612.0L403.6 609.7L404.9 607.2L406.3 612.8L407.6 614.7L408.9 600.9L410.2 602.7L411.5 599.9L412.8 605.7L414.1 600.3L415.4 601.2L416.7 597.9L418.0 609.6L419.3 593.4L420.6 598.6L421.9 600.7L423.2 597.6L424.5 598.2L425.8 599.2L427.1 595.9L428.4 600.3L429.7 590.4L431.0 591.9L432.3 589.1L433.6 581.0L435.0 589.4L436.3 598.9L437.6 582.6L438.9 582.2L440.2 589.4L441.5 589.8L442.8 592.5L444.1 578.6L445.4 587.3L446.7 588.5L448.0 585.8" fill="none" stroke="#ff0000" stroke-width="1.4" stroke-linejoin="round"/>
<path d="M265.6 642.6L267.4 645.0L268.8 639.5L270.2 646.7L271.8 650.5L273.3 650.0L274.7 647.3L276.4 649.1L277.9 646.9L279.4 650.8L280.5 646.7L281.9 649.6L284.0 649.1L286.1 646.1L288.1 647.3L289.6 646.1L291.3 647.9L292.8 646.7L296.3 648.5L297.8 645.5L300.1 646.5L301.5 645.3L302.7 648.5L304.1 643.8L307.1 646.1L308.8 646.7L310.6 649.1L312.1 645.5L314.4 646.9L315.8 645.0L317.0 640.6L319.1 642.6L321.2 644.1L323.7 640.6L326.3 646.9L327.8 643.8L329.0 636.8L330.5 641.5L333.1 644.4L336.0 640.3" fill="none" stroke="#000" stroke-width="1.45" stroke-linejoin="round"/>
</g>
<rect class="fr" x="265.4" y="538.3" width="182.6" height="118.1"/>
<path class="tm" d="M265.4 626.3h-3.4"/>
<text class="tk" x="259.1" y="630.0" text-anchor="end">10</text>
<path class="tm" d="M265.4 594.9h-3.4"/>
<text class="tk" x="259.1" y="598.6" text-anchor="end">20</text>
<path class="tm" d="M265.4 563.5h-3.4"/>
<text class="tk" x="259.1" y="567.2" text-anchor="end">30</text>
<path class="tm" d="M265.4 656.4v3.4"/>
<text class="tk" x="265.6" y="670.0" text-anchor="middle">1960</text>
<path class="tm" d="M291.4 656.4v3.4"/>
<text class="tk" x="291.6" y="670.0" text-anchor="middle">1980</text>
<path class="tm" d="M317.5 656.4v3.4"/>
<text class="tk" x="317.7" y="670.0" text-anchor="middle">2000</text>
<path class="tm" d="M343.6 656.4v3.4"/>
<text class="tk" x="343.8" y="670.0" text-anchor="middle">2020</text>
<path class="tm" d="M369.7 656.4v3.4"/>
<text class="tk" x="369.9" y="670.0" text-anchor="middle">2040</text>
<path class="tm" d="M395.8 656.4v3.4"/>
<text class="tk" x="396.0" y="670.0" text-anchor="middle">2060</text>
<path class="tm" d="M421.9 656.4v3.4"/>
<text class="tk" x="422.1" y="670.0" text-anchor="middle">2080</text>
<path class="tm" d="M448.0 656.4v3.4"/>
<text class="tk" x="448.2" y="670.0" text-anchor="middle">2100</text>
<clipPath id="cc12"><rect x="484.7" y="538.3" width="182.8" height="118.1"/></clipPath>
<g clip-path="url(#cc12)">
<path d="M556.5 589.4L557.8 592.9L559.1 591.1L560.4 597.8L561.7 595.3L563.0 601.1L564.3 607.3L565.7 604.6L567.0 599.9L568.3 595.5L569.6 597.6L570.9 593.2L572.2 600.4L573.5 593.1L574.8 583.3L576.1 593.8L577.4 607.6L578.7 590.7L580.0 586.7L581.3 589.8L582.6 588.6L583.9 600.7L585.2 593.8L586.5 583.2L587.9 594.3L589.2 594.0L590.5 582.4L591.8 596.6L593.1 592.8L594.4 603.2L595.7 591.4L597.0 594.5L598.3 590.6L599.6 592.0L600.9 604.0L602.2 585.3L603.5 582.1L604.8 592.1L606.1 592.2L607.4 594.6L608.7 603.4L610.0 602.8L611.4 599.5L612.7 601.8L614.0 601.1L615.3 592.8L616.6 581.8L617.9 589.4L619.2 591.2L620.5 591.7L621.8 588.3L623.1 585.9L624.4 594.2L625.7 602.0L627.0 599.3L628.3 589.1L629.6 583.1L630.9 582.0L632.2 585.6L633.6 584.9L634.9 578.6L636.2 590.5L637.5 585.9L638.8 591.8L640.1 595.6L641.4 583.8L642.7 591.1L644.0 584.8L645.3 580.8L646.6 581.9L647.9 591.1L649.2 594.3L650.5 581.7L651.8 598.3L653.1 590.8L654.4 582.7L655.7 581.7L657.1 589.6L658.4 586.6L659.7 591.4L661.0 587.0L662.3 581.9L663.6 587.6L664.9 595.2L666.2 601.5L667.5 593.3L667.5 620.3L666.2 630.8L664.9 625.4L663.6 611.2L662.3 609.7L661.0 614.7L659.7 626.6L658.4 623.5L657.1 615.8L655.7 615.3L654.4 609.4L653.1 623.7L651.8 624.3L650.5 612.7L649.2 623.2L647.9 616.6L646.6 607.5L645.3 622.6L644.0 610.1L642.7 617.2L641.4 614.2L640.1 627.3L638.8 618.8L637.5 614.6L636.2 617.1L634.9 611.7L633.6 617.5L632.2 612.7L630.9 619.9L629.6 617.2L628.3 616.9L627.0 625.8L625.7 635.4L624.4 625.0L623.1 610.5L621.8 616.3L620.5 624.0L619.2 620.0L617.9 615.5L616.6 610.9L615.3 617.8L614.0 625.5L612.7 626.9L611.4 628.1L610.0 627.5L608.7 627.9L607.4 618.3L606.1 622.2L604.8 618.2L603.5 610.5L602.2 622.7L600.9 629.1L599.6 617.2L598.3 615.3L597.0 620.3L595.7 619.9L594.4 628.0L593.1 622.4L591.8 621.3L590.5 614.0L589.2 622.1L587.9 621.2L586.5 620.5L585.2 621.7L583.9 625.7L582.6 619.9L581.3 622.4L580.0 613.3L578.7 620.6L577.4 633.7L576.1 619.5L574.8 620.6L573.5 623.5L572.2 633.1L570.9 626.9L569.6 630.2L568.3 623.6L567.0 626.6L565.7 639.0L564.3 644.4L563.0 627.3L561.7 619.1L560.4 625.4L559.1 622.9L557.8 624.6L556.5 616.3z" fill="#0000ff" fill-opacity="0.33" stroke="#0000ff" stroke-opacity="0.35" stroke-width="0.8" stroke-linejoin="round"/>
<path d="M556.5 597.9L557.8 594.8L559.1 588.8L560.4 594.3L561.7 598.0L563.0 600.3L564.3 582.4L565.7 599.8L567.0 609.8L568.3 602.7L569.6 594.7L570.9 602.1L572.2 603.1L573.5 596.6L574.8 593.1L576.1 580.6L577.4 590.0L578.7 591.0L580.0 590.9L581.3 589.6L582.6 599.5L583.9 597.6L585.2 592.7L586.5 586.2L587.9 592.5L589.2 571.0L590.5 582.6L591.8 584.0L593.1 576.1L594.4 580.7L595.7 584.5L597.0 590.6L598.3 567.8L599.6 574.5L600.9 583.8L602.2 561.9L603.5 577.8L604.8 594.4L606.1 580.6L607.4 587.4L608.7 568.8L610.0 576.8L611.4 562.8L612.7 584.5L614.0 578.8L615.3 566.9L616.6 568.9L617.9 565.0L619.2 559.5L620.5 557.1L621.8 580.5L623.1 578.1L624.4 578.8L625.7 574.9L627.0 563.3L628.3 568.3L629.6 574.2L630.9 568.6L632.2 571.6L633.6 567.6L634.9 566.7L636.2 552.6L637.5 570.3L638.8 569.5L640.1 572.2L641.4 575.0L642.7 569.4L644.0 567.6L645.3 565.5L646.6 566.0L647.9 570.5L649.2 576.5L650.5 566.4L651.8 573.2L653.1 545.6L654.4 567.2L655.7 568.5L657.1 549.7L658.4 564.5L659.7 555.7L661.0 552.6L662.3 563.4L663.6 560.8L664.9 542.1L666.2 551.7L667.5 562.6L667.5 596.2L666.2 587.0L664.9 587.4L663.6 589.4L662.3 598.7L661.0 584.2L659.7 587.1L658.4 593.0L657.1 590.2L655.7 600.6L654.4 598.5L653.1 589.5L651.8 602.2L650.5 599.8L649.2 606.6L647.9 600.0L646.6 594.5L645.3 595.7L644.0 602.2L642.7 599.3L641.4 604.0L640.1 599.6L638.8 596.8L637.5 602.5L636.2 581.8L634.9 597.4L633.6 598.2L632.2 605.0L630.9 600.1L629.6 607.8L628.3 605.2L627.0 598.4L625.7 611.7L624.4 610.2L623.1 605.9L621.8 619.0L620.5 597.4L619.2 591.7L617.9 592.7L616.6 600.7L615.3 601.3L614.0 609.2L612.7 613.9L611.4 600.7L610.0 607.7L608.7 602.3L607.4 618.5L606.1 612.4L604.8 620.3L603.5 610.2L602.2 601.3L600.9 617.6L599.6 614.6L598.3 605.4L597.0 617.6L595.7 612.5L594.4 608.7L593.1 602.8L591.8 616.5L590.5 612.4L589.2 607.1L587.9 620.4L586.5 618.0L585.2 621.3L583.9 628.7L582.6 626.4L581.3 620.3L580.0 633.3L578.7 619.0L577.4 621.3L576.1 613.9L574.8 620.7L573.5 630.9L572.2 630.3L570.9 631.6L569.6 623.6L568.3 643.7L567.0 635.4L565.7 632.8L564.3 617.3L563.0 632.8L561.7 634.6L560.4 620.8L559.1 624.3L557.8 622.3L556.5 631.8z" fill="#228b22" fill-opacity="0.33" stroke="#228b22" stroke-opacity="0.35" stroke-width="0.8" stroke-linejoin="round"/>
<path d="M556.5 591.6L557.8 601.4L559.1 599.8L560.4 596.5L561.7 612.7L563.0 605.0L564.3 588.6L565.7 603.9L567.0 594.2L568.3 604.4L569.6 593.0L570.9 595.9L572.2 581.7L573.5 596.0L574.8 596.9L576.1 596.3L577.4 588.1L578.7 595.4L580.0 594.3L581.3 586.4L582.6 599.8L583.9 573.6L585.2 577.6L586.5 580.5L587.9 587.6L589.2 587.3L590.5 578.6L591.8 595.3L593.1 577.8L594.4 569.7L595.7 566.3L597.0 594.4L598.3 584.5L599.6 579.2L600.9 571.9L602.2 582.2L603.5 573.7L604.8 577.3L606.1 576.2L607.4 582.2L608.7 584.7L610.0 569.2L611.4 566.7L612.7 573.9L614.0 577.5L615.3 561.8L616.6 577.3L617.9 577.8L619.2 582.6L620.5 580.2L621.8 582.8L623.1 577.2L624.4 566.0L625.7 556.9L627.0 571.0L628.3 565.1L629.6 568.3L630.9 557.6L632.2 567.1L633.6 559.8L634.9 574.0L636.2 571.2L637.5 572.1L638.8 566.0L640.1 573.2L641.4 550.2L642.7 573.1L644.0 563.5L645.3 557.9L646.6 573.3L647.9 556.4L649.2 555.0L650.5 557.5L651.8 568.8L653.1 544.5L654.4 561.8L655.7 561.3L657.1 554.1L658.4 562.6L659.7 547.3L661.0 560.2L662.3 562.9L663.6 554.0L664.9 563.7L666.2 559.0L667.5 546.4L667.5 572.6L666.2 588.0L664.9 591.1L663.6 581.3L662.3 591.2L661.0 588.5L659.7 578.5L658.4 591.1L657.1 583.4L655.7 587.2L654.4 601.4L653.1 573.4L651.8 602.1L650.5 584.9L649.2 593.5L647.9 592.4L646.6 602.4L645.3 585.6L644.0 594.8L642.7 601.2L641.4 596.1L640.1 602.7L638.8 593.6L637.5 600.9L636.2 605.8L634.9 607.2L633.6 591.4L632.2 599.8L630.9 589.7L629.6 597.4L628.3 598.8L627.0 598.4L625.7 598.3L624.4 594.1L623.1 606.2L621.8 618.7L620.5 615.3L619.2 615.3L617.9 603.8L616.6 610.2L615.3 593.4L614.0 607.2L612.7 601.0L611.4 602.2L610.0 600.7L608.7 614.1L607.4 609.5L606.1 606.3L604.8 609.3L603.5 601.2L602.2 618.3L600.9 617.9L599.6 608.8L598.3 611.0L597.0 620.4L595.7 600.7L594.4 598.3L593.1 610.9L591.8 621.6L590.5 614.0L589.2 618.1L587.9 617.9L586.5 612.5L585.2 620.9L583.9 604.2L582.6 627.8L581.3 612.1L580.0 625.8L578.7 623.0L577.4 615.8L576.1 626.8L574.8 621.3L573.5 624.8L572.2 618.6L570.9 633.3L569.6 623.9L568.3 634.0L567.0 623.2L565.7 631.7L564.3 616.6L563.0 633.7L561.7 637.3L560.4 629.2L559.1 627.4L557.8 639.4L556.5 620.5z" fill="#ff0000" fill-opacity="0.34" stroke="#ff0000" stroke-opacity="0.35" stroke-width="0.8" stroke-linejoin="round"/>
<path d="M556.5 603.4L557.8 606.3L559.1 605.1L560.4 611.7L561.7 605.7L563.0 612.5L564.3 620.7L565.7 621.4L567.0 611.9L568.3 609.2L569.6 609.6L570.9 608.8L572.2 612.6L573.5 609.2L574.8 605.5L576.1 606.1L577.4 618.6L578.7 603.6L580.0 599.9L581.3 606.8L582.6 600.5L583.9 612.5L585.2 607.2L586.5 605.2L587.9 608.0L589.2 607.3L590.5 598.0L591.8 607.9L593.1 604.4L594.4 614.6L595.7 602.4L597.0 606.7L598.3 601.4L599.6 604.4L600.9 615.7L602.2 603.5L603.5 594.3L604.8 604.0L606.1 606.2L607.4 604.6L608.7 614.5L610.0 613.8L611.4 613.7L612.7 612.2L614.0 611.3L615.3 603.5L616.6 592.8L617.9 600.8L619.2 606.4L620.5 605.8L621.8 601.5L623.1 596.7L624.4 607.5L625.7 617.2L627.0 611.8L628.3 601.1L629.6 603.3L630.9 604.9L632.2 597.5L633.6 603.2L634.9 590.8L636.2 601.7L637.5 600.4L638.8 604.5L640.1 608.7L641.4 601.0L642.7 604.2L644.0 595.9L645.3 603.2L646.6 594.4L647.9 602.1L649.2 609.8L650.5 598.7L651.8 610.2L653.1 607.5L654.4 595.2L655.7 599.4L657.1 602.5L658.4 603.5L659.7 606.3L661.0 597.9L662.3 595.9L663.6 598.1L664.9 607.9L666.2 612.9L667.5 604.4" fill="none" stroke="#0000ff" stroke-width="1.4" stroke-linejoin="round"/>
<path d="M556.5 612.1L557.8 607.3L559.1 608.9L560.4 607.4L561.7 611.1L563.0 614.0L564.3 602.1L565.7 619.2L567.0 621.9L568.3 615.3L569.6 610.5L570.9 617.6L572.2 616.9L573.5 609.9L574.8 605.3L576.1 597.9L577.4 608.0L578.7 604.9L580.0 603.3L581.3 602.7L582.6 612.6L583.9 612.4L585.2 607.2L586.5 602.5L587.9 604.2L589.2 586.5L590.5 597.6L591.8 603.0L593.1 587.8L594.4 593.3L595.7 597.0L597.0 604.4L598.3 589.7L599.6 594.3L600.9 597.1L602.2 586.3L603.5 592.5L604.8 606.7L606.1 594.7L607.4 603.7L608.7 588.3L610.0 592.3L611.4 585.7L612.7 597.3L614.0 592.6L615.3 585.5L616.6 582.4L617.9 578.4L619.2 575.1L620.5 581.5L621.8 594.4L623.1 591.1L624.4 592.4L625.7 587.1L627.0 585.1L628.3 585.0L629.6 593.1L630.9 583.4L632.2 587.6L633.6 581.2L634.9 581.0L636.2 565.2L637.5 586.6L638.8 582.3L640.1 585.1L641.4 589.5L642.7 582.2L644.0 582.1L645.3 580.3L646.6 581.1L647.9 585.0L649.2 590.9L650.5 581.0L651.8 587.1L653.1 572.6L654.4 582.0L655.7 584.2L657.1 577.0L658.4 577.3L659.7 572.3L661.0 570.5L662.3 584.0L663.6 574.0L664.9 571.6L666.2 573.7L667.5 580.8" fill="none" stroke="#228b22" stroke-width="1.4" stroke-linejoin="round"/>
<path d="M556.5 607.2L557.8 621.4L559.1 613.6L560.4 613.1L561.7 624.0L563.0 618.0L564.3 602.2L565.7 616.8L567.0 607.7L568.3 617.7L569.6 604.7L570.9 617.0L572.2 601.8L573.5 609.9L574.8 608.1L576.1 608.6L577.4 601.4L578.7 609.2L580.0 606.9L581.3 598.7L582.6 613.0L583.9 588.8L585.2 607.4L586.5 597.3L587.9 603.2L589.2 600.5L590.5 595.3L591.8 608.5L593.1 594.0L594.4 585.2L595.7 586.4L597.0 605.8L598.3 596.7L599.6 591.4L600.9 599.8L602.2 603.3L603.5 586.1L604.8 593.2L606.1 591.6L607.4 593.8L608.7 599.6L610.0 587.3L611.4 586.2L612.7 587.5L614.0 591.4L615.3 577.6L616.6 592.8L617.9 589.9L619.2 600.0L620.5 596.4L621.8 602.7L623.1 591.5L624.4 580.6L625.7 576.2L627.0 583.3L628.3 579.5L629.6 580.9L630.9 573.7L632.2 584.5L633.6 577.4L634.9 588.0L636.2 591.9L637.5 586.6L638.8 579.1L640.1 586.0L641.4 570.1L642.7 586.3L644.0 580.1L645.3 570.6L646.6 588.6L647.9 571.5L649.2 577.4L650.5 570.0L651.8 585.5L653.1 558.9L654.4 577.5L655.7 573.8L657.1 568.8L658.4 575.6L659.7 561.5L661.0 573.2L662.3 578.1L663.6 567.4L664.9 576.7L666.2 573.5L667.5 558.4" fill="none" stroke="#ff0000" stroke-width="1.4" stroke-linejoin="round"/>
<path d="M484.9 628.1L486.4 625.0L488.1 615.0L489.6 651.0L491.1 621.5L492.5 650.7L493.7 634.0L495.8 640.1L497.2 618.0L498.6 630.2L500.1 612.1L501.6 631.4L502.4 632.0L504.0 643.6L505.4 625.0L506.8 636.1L509.1 620.9L510.6 631.4L511.8 615.6L514.1 634.9L515.6 616.8L516.8 634.3L518.4 617.4L520.5 626.1L522.3 646.6L524.6 611.3L526.1 639.6L527.5 607.8L528.9 624.4L531.1 626.1L532.8 611.8L534.3 612.7L536.3 625.0L537.8 614.5L539.2 613.9L540.6 602.8L541.8 633.1L543.3 609.2L545.1 623.8L546.8 608.0L549.7 629.6L552.1 612.1L553.8 603.1L555.0 634.3" fill="none" stroke="#000" stroke-width="1.45" stroke-linejoin="round"/>
</g>
<rect class="fr" x="484.7" y="538.3" width="182.8" height="118.1"/>
<path class="tm" d="M484.7 634.1h-3.4"/>
<text class="tk" x="478.4" y="637.8" text-anchor="end">2</text>
<path class="tm" d="M484.7 597.6h-3.4"/>
<text class="tk" x="478.4" y="601.3" text-anchor="end">3</text>
<path class="tm" d="M484.7 561.1h-3.4"/>
<text class="tk" x="478.4" y="564.8" text-anchor="end">4</text>
<path class="tm" d="M484.7 656.4v3.4"/>
<text class="tk" x="484.9" y="670.0" text-anchor="middle">1960</text>
<path class="tm" d="M510.8 656.4v3.4"/>
<text class="tk" x="511.0" y="670.0" text-anchor="middle">1980</text>
<path class="tm" d="M536.9 656.4v3.4"/>
<text class="tk" x="537.1" y="670.0" text-anchor="middle">2000</text>
<path class="tm" d="M563.0 656.4v3.4"/>
<text class="tk" x="563.2" y="670.0" text-anchor="middle">2020</text>
<path class="tm" d="M589.2 656.4v3.4"/>
<text class="tk" x="589.4" y="670.0" text-anchor="middle">2040</text>
<path class="tm" d="M615.3 656.4v3.4"/>
<text class="tk" x="615.5" y="670.0" text-anchor="middle">2060</text>
<path class="tm" d="M641.4 656.4v3.4"/>
<text class="tk" x="641.6" y="670.0" text-anchor="middle">2080</text>
<path class="tm" d="M667.5 656.4v3.4"/>
<text class="tk" x="667.7" y="670.0" text-anchor="middle">2100</text>
<rect x="64.5" y="678.4" width="568.1" height="28.9" rx="2.8" ry="2.8" fill="#fff" stroke="#cfcfcf" stroke-width="0.9"/>
<path d="M71.0 691.6h36" stroke="#000000" stroke-width="1.6" fill="none"/>
<text class="tt" x="115.7" y="697.3" style="font-size:17.4px">Historical</text>
<path d="M224.3 691.6h36" stroke="#0000ff" stroke-width="1.6" fill="none"/>
<text class="tt" x="269.0" y="697.3" style="font-size:17.4px">SSP1-2.6</text>
<path d="M369.8 691.6h36" stroke="#228b22" stroke-width="1.6" fill="none"/>
<text class="tt" x="414.5" y="697.3" style="font-size:17.4px">SSP3-7.0</text>
<path d="M515.2 691.6h36" stroke="#ff0000" stroke-width="1.6" fill="none"/>
<text class="tt" x="560.3" y="697.3" style="font-size:17.4px">SSP5-8.5</text>
</svg>
</body></html>
